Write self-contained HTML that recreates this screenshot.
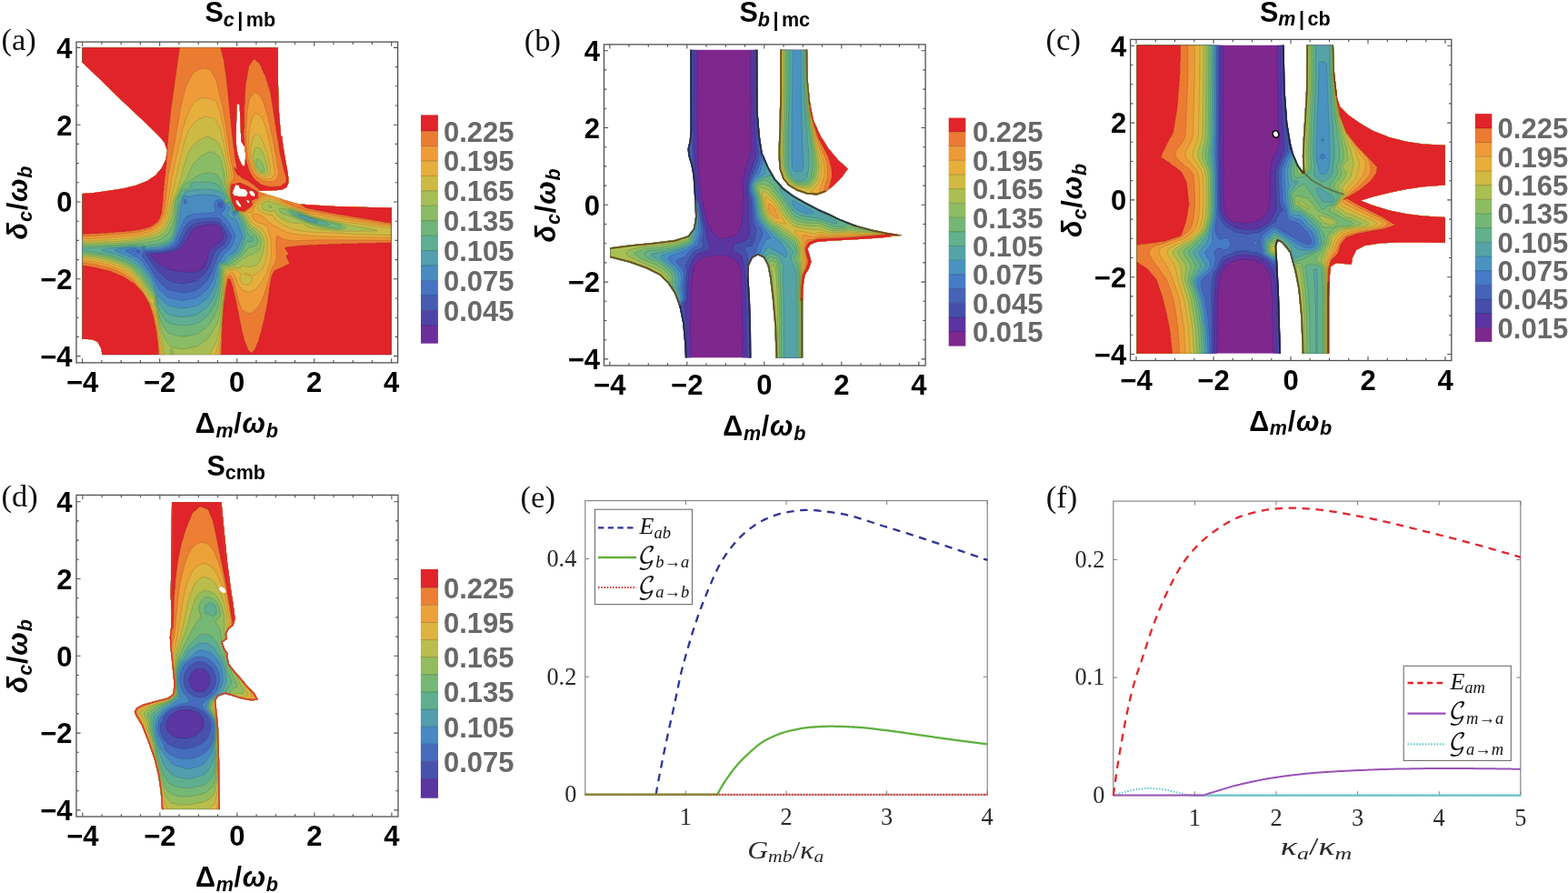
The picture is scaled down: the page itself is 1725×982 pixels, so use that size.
<!DOCTYPE html>
<html lang="en">
<head>
<meta charset="utf-8">
<title>Figure: entanglement and steering</title>
<style>
html,body{margin:0;padding:0;background:#fff;}
body{width:1725px;height:982px;overflow:hidden;}
svg{display:block;}
text{white-space:pre;}
</style>
</head>
<body>
<svg width="1725" height="982" viewBox="0 0 1725 982" role="img" aria-label="Six panel figure: contour plots of steering (a-d) and line plots of entanglement and steering (e-f)">
<rect width="1725" height="982" fill="#fff"/>
<defs><filter id="soft" x="0" y="0" width="100%" height="100%" filterUnits="userSpaceOnUse" color-interpolation-filters="sRGB"><feGaussianBlur stdDeviation="0.55"/></filter></defs>
<g filter="url(#soft)">
<rect width="1725" height="982" fill="#fff"/>
<g id="panel-a">
<clipPath id="clip-a"><path d="M430.7 390.3L430.7 228.4L430.5 228.4L406.6 228.0L370.0 227.1L348.0 225.8L333.3 224.7L330.0 224.8L321.6 222.5L311.5 219.5L301.3 216.0L291.1 212.9L283.0 210.5L287.0 209.8L295.2 209.5L303.3 209.3L310.4 208.5L315.3 206.0L317.4 200.9L317.2 194.8L316.0 186.7L314.3 177.5L312.7 168.3L311.3 159.2L310.2 150.0L309.1 149.6L306.7 120.3L305.8 83.7L305.8 52.1L305.8 52.1L90.5 52.1L90.5 68.6L108.8 85.9L130.8 107.5L154.7 129.9L173.0 147.4L180.7 156.2L184.0 165.2L182.5 175.3L178.1 184.5L171.2 192.7L162.0 199.1L149.2 204.1L134.5 207.4L118.0 210.1L103.3 212.0L90.5 213.1L90.5 372.8L101.5 373.2L107.4 376.1L111.2 382.9L112.5 390.2L112.5 390.3ZM259.7 156.1L259.7 150.0L260.5 114.4L263.6 114.4L265.1 150.0L265.6 156.1L269.2 161.2L270.2 170.4L269.7 180.5L268.2 183.6L265.6 180.5L262.6 173.4L260.5 165.3ZM255.5 212.1L257.0 208.0L259.0 203.0L262.6 203.5L264.1 207.0L270.7 208.6L272.8 212.1L271.2 216.2L263.6 216.2L257.5 215.2ZM276.3 215.2L274.0 212.1L274.3 209.6L277.9 210.1L280.9 213.6L279.9 216.2ZM274.8 222.8L272.3 223.3L270.7 219.8L273.8 220.3ZM263.1 227.4L260.0 223.8L259.0 219.8L261.6 220.3L265.1 225.4L265.6 227.9Z" clip-rule="evenodd"/></clipPath>
<g clip-path="url(#clip-a)">
<rect x="90.5" y="52.1" width="340.2" height="338.2" fill="#6a2f9a"/>
<path d="M430.2 389.9L90.8 389.9L90.7 52.4L430.2 52.3L430.2 389.9ZM211.9 299.4L214.8 298.9L220.2 296.9L222.2 295.9L224.1 294.4L225.4 292.4L227.6 286.9L229.1 278.9L230.9 274.9L232.9 272.4L235.1 270.4L242.2 266.1L244.7 262.9L245.7 259.9L245.3 257.4L241.2 249.4L239.2 247.3L236.8 246.9L225.8 247.6L216.8 249.5L213.9 251.3L211.4 253.8L203.4 267.9L199.8 272.1L197.8 273.9L188.8 277.5L168.2 279.7L166.8 280.1L166.2 280.9L166.4 281.9L167.9 283.9L174.2 289.4L177.8 291.7L186.8 296.4L200.2 299.2L211.9 299.4Z" fill="#4e44a7" fill-rule="evenodd" stroke="#000" stroke-opacity="0.22" stroke-width="0.6"/>
<path d="M430.2 389.9L90.8 389.9L90.7 52.4L430.2 52.3L430.2 389.9ZM203.7 311.9L215.8 309.1L224.2 302.0L227.9 296.9L232.2 288.9L233.3 285.9L234.6 280.4L235.6 278.4L239.2 274.1L245.3 269.4L247.2 266.9L249.4 261.9L249.6 259.9L249.4 258.4L245.4 250.8L242.0 245.8L240.2 244.2L237.2 243.5L225.2 244.2L217.2 245.2L212.8 246.7L209.9 248.3L208.1 250.3L204.8 255.2L199.1 266.4L196.6 269.9L194.2 272.0L189.0 274.9L186.8 275.6L176.2 277.4L165.0 277.9L161.8 278.5L160.8 279.1L160.9 280.4L162.4 282.9L172.2 295.9L176.8 301.0L184.2 307.7L186.8 309.1L190.8 310.3L199.8 312.1L203.7 311.9Z" fill="#465cb3" fill-rule="evenodd" stroke="#000" stroke-opacity="0.22" stroke-width="0.6"/>
<path d="M430.2 389.9L90.8 389.9L90.7 52.4L430.2 52.3L430.2 389.9ZM242.9 228.3L243.8 228.2L244.6 227.3L244.8 225.8L243.4 222.8L241.8 222.3L240.1 223.3L239.7 224.3L239.7 225.8L240.8 227.5L242.9 228.3ZM202.3 321.9L214.8 319.4L216.8 318.7L219.2 316.9L226.2 310.5L228.9 306.9L233.8 297.1L240.1 280.9L243.2 276.6L249.2 271.5L251.1 268.9L254.2 261.4L254.4 259.9L254.1 258.4L248.3 248.3L242.8 242.0L240.7 240.3L236.2 239.5L225.8 240.1L215.2 241.2L210.8 242.6L207.2 244.7L204.8 247.4L201.8 252.3L195.6 265.9L193.8 268.4L191.5 270.4L186.2 273.5L177.2 275.7L162.8 276.4L159.2 275.8L156.3 279.9L156.1 280.9L156.5 281.9L163.2 290.9L170.8 303.7L174.8 309.3L177.8 312.4L183.8 317.7L186.2 319.1L199.2 321.8L202.3 321.9ZM147.4 275.9L146.5 275.9L147.2 276.3L147.4 275.9ZM153.2 278.4L153.5 276.9L152.8 275.8L151.2 275.6L149.3 276.4L151.2 278.3L152.2 278.6L153.2 278.4Z" fill="#4673c2" fill-rule="evenodd" stroke="#000" stroke-opacity="0.22" stroke-width="0.6"/>
<path d="M430.2 389.9L90.8 389.9L90.7 52.4L430.2 52.3L430.2 389.9ZM204.5 224.3L205.5 223.3L205.7 221.8L204.8 219.9L203.2 219.1L202.5 220.3L202.6 222.8L203.2 224.1L204.5 224.3ZM202.1 330.4L214.2 328.1L216.8 327.2L220.8 324.5L228.8 317.6L233.2 309.7L235.0 305.9L236.2 301.7L238.8 289.9L239.9 288.4L242.7 285.9L246.8 279.1L252.2 274.6L253.9 272.9L258.9 261.4L259.2 259.9L258.7 257.9L252.4 245.8L250.0 242.3L243.1 235.3L243.4 234.3L247.0 230.8L248.0 227.8L247.6 226.3L246.0 224.3L244.2 221.0L242.8 219.9L240.8 219.6L238.8 219.8L237.2 220.6L236.3 221.8L235.7 225.3L236.9 232.3L236.3 233.3L231.8 234.1L213.2 235.2L208.8 236.6L205.2 238.3L203.2 240.6L200.8 244.5L196.5 256.4L192.8 264.9L190.2 267.9L185.3 271.4L176.2 274.1L162.8 275.0L160.8 274.7L158.6 272.9L157.2 272.6L156.3 273.9L157.0 275.9L156.2 276.6L153.8 274.3L147.8 273.3L142.2 273.9L137.7 275.4L137.9 275.9L139.4 276.9L153.2 284.5L155.8 286.7L165.8 300.7L175.2 318.4L183.2 326.1L185.2 327.4L187.2 328.0L198.8 330.2L202.1 330.4ZM258.6 234.3L258.2 233.6L257.2 233.8L257.8 234.7L258.6 234.3Z" fill="#498cc2" fill-rule="evenodd" stroke="#000" stroke-opacity="0.22" stroke-width="0.6"/>
<path d="M430.2 389.9L90.8 389.9L90.7 52.4L430.2 52.3L430.2 389.9ZM203.0 338.9L213.8 337.1L217.2 336.0L225.8 329.9L228.8 327.0L233.2 320.0L236.1 313.9L238.7 303.4L239.7 292.4L240.4 290.4L241.8 289.1L247.1 286.9L248.9 283.4L250.2 281.9L257.6 277.9L259.4 276.4L260.8 274.3L264.5 265.4L266.7 261.4L266.6 258.4L260.2 241.7L257.8 239.6L254.8 239.5L253.2 238.9L251.9 237.8L250.9 236.3L250.9 234.3L252.6 231.3L253.6 227.8L251.8 227.3L250.0 225.8L247.2 224.3L246.1 222.8L244.2 218.4L241.8 216.5L239.8 215.7L232.8 214.3L228.8 214.1L217.7 214.3L207.8 216.2L206.2 216.1L203.8 215.2L202.2 215.6L200.8 218.8L199.4 226.3L197.5 240.8L194.6 255.3L192.8 260.4L190.8 264.4L188.8 266.5L184.2 269.7L176.2 272.2L165.8 273.0L162.2 273.8L160.8 273.5L158.8 271.9L157.8 271.6L154.2 273.0L150.2 272.3L146.2 272.1L133.2 273.1L127.7 274.4L126.4 274.9L126.1 275.4L127.8 276.4L143.8 282.8L152.2 288.3L155.8 291.3L164.2 302.8L167.2 307.5L174.8 326.4L182.2 333.4L185.8 336.0L188.2 337.0L198.8 338.8L203.0 338.9ZM257.9 237.8L258.8 237.3L259.8 235.8L260.2 234.3L260.0 233.3L259.4 232.8L257.8 232.5L255.2 232.8L254.9 233.8L255.8 236.0L256.8 237.5L257.9 237.8Z" fill="#529fad" fill-rule="evenodd" stroke="#000" stroke-opacity="0.22" stroke-width="0.6"/>
<path d="M430.2 389.9L90.8 389.9L90.7 52.4L430.2 52.3L430.2 389.9ZM204.1 348.4L214.8 346.6L217.2 345.8L226.2 339.0L229.9 335.4L235.7 325.9L238.7 316.4L239.8 311.4L240.6 304.9L241.4 291.4L242.2 290.4L243.2 289.8L249.2 288.2L252.8 283.9L259.8 279.8L261.8 278.3L263.9 274.9L269.8 260.9L269.9 258.9L269.3 256.4L263.4 239.8L261.5 236.8L261.0 232.8L260.4 232.3L256.8 231.7L255.5 230.8L255.3 229.8L255.6 227.3L252.8 223.6L251.8 223.4L249.2 224.2L247.2 223.3L246.4 221.8L246.2 220.3L246.4 218.8L247.4 216.8L244.2 212.2L241.2 210.4L234.8 208.6L229.2 208.0L216.8 208.3L212.2 209.0L203.7 211.3L203.0 212.8L200.9 214.8L198.8 222.7L196.8 225.8L193.9 250.3L191.8 258.4L188.9 263.9L183.8 267.7L175.8 270.3L164.8 271.3L161.8 272.3L157.8 270.6L154.2 271.5L149.2 271.0L145.8 271.0L120.4 272.9L112.1 274.9L112.4 275.4L116.6 276.9L130.8 280.9L140.8 285.2L145.2 287.6L153.8 293.7L155.8 295.7L158.4 299.4L164.8 308.9L167.2 313.1L171.3 321.9L172.4 325.4L172.9 328.9L174.1 331.4L174.1 333.9L174.8 334.6L176.2 334.8L176.8 335.3L178.2 338.4L179.2 339.8L184.7 344.9L187.2 346.2L199.8 348.6L204.1 348.4ZM349.6 244.3L350.0 243.8L348.4 242.8L343.8 241.2L341.3 239.8L338.8 239.4L336.8 238.2L328.8 235.8L327.4 235.8L326.9 236.3L327.6 237.3L331.1 239.3L338.8 242.4L346.2 244.4L349.6 244.3Z" fill="#5fad92" fill-rule="evenodd" stroke="#000" stroke-opacity="0.22" stroke-width="0.6"/>
<path d="M430.2 389.9L90.8 389.9L90.8 275.8L101.2 277.1L119.8 280.5L131.8 284.2L142.2 288.9L146.2 291.4L153.2 297.0L155.9 299.9L169.9 321.4L171.7 326.4L172.7 331.9L172.8 334.9L174.9 338.9L175.8 342.5L179.8 349.4L184.2 353.9L187.2 355.9L198.2 358.0L202.8 358.1L213.8 356.4L217.2 355.2L219.8 353.8L226.8 348.4L229.7 345.4L236.5 334.9L239.8 324.0L241.8 311.4L242.9 291.9L244.2 290.8L249.8 290.1L251.2 289.5L255.8 285.0L262.8 280.6L265.6 277.4L270.2 267.8L271.8 265.6L272.8 265.1L275.2 266.0L276.8 266.0L278.2 265.0L278.7 263.4L277.8 261.2L274.2 259.4L273.2 258.2L265.4 239.3L262.4 235.3L261.5 232.3L257.8 231.5L256.6 230.8L256.2 229.8L256.2 227.2L253.2 222.5L252.2 221.5L251.8 221.4L250.2 222.9L249.2 223.3L248.2 223.1L247.3 222.3L246.9 220.8L247.1 219.8L247.8 219.2L249.8 218.4L249.7 217.3L245.8 210.7L240.8 203.6L238.2 202.1L230.2 200.1L215.8 200.5L212.8 200.8L210.8 201.8L209.5 203.8L208.5 206.8L206.8 208.4L204.2 209.1L201.2 208.5L200.2 209.7L199.5 211.8L198.2 213.2L197.7 215.3L196.2 217.8L196.0 220.8L196.7 222.3L194.9 224.8L195.1 227.3L192.9 244.3L192.0 250.3L190.3 256.9L189.2 259.2L187.2 262.1L183.2 265.4L180.8 266.5L175.2 268.1L164.2 269.2L161.2 270.2L157.2 269.3L153.8 269.8L148.2 269.6L90.8 272.8L90.7 52.4L430.2 52.3L430.2 389.9ZM361.8 247.3L361.9 246.8L361.2 246.3L357.1 244.3L343.8 240.3L341.8 239.3L339.2 238.8L337.2 237.5L335.2 237.2L329.2 234.7L326.2 234.4L322.2 233.4L320.2 232.3L319.4 232.8L322.2 235.3L327.2 238.6L338.8 243.4L345.8 245.5L354.8 247.1L358.2 247.5L361.8 247.3Z" fill="#70b679" fill-rule="evenodd" stroke="#000" stroke-opacity="0.22" stroke-width="0.6"/>
<path d="M430.2 389.9L90.8 389.9L90.8 278.1L102.8 279.2L119.2 282.3L131.2 286.0L141.3 290.4L145.2 292.8L155.2 302.7L164.6 317.4L168.9 322.4L171.1 327.4L171.9 331.9L171.9 334.9L173.7 339.4L174.0 342.4L176.2 350.9L177.8 355.2L180.8 361.0L185.2 365.6L188.2 367.5L198.8 369.8L201.8 370.0L216.8 367.4L225.8 360.8L229.8 357.0L237.1 345.4L240.4 334.4L242.4 321.4L244.1 296.9L244.8 293.0L246.2 292.0L251.8 291.4L255.5 289.4L266.5 280.9L272.8 273.3L274.8 272.2L280.2 270.8L282.2 269.6L283.3 267.9L283.7 264.9L283.2 262.4L282.2 260.4L280.2 258.2L276.2 254.8L273.2 251.4L270.2 246.0L266.9 238.8L263.2 235.0L262.1 232.3L257.8 230.9L257.0 230.3L256.8 227.3L251.8 219.3L249.0 213.8L247.0 207.8L244.8 204.3L243.0 198.8L241.2 195.7L238.8 192.8L236.2 191.0L233.2 190.2L228.8 189.7L222.8 191.0L215.8 194.1L213.2 195.7L208.2 200.3L205.2 200.9L202.5 202.8L201.5 205.3L200.2 206.8L196.9 212.8L194.8 217.3L193.6 221.3L192.5 229.3L191.8 239.8L190.9 244.3L189.2 248.7L185.1 256.9L183.2 258.5L176.2 263.3L172.2 264.7L160.8 266.7L152.8 267.4L119.2 269.8L90.8 270.6L90.7 52.4L430.2 52.3L430.2 389.9ZM248.8 222.4L247.7 221.3L248.1 220.3L248.8 220.1L249.7 220.3L250.0 221.3L249.8 221.9L248.8 222.4ZM373.3 250.8L375.7 250.3L376.7 249.3L375.8 248.5L374.1 247.8L339.8 238.3L337.2 236.8L335.2 236.4L329.8 233.9L323.8 232.4L321.2 231.2L318.2 231.3L316.6 232.3L316.7 233.3L317.7 234.3L326.8 239.6L342.2 245.6L358.8 249.5L369.8 251.0L373.3 250.8Z" fill="#8abb65" fill-rule="evenodd" stroke="#000" stroke-opacity="0.22" stroke-width="0.6"/>
<path d="M430.2 389.9L190.0 389.9L190.2 385.9L189.8 384.4L188.8 383.4L187.8 384.3L187.5 385.4L188.2 389.9L90.8 389.9L90.8 279.8L103.2 281.1L119.2 284.1L132.2 288.4L141.8 292.8L145.2 295.2L155.2 306.0L163.8 319.5L168.2 325.4L170.2 327.4L171.2 332.4L170.9 334.9L172.8 339.4L173.0 342.4L176.8 360.9L178.8 366.8L181.8 373.7L187.8 381.0L189.2 382.3L193.2 382.5L199.2 383.8L201.8 383.8L215.8 381.3L217.8 380.4L221.2 378.0L226.8 374.0L229.2 371.6L238.2 357.4L240.3 352.9L242.2 340.4L243.3 331.9L245.2 300.9L245.8 296.9L246.7 294.9L248.2 293.9L253.2 292.9L259.3 290.9L263.8 286.8L271.2 282.3L283.2 276.8L284.8 275.2L286.1 272.4L287.1 268.9L287.4 265.9L286.8 262.4L285.4 259.4L280.3 253.8L276.2 250.9L274.8 249.3L271.8 244.8L268.1 237.8L263.8 234.4L262.6 232.3L259.2 231.1L257.6 229.8L256.9 226.8L252.5 218.8L249.5 212.3L249.1 206.8L247.1 201.8L247.1 195.8L246.2 188.8L243.5 177.3L240.8 171.9L239.2 170.0L234.2 167.4L231.8 166.9L227.8 168.0L221.2 171.5L214.2 178.3L211.8 181.6L204.6 197.3L203.4 199.3L200.8 202.3L195.0 214.8L193.7 216.8L192.1 221.3L189.4 237.3L188.2 242.3L183.1 252.8L180.2 255.9L174.8 259.8L172.2 261.1L154.8 264.5L139.8 266.5L122.8 267.8L90.8 268.8L90.7 52.4L430.2 52.3L430.2 389.9ZM290.2 188.8L291.0 187.8L291.0 186.3L287.8 178.3L285.8 176.0L282.8 174.4L282.2 175.3L281.5 180.8L281.8 182.6L283.8 185.2L285.7 186.8L286.8 188.6L288.8 189.2L290.2 188.8ZM298.5 228.3L298.9 227.8L298.2 226.8L296.8 226.3L295.8 226.8L296.8 228.1L298.5 228.3ZM376.4 252.3L379.2 251.6L380.5 250.3L380.4 249.3L379.6 248.3L376.8 246.9L344.2 239.1L339.8 237.7L337.8 236.2L335.8 235.8L330.2 233.2L324.2 231.4L321.9 230.3L316.8 230.3L308.8 228.8L307.8 229.0L307.0 229.8L307.2 231.5L308.2 233.3L310.8 235.2L319.2 237.4L326.8 241.1L344.2 247.6L352.8 249.9L358.8 251.1L370.8 252.5L376.4 252.3Z" fill="#a7be54" fill-rule="evenodd" stroke="#000" stroke-opacity="0.22" stroke-width="0.6"/>
<path d="M430.2 389.9L230.7 389.9L231.3 387.9L237.2 377.4L238.8 373.8L242.3 356.9L242.9 352.9L243.8 338.9L244.8 331.9L246.0 305.4L246.6 300.9L247.6 297.9L248.3 296.9L249.8 295.8L256.8 294.2L259.2 294.1L262.8 295.1L264.2 295.0L265.2 294.4L266.2 291.9L266.8 291.6L270.8 293.3L273.8 293.8L280.2 292.3L282.8 291.2L284.4 289.4L288.2 281.4L289.9 274.4L290.8 266.9L290.5 263.9L289.6 260.9L288.3 258.4L286.4 255.8L282.8 252.3L278.4 249.3L276.2 247.3L273.2 243.5L271.0 238.8L269.9 237.3L264.8 234.4L262.4 231.8L259.8 231.2L258.0 229.3L250.5 212.3L250.5 206.8L249.1 201.3L249.7 194.3L249.5 189.3L247.2 177.2L244.2 166.0L241.2 159.1L239.2 156.1L236.8 154.0L229.8 150.4L228.2 150.1L226.2 150.5L217.8 155.0L210.2 162.6L208.2 165.6L204.0 176.3L198.5 197.8L195.1 209.3L193.3 213.8L191.8 216.3L190.4 220.3L185.4 240.8L182.1 248.8L180.2 251.5L178.4 253.3L173.9 256.9L171.2 258.3L155.8 262.0L139.8 264.3L123.2 265.8L90.8 267.0L90.7 52.4L430.2 52.3L430.2 389.9ZM291.5 191.3L292.9 190.8L294.0 189.8L294.5 187.3L293.6 180.8L290.8 171.5L289.0 167.3L286.2 163.5L284.2 162.1L282.2 162.2L281.2 162.8L280.1 164.3L278.3 171.8L278.9 175.8L280.1 179.3L280.5 182.8L281.8 184.8L282.4 186.8L285.5 189.8L289.2 191.2L291.5 191.3ZM414.4 253.8L415.0 253.3L411.4 252.3L386.2 248.0L376.8 245.5L358.8 241.8L344.2 238.4L339.8 236.9L337.8 235.4L335.8 234.9L322.8 229.7L317.7 229.3L308.8 225.6L296.5 221.3L293.8 221.0L291.2 221.6L289.2 223.4L287.6 226.3L287.7 227.8L288.7 229.3L292.8 231.9L296.8 232.9L301.2 232.1L302.8 232.3L303.6 233.3L304.2 236.2L305.2 237.3L311.2 241.1L316.8 243.7L322.4 245.3L324.8 245.6L328.2 245.0L332.6 245.8L335.1 246.8L339.2 249.6L342.2 250.5L352.2 252.3L371.2 254.0L390.8 254.3L414.4 253.8ZM180.2 389.9L90.7 389.9L90.8 281.7L102.8 282.9L115.8 285.4L130.8 290.1L143.2 296.4L154.2 308.0L166.2 327.9L166.8 328.2L168.8 328.0L169.8 328.9L169.9 332.4L169.1 334.4L169.4 335.4L171.2 337.9L171.9 339.9L172.0 342.9L173.3 347.9L174.1 354.4L180.3 387.4L180.6 389.9L180.2 389.9Z" fill="#ccba44" fill-rule="evenodd" stroke="#000" stroke-opacity="0.22" stroke-width="0.6"/>
<path d="M430.2 389.9L236.8 389.9L239.9 380.4L241.7 372.9L245.7 331.9L246.9 307.4L247.4 303.9L248.2 300.9L249.8 298.7L251.8 297.6L257.2 296.5L260.0 296.9L261.6 297.9L265.5 301.4L264.1 304.4L263.8 306.4L264.4 308.9L265.8 310.9L267.8 312.5L270.2 313.3L272.8 313.3L274.8 312.3L276.2 310.9L277.1 308.9L277.3 306.4L276.7 303.4L281.2 301.6L286.2 297.9L288.4 295.9L290.2 292.7L291.6 288.9L293.7 278.4L294.2 267.4L293.9 263.9L293.0 260.4L291.0 255.8L288.8 252.8L286.4 250.8L280.8 247.5L276.2 243.7L274.8 241.8L272.9 237.3L271.8 236.1L269.8 235.1L265.8 234.2L262.9 231.8L259.4 230.8L254.9 221.8L251.3 211.8L251.5 206.8L250.7 201.3L252.0 194.3L252.1 190.3L245.9 156.3L243.0 144.3L241.8 140.8L237.2 132.1L234.8 130.1L227.8 128.2L225.8 128.2L223.8 128.9L216.2 133.2L213.8 135.1L211.2 138.0L207.0 144.3L203.2 154.6L201.8 159.8L186.5 225.3L184.2 236.8L180.8 246.0L177.8 250.0L172.8 254.2L170.2 255.7L160.8 258.7L155.8 259.8L139.8 262.1L123.2 263.6L90.8 265.0L90.7 52.4L430.2 52.3L430.2 250.9L379.2 244.1L355.1 239.8L344.2 237.5L340.7 236.3L338.2 234.7L332.8 232.9L322.8 228.8L318.2 228.4L315.2 226.6L307.8 223.3L302.0 220.3L296.2 218.7L292.2 218.7L289.2 220.0L284.5 224.8L283.4 226.8L283.1 228.3L283.5 229.8L284.8 231.3L291.2 234.9L294.8 236.1L299.8 236.5L301.3 239.3L302.8 241.1L308.0 245.3L311.8 247.7L320.2 251.3L330.8 253.9L336.2 254.7L349.8 255.6L367.8 256.1L387.8 257.4L430.2 258.7L430.2 389.9ZM295.0 193.3L296.2 192.6L297.2 191.3L297.6 188.3L297.0 182.3L293.9 167.8L288.2 153.2L284.2 148.2L283.2 147.5L281.8 147.5L279.8 148.8L278.2 151.0L277.2 154.3L276.2 160.0L276.0 162.8L276.5 171.8L277.6 176.8L279.0 180.3L279.5 183.3L281.8 188.3L284.8 191.0L289.8 193.4L292.2 193.8L295.0 193.3ZM177.8 389.9L90.7 389.9L90.8 283.8L102.8 285.2L116.2 287.9L130.2 292.6L135.8 295.4L142.8 299.4L145.2 301.7L152.5 309.9L156.8 316.4L162.9 326.9L167.7 336.4L170.2 339.9L170.6 342.9L172.2 348.4L174.1 360.4L177.7 386.9L177.8 389.9ZM275.2 303.0L270.8 302.4L268.8 301.4L269.0 300.9L270.2 300.4L272.8 300.7L275.0 301.9L275.7 302.9L275.2 303.0Z" fill="#e6af3d" fill-rule="evenodd" stroke="#000" stroke-opacity="0.22" stroke-width="0.6"/>
<path d="M101.2 262.4L90.8 262.7L90.8 52.3L430.3 52.4L430.2 249.0L387.2 242.8L341.2 234.9L322.2 227.6L319.2 227.1L316.2 225.3L309.8 222.5L302.8 218.0L299.8 216.9L296.2 216.3L293.2 216.2L290.8 216.8L288.8 217.8L286.3 219.8L281.6 224.8L280.0 227.8L278.2 232.9L277.5 233.8L272.2 233.4L266.2 233.5L263.4 231.8L259.8 231.1L259.0 230.3L255.2 221.8L252.2 212.3L252.1 201.8L254.3 194.8L254.5 190.3L251.3 174.3L246.1 141.8L242.3 123.8L238.2 113.3L236.8 111.1L235.2 110.3L227.8 107.9L224.8 107.6L218.6 108.8L212.8 113.7L209.8 118.4L205.2 128.3L201.1 141.8L190.1 190.8L182.6 234.3L180.7 239.8L177.2 246.5L174.2 249.4L168.8 253.3L163.2 255.3L156.2 257.4L137.8 259.9L120.8 261.3L101.2 262.4ZM296.0 196.8L298.2 196.1L300.2 194.4L301.8 192.3L302.2 190.3L299.5 171.8L295.8 152.8L291.8 138.5L289.2 131.3L287.2 128.4L285.2 126.4L283.2 125.2L281.2 125.0L279.8 126.0L278.2 128.4L274.7 139.3L273.4 154.8L274.8 172.8L276.1 177.8L277.6 181.3L278.1 183.8L280.8 189.3L283.8 192.2L289.2 195.8L291.8 196.5L296.0 196.8ZM430.2 389.9L240.8 389.9L240.8 386.9L242.0 380.9L243.0 372.9L244.1 354.9L247.9 307.9L248.3 305.4L249.2 302.8L250.8 300.9L252.2 300.1L254.8 299.9L256.8 300.5L258.1 302.4L261.7 311.9L266.2 318.3L268.2 319.7L271.2 320.8L273.2 321.0L275.8 320.6L279.2 319.3L281.5 317.9L287.2 310.9L292.8 300.9L297.4 287.4L298.4 281.4L298.4 269.9L297.7 262.9L295.0 251.8L293.8 249.5L291.2 247.6L288.8 246.3L284.2 244.8L278.7 241.3L277.6 238.8L277.7 236.8L278.2 235.6L279.2 235.2L283.2 235.5L286.1 236.3L289.3 238.3L297.8 245.8L300.7 247.8L313.8 254.5L317.8 256.0L321.8 256.9L333.8 258.5L352.8 259.7L430.2 261.5L430.2 389.9ZM175.8 389.9L90.7 389.9L90.8 286.3L103.2 287.8L116.8 290.7L122.2 292.4L129.2 295.2L134.8 297.7L143.2 303.1L150.9 311.4L155.5 317.4L163.9 331.4L167.5 338.9L170.1 346.4L173.1 361.9L175.9 386.9L175.8 389.9Z" fill="#ee9b38" fill-rule="evenodd" stroke="#000" stroke-opacity="0.22" stroke-width="0.6"/>
<path d="M93.8 259.9L90.8 260.0L90.8 52.3L430.3 52.4L430.2 247.0L369.3 237.3L336.8 231.3L325.2 227.3L313.2 222.3L310.6 220.8L304.2 215.5L301.2 214.4L297.2 213.7L292.2 213.8L288.2 215.2L280.2 222.3L278.2 226.3L276.2 228.6L274.2 230.1L269.2 232.5L266.2 232.7L263.8 231.7L259.6 230.8L255.5 221.8L252.8 212.3L253.5 202.3L254.2 200.5L256.8 196.8L257.3 194.8L257.3 192.3L253.7 174.3L248.8 139.8L245.1 117.8L237.9 89.3L236.8 86.2L232.8 78.9L231.4 77.3L229.2 76.3L223.2 75.1L220.8 75.6L218.2 76.8L214.2 79.0L211.8 81.3L206.1 91.8L203.8 97.8L198.9 117.3L192.3 156.3L185.2 192.1L181.3 228.3L179.2 236.8L175.3 244.3L172.9 246.8L166.8 251.1L154.2 255.0L137.2 257.1L93.8 259.9ZM299.5 199.8L301.8 199.1L303.1 197.8L305.8 193.8L306.6 190.8L304.0 173.8L300.3 153.3L295.2 129.8L289.2 110.8L287.8 108.1L285.8 105.6L282.2 102.0L280.8 101.5L278.8 102.9L275.2 107.3L274.1 109.3L271.7 124.3L270.7 149.8L272.6 173.3L276.0 184.8L279.1 190.3L282.1 193.8L287.2 197.7L289.8 199.0L296.2 200.0L299.5 199.8ZM430.2 389.9L242.9 389.9L242.6 386.9L245.5 342.4L247.7 320.4L249.3 307.9L249.9 305.4L251.2 303.6L252.8 303.1L254.2 303.6L255.2 304.8L258.5 315.4L262.1 330.4L265.2 338.9L266.8 340.9L270.8 343.9L272.2 344.6L274.2 344.6L276.5 343.9L278.8 342.4L282.8 338.5L286.8 332.9L290.8 323.2L296.9 302.9L298.3 296.9L299.8 293.8L302.9 288.9L303.8 286.4L304.2 279.9L303.7 269.9L304.1 260.9L304.8 259.3L305.8 259.4L309.2 261.7L311.9 262.9L317.8 264.3L321.8 264.8L353.2 263.8L430.2 264.3L430.2 389.9ZM174.8 389.9L90.7 389.9L90.8 289.0L102.8 290.4L117.7 293.9L122.8 295.3L132.2 299.4L143.2 306.1L146.8 309.2L154.2 317.6L157.5 321.9L164.5 333.9L168.9 346.9L172.4 363.9L174.1 378.4L174.9 387.4L174.8 389.9Z" fill="#ec7b32" fill-rule="evenodd" stroke="#000" stroke-opacity="0.22" stroke-width="0.6"/>
<path d="M99.2 257.2L90.8 257.3L90.7 52.4L197.7 52.4L197.7 53.4L197.2 53.9L197.2 56.9L196.7 57.4L196.7 60.4L196.2 60.9L196.2 63.9L195.7 64.3L195.7 67.3L195.2 67.8L195.2 70.8L194.7 71.3L194.7 74.8L194.2 75.3L194.2 78.3L193.7 78.8L193.7 81.8L193.2 82.3L193.2 85.3L192.7 85.8L192.7 88.8L192.2 89.3L192.2 92.8L191.7 93.3L191.7 96.3L191.2 96.8L191.2 99.8L190.7 100.3L190.7 103.3L190.2 103.8L190.2 106.8L189.7 107.3L189.7 110.3L189.2 110.8L189.2 113.8L188.7 114.3L188.7 117.3L188.2 117.8L187.7 125.8L187.2 126.3L187.2 130.3L186.7 130.8L186.7 134.8L186.2 135.3L185.7 145.3L185.2 145.8L185.2 150.8L184.7 151.3L184.7 157.8L184.2 158.3L184.2 165.8L183.7 166.3L183.7 173.8L183.2 174.3L183.2 180.8L182.7 181.3L182.7 185.3L182.2 185.8L181.7 193.8L181.2 194.3L181.2 198.8L180.7 199.3L180.7 203.8L180.2 204.3L180.2 208.8L179.7 209.3L179.2 221.8L178.7 222.3L178.7 227.8L178.2 228.3L177.7 234.8L174.7 241.8L172.8 244.3L166.8 248.8L159.2 251.3L157.8 251.3L155.8 252.3L154.2 252.3L153.8 252.8L150.2 252.8L149.8 253.3L146.8 253.3L146.2 253.8L143.2 253.8L142.2 254.3L138.8 254.3L138.2 254.7L126.2 255.3L124.8 255.8L119.2 255.8L118.8 256.2L110.2 256.3L109.8 256.7L99.8 256.8L99.2 257.2ZM305.8 210.8L287.2 210.8L281.8 205.3L281.2 205.3L279.2 203.3L277.2 202.3L275.8 200.8L275.2 200.8L273.8 199.3L273.2 199.3L271.2 197.8L270.2 197.8L266.2 195.8L262.8 192.8L262.2 192.8L260.3 190.8L258.3 186.8L258.3 185.8L257.8 185.3L257.8 184.3L258.2 183.9L260.2 186.3L260.2 186.9L260.8 186.8L260.8 184.8L260.3 184.3L259.8 179.3L259.3 178.8L259.3 176.8L258.8 176.3L258.8 173.3L258.3 172.8L258.3 169.8L257.8 169.3L257.8 165.8L257.3 165.3L257.3 162.3L256.8 161.8L256.8 158.3L256.3 157.8L256.3 153.8L255.8 153.3L255.8 149.3L255.3 148.8L255.3 144.8L254.8 144.3L254.8 140.3L254.3 139.8L254.3 135.3L253.8 134.8L253.8 130.3L253.3 129.8L253.3 125.3L252.8 124.8L252.8 119.8L252.3 119.3L252.3 115.3L251.8 114.8L251.8 110.3L251.3 109.8L251.3 105.3L250.8 104.8L250.8 100.8L250.3 100.3L250.3 95.8L249.8 95.3L249.8 91.3L249.3 90.8L248.8 82.8L248.3 82.3L248.3 79.3L247.8 78.8L247.8 75.8L247.3 75.3L246.8 69.3L246.3 68.8L246.3 65.8L245.8 65.3L245.8 63.9L245.3 63.4L245.3 61.9L244.8 61.4L244.8 59.9L244.3 59.4L244.3 57.9L243.8 57.4L243.8 55.9L243.3 55.4L242.8 52.4L307.7 52.4L307.7 90.8L308.2 91.3L308.2 107.3L308.7 107.8L308.7 121.3L309.2 121.8L309.7 133.8L310.2 134.3L310.7 146.3L311.2 146.8L311.2 149.8L312.2 151.3L312.7 159.8L313.2 160.3L313.2 162.8L313.7 163.3L313.7 165.8L314.2 166.3L314.7 171.8L315.2 172.3L315.2 174.8L315.7 175.3L315.7 177.8L316.2 178.3L316.2 180.3L316.7 180.8L316.7 182.8L317.2 183.3L317.2 185.3L317.7 185.8L318.2 192.3L318.7 192.8L318.7 202.3L317.7 203.8L317.2 205.8L315.8 207.3L314.2 207.8L313.2 208.8L311.2 209.8L309.8 209.8L309.2 210.3L306.2 210.3L305.8 210.8ZM304.3 205.3L304.8 204.9L308.2 204.9L312.2 201.9L312.8 201.9L314.2 200.4L314.8 199.8L314.8 194.8L314.3 194.3L314.3 192.8L313.8 192.3L313.8 191.3L312.8 189.3L312.8 187.8L311.8 185.8L311.3 181.8L310.8 181.3L310.8 179.8L310.3 179.3L310.3 177.3L309.8 176.8L309.8 175.3L309.3 174.8L309.3 172.8L308.8 172.3L308.8 170.8L308.3 170.3L308.3 168.3L307.8 167.8L307.8 165.3L307.3 164.8L307.3 162.3L306.8 161.8L306.8 159.3L306.3 158.8L306.3 156.3L305.8 155.8L305.8 153.3L305.3 152.8L305.3 150.3L304.8 149.8L304.8 147.3L304.3 146.8L304.3 144.3L303.8 143.8L303.8 140.8L303.3 140.3L303.3 137.8L302.8 137.3L302.3 130.8L301.8 130.3L301.8 127.8L301.3 127.3L301.3 124.3L300.8 123.8L300.8 121.3L300.3 120.8L300.3 117.8L299.8 117.3L299.8 114.8L299.3 114.3L299.3 111.8L298.8 111.3L298.8 108.3L298.3 107.8L297.8 102.3L297.3 101.8L297.3 100.8L296.3 98.8L296.3 97.3L295.8 96.8L295.8 95.8L294.8 93.8L294.8 92.3L294.3 91.8L294.3 90.8L293.8 90.3L293.8 89.3L292.8 87.3L292.3 84.3L287.8 75.3L287.8 74.3L286.3 71.3L285.8 70.3L283.8 68.3L283.2 68.3L280.2 65.3L279.2 65.3L277.7 66.8L277.7 67.3L273.7 72.8L273.2 77.3L272.7 77.8L272.7 80.3L272.2 80.8L272.2 82.8L271.7 83.3L271.7 85.8L271.2 86.3L271.2 88.3L270.7 88.8L270.7 91.3L270.2 91.8L270.2 97.3L269.7 97.8L269.2 115.8L268.7 116.3L268.7 141.8L268.2 142.3L268.2 150.8L268.7 151.3L268.7 157.3L269.2 157.8L269.2 163.8L269.7 164.3L269.7 170.3L270.2 170.8L270.2 174.3L270.7 174.8L270.7 176.3L271.2 176.8L271.2 178.3L271.7 178.8L271.7 180.3L272.7 182.3L272.7 183.8L273.2 184.3L273.7 187.3L275.2 189.3L276.2 191.8L277.2 192.8L277.7 194.3L278.7 195.3L279.8 197.4L280.2 197.4L281.8 198.9L283.8 199.9L287.2 202.9L289.8 203.4L290.2 203.9L293.8 204.4L295.8 205.4L304.3 205.3ZM269.2 231.9L266.8 232.1L263.8 231.4L261.2 231.4L259.2 230.3L259.2 229.3L257.7 226.8L257.6 225.8L256.2 223.3L255.2 220.3L253.4 212.3L254.3 203.3L255.8 202.4L259.8 201.9L260.2 201.4L261.8 201.4L262.2 200.9L264.2 200.9L275.2 205.9L276.2 206.9L281.2 209.4L283.7 211.3L283.7 217.3L282.8 218.2L281.8 218.3L279.2 219.8L278.2 219.8L276.8 220.8L277.5 224.8L277.0 226.3L269.2 231.9ZM430.2 245.3L419.8 243.7L419.2 243.3L416.8 243.2L416.2 242.8L413.8 242.7L413.2 242.3L411.2 242.3L410.8 241.8L408.2 241.8L407.8 241.3L405.2 241.3L404.2 240.8L401.8 240.7L401.2 240.3L398.8 240.2L398.2 239.8L395.8 239.7L395.2 239.3L392.8 239.2L392.2 238.8L389.8 238.7L389.2 238.3L386.8 238.3L386.2 237.8L383.8 237.8L383.2 237.3L380.8 237.3L380.2 236.8L371.2 235.7L370.8 235.3L368.8 235.3L368.2 234.8L360.8 233.8L360.2 233.3L358.2 233.3L357.8 232.8L355.8 232.8L355.2 232.3L352.8 232.3L352.2 231.8L347.8 231.3L347.2 230.8L345.8 230.8L345.2 230.3L340.8 229.8L340.2 229.3L338.2 229.3L337.8 228.8L336.8 228.8L333.2 226.3L331.8 225.8L329.8 223.8L330.2 223.4L342.2 223.4L342.8 223.9L351.8 223.9L352.2 224.4L357.2 224.4L357.8 224.9L368.2 225.4L368.8 225.9L382.8 225.9L383.2 226.4L400.8 226.4L401.2 226.9L430.2 226.9L430.2 245.3ZM430.2 389.9L243.6 389.9L244.7 355.4L246.2 336.4L248.3 319.9L250.8 306.9L251.8 305.9L252.7 306.9L254.2 309.9L254.2 310.9L255.2 312.4L255.7 314.9L256.2 315.4L257.2 321.4L257.7 321.9L257.7 323.4L258.7 326.4L258.7 327.9L259.2 328.4L259.2 329.9L259.6 330.4L259.7 332.4L260.2 332.9L260.2 334.9L260.7 335.4L261.2 339.9L261.7 340.4L261.7 341.9L262.2 342.4L262.7 346.9L263.2 347.4L263.2 349.9L263.7 350.4L263.7 352.4L264.2 352.9L264.2 354.9L264.7 355.4L264.7 357.4L265.2 357.9L265.2 359.9L265.7 360.4L266.2 364.4L266.7 364.9L266.7 366.4L267.2 366.9L267.2 368.4L267.7 368.9L267.7 370.4L268.2 370.9L268.2 372.9L268.7 373.4L268.7 374.4L269.7 375.9L269.7 376.9L270.7 378.4L270.7 379.4L271.7 380.9L271.7 381.9L273.2 384.9L276.2 387.9L276.8 387.9L280.3 384.4L281.3 382.4L281.3 381.4L282.3 379.9L282.3 378.9L284.8 373.9L285.3 370.9L285.8 370.4L285.8 368.9L286.8 366.9L286.8 365.4L287.8 363.4L288.3 359.9L288.8 359.4L288.8 357.4L289.3 356.9L289.3 355.4L289.8 354.9L289.8 353.4L290.3 352.9L290.3 351.4L290.8 350.9L291.3 346.4L291.8 345.9L291.8 343.9L292.3 343.4L292.3 341.9L292.8 341.4L292.8 339.4L293.3 338.9L293.8 334.4L294.3 333.9L294.3 330.9L294.8 330.4L294.8 326.9L295.3 326.4L295.3 323.4L295.8 322.9L296.3 315.9L296.8 315.4L297.3 310.4L297.8 309.9L297.8 307.4L298.3 306.9L298.3 304.9L298.8 304.4L298.8 303.4L301.3 298.4L302.8 296.9L304.8 296.4L307.2 294.9L308.2 294.9L316.2 290.9L317.2 290.9L318.3 289.9L317.8 287.9L314.8 281.9L314.8 281.4L317.3 278.9L317.3 278.4L313.8 273.4L313.8 272.4L314.2 271.9L315.2 271.9L315.8 271.4L319.8 271.4L320.2 270.9L324.8 270.9L325.2 270.4L329.8 270.4L330.2 269.9L337.2 269.9L337.8 269.4L349.2 269.4L349.8 268.9L361.2 268.9L361.8 268.4L375.8 268.4L376.2 267.9L393.8 267.9L394.2 267.4L413.8 267.4L414.2 266.9L430.2 266.9L430.2 389.9ZM174.2 389.9L90.7 389.9L90.8 291.9L95.8 292.4L96.2 292.9L99.2 292.9L99.8 293.4L102.2 293.4L102.8 293.9L104.8 293.9L105.2 294.4L106.8 294.4L107.2 294.9L108.8 294.9L109.2 295.4L110.8 295.4L111.2 295.9L112.8 295.9L113.2 296.4L114.8 296.4L115.2 296.9L117.2 296.9L117.8 297.4L119.2 297.4L119.8 297.9L121.2 297.9L126.2 300.4L127.2 300.4L130.8 302.4L131.8 302.4L137.8 305.4L138.8 306.4L140.2 306.9L144.2 309.9L147.2 311.5L156.2 321.0L158.3 323.9L164.3 334.4L168.8 348.9L171.8 364.4L173.8 380.7L174.2 389.9Z" fill="#e0242a" fill-rule="evenodd" stroke="#000" stroke-opacity="0.22" stroke-width="0.6"/>

</g>
<rect x="84.0" y="46.1" width="353.6" height="352.8" fill="none" stroke="#505050" stroke-width="1.3"/>
<path d="M90.7 398.9v-4.6M90.7 46.1v4.6M84.0 391.6h4.6M437.6 391.6h-4.6M111.9 398.9v-2.8M111.9 46.1v2.8M84.0 370.4h2.8M437.6 370.4h-2.8M133.2 398.9v-2.8M133.2 46.1v2.8M84.0 349.2h2.8M437.6 349.2h-2.8M154.4 398.9v-2.8M154.4 46.1v2.8M84.0 328.0h2.8M437.6 328.0h-2.8M175.7 398.9v-4.6M175.7 46.1v4.6M84.0 306.8h4.6M437.6 306.8h-4.6M196.9 398.9v-2.8M196.9 46.1v2.8M84.0 285.6h2.8M437.6 285.6h-2.8M218.2 398.9v-2.8M218.2 46.1v2.8M84.0 264.4h2.8M437.6 264.4h-2.8M239.4 398.9v-2.8M239.4 46.1v2.8M84.0 243.2h2.8M437.6 243.2h-2.8M260.7 398.9v-4.6M260.7 46.1v4.6M84.0 222.0h4.6M437.6 222.0h-4.6M281.9 398.9v-2.8M281.9 46.1v2.8M84.0 200.8h2.8M437.6 200.8h-2.8M303.2 398.9v-2.8M303.2 46.1v2.8M84.0 179.6h2.8M437.6 179.6h-2.8M324.4 398.9v-2.8M324.4 46.1v2.8M84.0 158.4h2.8M437.6 158.4h-2.8M345.7 398.9v-4.6M345.7 46.1v4.6M84.0 137.2h4.6M437.6 137.2h-4.6M366.9 398.9v-2.8M366.9 46.1v2.8M84.0 116.0h2.8M437.6 116.0h-2.8M388.2 398.9v-2.8M388.2 46.1v2.8M84.0 94.8h2.8M437.6 94.8h-2.8M409.4 398.9v-2.8M409.4 46.1v2.8M84.0 73.6h2.8M437.6 73.6h-2.8M430.7 398.9v-4.6M430.7 46.1v4.6M84.0 52.4h4.6M437.6 52.4h-4.6" stroke="#505050" stroke-width="1.1" fill="none"/>
<g font-family='"Liberation Sans", "DejaVu Sans", sans-serif' font-weight="bold" font-size="31px" fill="#000">
<text x="90.7" y="431.2" text-anchor="middle">−4</text>
<text x="79.6" y="402.9" text-anchor="end">−4</text>
<text x="175.7" y="431.2" text-anchor="middle">−2</text>
<text x="79.6" y="318.1" text-anchor="end">−2</text>
<text x="260.7" y="431.2" text-anchor="middle">0</text>
<text x="79.6" y="233.3" text-anchor="end">0</text>
<text x="345.7" y="431.2" text-anchor="middle">2</text>
<text x="79.6" y="148.5" text-anchor="end">2</text>
<text x="430.7" y="431.2" text-anchor="middle">4</text>
<text x="79.6" y="63.7" text-anchor="end">4</text>
</g>
<text x="214.8" y="476.1" textLength="91" lengthAdjust="spacing" font-family='"Liberation Sans", "DejaVu Sans", sans-serif' font-weight="bold" font-size="30.5px" fill="#000">Δ<tspan font-style="italic" font-size="21.5px" dy="4.6">m</tspan><tspan dy="-4.6">/</tspan><tspan font-style="italic">ω</tspan><tspan font-style="italic" font-size="21.5px" dy="4.6">b</tspan></text>
<text transform="translate(30.4 263.5) rotate(-90)" textLength="81" lengthAdjust="spacing" font-family='"Liberation Sans", "DejaVu Sans", sans-serif' font-weight="bold" font-size="30.5px" fill="#000"><tspan font-style="italic">δ</tspan><tspan font-style="italic" font-size="21.5px" dy="4.6">c</tspan><tspan dy="-4.6">/</tspan><tspan font-style="italic">ω</tspan><tspan font-style="italic" font-size="21.5px" dy="4.6">b</tspan></text>
<text x="1.5" y="54.6" font-family='"Liberation Serif", "DejaVu Serif", serif' font-size="34.6px" fill="#111">(a)</text>
<text x="225.5" y="24.2" font-family='"Liberation Sans", "DejaVu Sans", sans-serif' font-weight="bold" font-size="30.5px" fill="#000"><tspan>S</tspan><tspan font-style="italic" font-size="21.5px" dy="4.8">c</tspan><tspan font-size="21.5px" dx="3.5">|</tspan><tspan font-size="21.5px" dx="3.5">mb</tspan></text>
<g>
<rect x="463.0" y="126.40" width="18.9" height="18.10" fill="#e0242a"/>
<rect x="463.0" y="144.20" width="18.9" height="16.72" fill="#ec7b32"/>
<rect x="463.0" y="160.62" width="18.9" height="16.72" fill="#ee9b38"/>
<rect x="463.0" y="177.04" width="18.9" height="16.72" fill="#e6af3d"/>
<rect x="463.0" y="193.46" width="18.9" height="16.72" fill="#ccba44"/>
<rect x="463.0" y="209.88" width="18.9" height="16.72" fill="#a7be54"/>
<rect x="463.0" y="226.30" width="18.9" height="16.72" fill="#8abb65"/>
<rect x="463.0" y="242.72" width="18.9" height="16.72" fill="#70b679"/>
<rect x="463.0" y="259.14" width="18.9" height="16.72" fill="#5fad92"/>
<rect x="463.0" y="275.56" width="18.9" height="16.72" fill="#529fad"/>
<rect x="463.0" y="291.98" width="18.9" height="16.72" fill="#498cc2"/>
<rect x="463.0" y="308.40" width="18.9" height="16.72" fill="#4673c2"/>
<rect x="463.0" y="324.82" width="18.9" height="16.72" fill="#465cb3"/>
<rect x="463.0" y="341.24" width="18.9" height="16.72" fill="#4e44a7"/>
<rect x="463.0" y="357.66" width="18.9" height="20.04" fill="#6a2f9a"/>
<path d="M463.0 144.20H481.9M463.0 160.62H481.9M463.0 177.04H481.9M463.0 193.46H481.9M463.0 209.88H481.9M463.0 226.30H481.9M463.0 242.72H481.9M463.0 259.14H481.9M463.0 275.56H481.9M463.0 291.98H481.9M463.0 308.40H481.9M463.0 324.82H481.9M463.0 341.24H481.9M463.0 357.66H481.9" stroke="#000" stroke-opacity="0.22" stroke-width="0.9" fill="none"/>
</g>
<g font-family='"Liberation Sans", "DejaVu Sans", sans-serif' font-weight="bold" font-size="31px" fill="#686868">
<text x="488.0" y="155.6">0.225</text>
<text x="488.0" y="188.4">0.195</text>
<text x="488.0" y="221.3">0.165</text>
<text x="488.0" y="254.1">0.135</text>
<text x="488.0" y="287.0">0.105</text>
<text x="488.0" y="319.8">0.075</text>
<text x="488.0" y="352.6">0.045</text>
</g>
</g>
<g id="panel-b">
<clipPath id="clip-b"><path d="M883.1 393.6L883.1 366.6L883.1 330.0L883.6 315.3L885.5 302.5L889.9 295.2L892.4 287.8L890.6 280.5L888.4 273.5L891.7 268.8L898.7 266.0L913.3 264.7L931.6 263.8L950.0 262.7L968.3 261.4L977.5 260.5L992.5 258.7L977.5 256.3L959.1 252.6L940.8 247.5L922.5 240.2L913.3 235.6L900.5 230.0L885.8 222.3L873.0 215.0L862.0 206.7L852.8 196.6L845.5 183.8L840.0 171.0L838.8 169.1L836.0 150.8L833.6 123.3L833.3 54.6L759.4 54.6L759.4 105.0L759.6 141.6L758.7 154.5L756.6 163.6L757.2 171.0L760.5 182.0L762.5 193.0L763.4 205.8L764.2 220.0L765.1 238.3L763.1 251.2L756.6 259.4L742.0 264.0L720.0 266.7L692.5 269.5L671.4 272.2L671.3 272.9L671.3 282.5L671.4 283.2L692.5 288.7L710.8 295.2L725.5 302.5L734.7 311.6L742.0 322.6L747.5 337.3L751.2 355.6L753.0 375.8L753.9 393.6L753.9 393.6L826.3 393.6L826.0 360.0L825.0 330.0L823.5 305.0L824.0 292.0L828.0 283.5L834.0 280.5L840.0 283.5L844.5 292.0L847.0 305.0L850.0 330.0L852.5 360.0L853.5 393.6ZM858.3 54.6L858.3 105.0L857.4 141.6L856.5 169.1L857.4 185.6L861.1 196.6L867.5 204.3L876.7 209.8L887.7 213.5L898.7 214.4L907.8 211.3L917.0 204.0L926.2 194.8L932.7 185.6L922.5 176.5L911.5 163.6L902.3 149.0L895.0 132.5L891.3 114.2L888.6 86.7L888.1 54.6Z" clip-rule="evenodd"/></clipPath>
<g clip-path="url(#clip-b)">
<rect x="671.3" y="54.6" width="339.2" height="339.0" fill="#7e288e"/>
<path d="M1010.0 393.4L817.1 393.4L816.4 384.9L817.0 375.4L816.9 359.4L816.1 349.4L815.3 303.9L814.4 296.4L813.0 292.2L811.0 288.3L809.5 286.4L806.5 284.4L800.0 281.5L785.5 280.7L774.5 283.2L770.5 284.9L768.0 287.0L765.5 290.0L763.5 293.1L762.5 295.9L761.1 306.9L760.7 314.9L760.7 326.9L759.8 334.4L759.9 350.4L759.5 359.0L759.9 375.9L760.5 385.4L759.9 393.4L671.5 393.4L671.5 54.8L766.8 54.9L767.6 65.3L767.2 123.3L767.9 154.3L767.9 173.8L768.5 185.7L771.3 213.8L776.5 238.1L780.0 248.7L782.5 253.3L784.5 255.9L790.5 261.9L793.0 262.6L802.0 261.4L806.6 259.9L810.1 257.9L812.0 255.5L814.0 251.5L816.0 242.9L816.9 233.8L817.5 214.3L817.5 203.8L816.6 199.3L816.5 197.3L819.0 191.3L821.4 180.3L824.9 171.3L826.0 160.8L825.5 136.3L825.8 106.3L825.3 94.8L825.3 67.3L826.0 54.9L1010.1 54.9L1010.0 393.4Z" fill="#5c34a2" fill-rule="evenodd" stroke="#000" stroke-opacity="0.22" stroke-width="0.6"/>
<path d="M755.0 393.4L671.5 393.4L671.5 54.8L763.4 54.9L763.5 163.3L764.2 178.8L767.8 217.8L770.7 225.3L773.5 240.6L777.0 253.3L777.1 258.9L777.5 261.9L780.5 268.4L780.8 270.4L779.9 273.9L778.0 275.8L768.5 278.8L765.5 280.9L761.5 286.5L758.4 293.9L756.1 313.9L756.5 327.4L756.0 329.4L753.5 333.4L752.9 335.4L754.8 350.4L755.6 361.9L755.1 376.9L755.4 393.4L755.0 393.4ZM1010.0 393.4L821.5 393.4L820.5 317.1L819.3 297.4L818.3 291.4L816.0 281.9L814.2 279.9L808.0 276.0L807.2 274.4L807.0 272.4L807.6 269.9L809.0 268.5L818.5 265.4L822.0 263.1L823.8 259.9L824.9 254.3L824.9 251.3L823.7 245.8L824.0 231.8L823.2 216.3L821.7 208.8L821.9 201.8L822.4 198.8L831.5 172.1L832.1 168.3L829.7 123.3L829.5 54.9L1010.1 54.9L1010.0 393.4ZM794.0 274.0L792.8 273.9L792.2 272.9L792.7 271.4L794.0 270.7L795.0 271.3L795.2 272.4L794.9 273.4L794.0 274.0Z" fill="#464eaa" fill-rule="evenodd" stroke="#000" stroke-opacity="0.22" stroke-width="0.6"/>
<path d="M747.0 387.4L745.5 387.2L743.0 385.1L729.5 368.4L728.4 367.4L727.0 366.9L725.0 367.0L708.0 371.6L682.5 376.5L671.5 378.1L671.5 54.8L761.5 54.9L761.6 169.8L765.9 217.3L766.6 219.8L768.7 223.8L769.5 226.3L774.0 253.3L774.0 255.3L772.8 262.4L773.5 269.9L773.0 271.7L771.9 272.9L765.2 275.4L762.6 277.4L759.4 281.9L754.4 290.9L755.1 296.4L755.2 300.4L753.5 314.9L754.5 326.9L753.8 329.4L751.0 333.4L750.6 335.4L753.0 351.4L753.2 362.4L752.0 366.8L749.2 369.4L748.4 371.4L747.8 375.9L747.8 385.4L747.0 387.4ZM1010.0 393.4L824.5 393.4L824.2 347.4L823.5 313.9L822.6 295.9L822.8 284.4L821.6 278.4L819.4 273.4L819.8 272.4L821.0 271.6L823.0 271.0L826.0 270.8L827.5 269.6L830.5 262.9L831.7 254.3L831.3 250.8L828.3 242.8L826.1 218.3L823.7 210.3L823.4 207.3L823.7 202.8L824.3 199.8L830.9 183.8L834.5 174.3L835.0 171.3L831.6 123.3L831.2 54.9L1010.1 54.9L1010.0 393.4Z" fill="#4663b8" fill-rule="evenodd" stroke="#000" stroke-opacity="0.22" stroke-width="0.6"/>
<path d="M675.0 375.9L671.5 376.2L671.5 54.9L759.6 54.9L759.7 141.3L759.3 168.8L762.1 192.8L764.2 217.3L764.8 219.8L767.5 224.3L768.3 226.8L770.3 242.3L771.2 253.8L770.9 256.4L769.0 263.4L768.4 268.4L767.7 269.9L759.6 274.9L753.5 282.0L751.5 283.1L745.4 285.4L744.1 286.9L744.7 288.4L751.1 296.4L752.0 298.4L752.4 300.4L752.4 304.4L751.0 315.4L752.5 327.4L751.8 329.4L749.5 333.0L749.0 335.9L751.1 350.4L751.2 353.9L750.8 356.9L750.0 358.5L749.0 359.1L743.0 358.3L741.5 358.6L740.5 359.4L738.9 362.9L738.3 370.9L737.5 372.2L736.5 372.0L735.0 370.9L729.9 365.9L728.5 365.1L726.5 364.9L709.5 369.4L675.0 375.9ZM1010.0 393.4L827.9 393.4L827.6 346.4L826.1 294.4L827.9 285.9L831.2 278.4L833.7 269.4L838.0 260.9L838.9 257.4L837.7 253.3L832.0 242.8L830.9 239.8L828.0 217.9L825.4 210.3L824.9 207.3L825.1 203.3L825.9 200.3L831.4 190.3L834.0 184.8L836.8 177.3L837.4 173.8L837.2 168.8L835.0 149.3L833.2 123.8L832.8 54.9L1010.1 54.9L1010.0 393.4Z" fill="#467bc6" fill-rule="evenodd" stroke="#000" stroke-opacity="0.22" stroke-width="0.6"/>
<path d="M1010.0 393.4L831.7 393.4L831.4 344.9L830.7 311.9L829.6 296.9L829.8 293.4L831.6 286.4L836.1 278.4L838.3 271.9L840.0 268.3L842.0 265.1L843.5 263.4L845.0 262.7L847.7 262.4L846.2 258.9L839.0 250.1L833.1 239.8L831.9 234.8L829.7 217.8L826.8 209.8L826.4 207.3L826.7 202.8L828.1 199.3L830.5 195.6L834.8 191.8L835.9 190.3L839.0 180.8L839.7 176.8L839.5 168.8L837.1 149.3L835.2 123.8L834.9 54.9L1010.1 54.9L1010.0 393.4ZM673.5 370.9L671.5 371.1L671.5 182.1L673.5 182.5L676.0 184.0L695.5 198.4L697.0 199.0L698.0 198.4L725.3 129.3L739.8 93.8L748.0 75.8L750.5 71.8L752.0 70.6L752.5 71.0L753.0 72.8L753.2 78.8L753.3 148.8L752.5 174.8L757.6 196.3L760.8 218.8L761.7 220.8L765.9 224.3L767.0 227.1L768.4 238.8L768.7 248.8L768.1 256.4L764.8 266.9L763.6 268.9L752.0 276.2L738.3 280.9L736.2 282.4L735.3 283.9L735.4 285.4L736.7 287.4L742.7 292.4L745.7 295.9L748.5 300.1L749.5 302.9L749.6 305.9L748.5 315.9L750.6 327.4L750.1 329.4L748.0 333.4L747.3 336.4L747.3 339.9L748.2 346.9L748.0 349.3L747.5 350.1L746.0 350.4L736.0 348.0L734.0 348.0L732.5 348.5L730.9 349.9L729.7 351.9L729.1 354.4L728.8 359.9L728.3 360.9L727.5 361.4L723.5 361.6L715.5 360.0L713.0 359.9L706.1 361.9L687.0 365.5L673.5 370.9Z" fill="#4a93c0" fill-rule="evenodd" stroke="#000" stroke-opacity="0.22" stroke-width="0.6"/>
<path d="M1010.0 393.4L835.6 393.4L835.4 349.4L834.9 322.4L834.2 303.9L833.2 295.9L834.1 289.9L836.2 284.9L843.0 274.1L845.0 272.3L846.5 272.3L849.0 273.4L859.0 279.2L864.0 283.2L864.5 283.1L864.9 282.4L865.5 278.4L864.9 275.9L860.0 267.4L858.1 265.4L853.5 261.8L848.6 256.4L842.0 250.4L839.5 247.2L835.4 240.3L834.3 237.8L833.5 234.3L831.2 217.3L827.9 207.8L827.9 205.3L828.3 202.8L830.8 198.3L833.0 196.2L840.7 191.8L841.6 190.8L842.2 189.3L841.6 185.8L842.2 178.8L841.9 168.8L839.7 149.3L838.1 123.8L837.9 54.9L872.1 54.9L870.9 158.8L871.3 180.8L871.8 184.8L873.0 187.4L875.0 188.6L878.0 188.8L881.0 188.4L882.5 187.1L883.3 184.3L883.6 179.3L881.6 122.3L881.1 54.9L1010.1 54.9L1010.0 393.4ZM672.0 366.4L671.5 366.5L671.5 361.9L671.5 183.6L673.5 184.1L676.0 185.6L696.0 200.5L697.5 201.0L698.9 200.3L700.0 198.3L715.9 158.3L728.0 128.9L735.5 112.8L737.5 109.4L738.5 108.5L739.0 108.6L739.6 110.3L739.7 115.8L739.8 168.8L739.1 186.8L739.4 190.8L740.3 193.3L743.0 196.6L744.3 198.8L747.9 208.3L751.9 222.3L753.5 226.3L755.0 228.1L756.5 228.4L762.5 225.6L763.5 225.5L764.5 225.9L765.3 226.8L765.8 228.8L766.8 239.3L766.7 246.8L766.0 252.8L762.8 265.4L761.4 267.9L759.0 269.5L752.0 273.1L733.4 278.9L727.9 280.9L726.7 281.9L726.8 282.9L728.1 284.4L740.5 294.3L743.5 297.9L745.6 301.4L746.5 304.9L746.0 316.4L748.4 325.9L748.4 328.9L746.0 333.4L745.0 334.4L742.0 335.8L740.9 338.9L740.0 339.8L737.0 339.9L727.5 337.7L725.5 337.7L723.5 338.2L721.5 339.3L720.6 340.4L719.4 344.4L718.6 345.4L714.0 345.6L689.8 353.4L685.6 355.9L675.0 364.9L672.0 366.4ZM895.0 234.8L895.4 234.3L894.9 233.3L890.8 230.3L874.0 221.4L872.0 220.9L871.0 221.3L871.2 223.3L873.0 227.2L874.8 229.3L877.0 230.9L883.0 233.6L886.5 234.7L891.5 235.1L895.0 234.8Z" fill="#55a3a6" fill-rule="evenodd" stroke="#000" stroke-opacity="0.22" stroke-width="0.6"/>
<path d="M1010.0 393.4L876.3 393.4L876.3 333.9L875.7 324.9L876.2 317.4L876.2 302.9L875.5 298.2L870.8 286.9L870.0 283.9L870.1 281.4L872.2 278.4L872.5 276.9L871.8 275.4L868.5 272.0L864.6 266.4L856.0 260.2L850.5 254.5L845.5 250.8L842.0 247.2L839.4 243.3L836.8 238.8L835.6 235.8L834.5 230.3L832.7 217.3L829.9 209.8L829.3 207.3L829.4 204.8L830.0 202.8L831.5 200.4L833.0 198.9L841.0 195.0L844.5 193.9L847.5 193.7L848.0 192.8L847.6 190.3L845.4 184.8L844.8 182.3L844.3 167.8L842.6 149.3L841.5 127.3L841.2 54.9L868.3 54.9L868.0 108.8L866.8 164.3L867.3 181.3L868.5 187.8L871.0 193.6L873.0 196.1L875.0 197.7L877.0 198.7L879.0 199.0L884.7 197.8L886.3 196.8L887.5 195.3L889.3 187.8L890.0 180.3L889.6 165.8L884.9 111.3L883.9 86.3L883.7 54.9L1010.1 54.9L1010.0 393.4ZM673.0 364.9L671.5 365.3L671.5 184.5L673.5 185.1L675.5 186.4L696.0 201.6L698.0 202.3L699.3 201.8L701.1 198.8L718.0 158.1L723.0 147.8L724.5 145.5L725.5 145.1L726.0 146.4L726.2 151.3L726.3 189.8L725.9 203.8L726.5 207.8L728.0 209.6L731.5 211.2L733.0 212.5L738.0 220.3L744.0 231.8L747.1 235.3L749.0 236.2L751.5 235.9L762.0 229.9L763.0 230.2L763.5 230.8L764.0 233.9L764.6 241.8L764.2 248.3L761.6 257.9L761.1 264.4L759.6 266.9L753.5 270.3L746.5 272.8L729.5 277.1L719.1 278.9L717.7 279.4L716.9 280.4L717.4 281.4L718.5 282.4L726.5 286.8L735.7 293.4L738.5 296.1L741.8 300.4L743.1 303.9L742.8 309.9L743.4 316.4L746.0 324.9L746.4 328.4L745.5 330.0L744.0 330.6L737.5 327.3L735.0 326.6L733.5 327.2L731.5 329.2L730.0 329.6L718.5 327.3L715.5 327.5L712.5 328.2L711.3 329.4L711.0 330.9L711.7 336.4L713.4 341.4L713.2 342.9L712.4 343.9L709.3 345.4L696.0 349.5L689.0 352.4L685.2 354.9L675.3 363.4L673.0 364.9ZM921.2 245.3L921.3 244.3L919.0 242.3L900.5 232.1L895.5 228.2L878.0 220.1L869.5 214.7L858.5 206.2L857.0 205.8L857.0 207.0L858.0 209.3L863.7 217.3L870.5 229.0L873.0 232.1L876.0 234.4L880.0 236.4L884.0 237.8L900.0 240.0L916.5 245.3L919.5 245.7L921.2 245.3ZM862.0 393.4L839.5 393.4L839.3 349.4L838.8 321.9L838.1 303.4L836.9 294.4L837.7 289.9L839.3 286.4L844.0 279.8L845.3 278.9L846.5 278.4L850.0 279.2L855.0 281.6L857.0 282.9L858.5 284.9L861.7 292.4L860.9 299.9L861.8 321.4L862.3 347.9L862.3 393.4L862.0 393.4Z" fill="#62b08c" fill-rule="evenodd" stroke="#000" stroke-opacity="0.22" stroke-width="0.6"/>
<path d="M1010.0 393.4L878.4 393.4L878.3 334.9L877.3 324.9L878.1 317.4L878.3 299.9L876.8 290.9L874.2 285.9L873.8 283.9L874.2 282.4L876.0 278.9L875.9 275.9L874.0 271.4L870.0 266.4L867.6 264.4L859.0 258.9L852.6 252.8L847.2 249.3L843.2 245.3L840.5 241.7L838.1 237.3L837.0 233.8L834.2 217.3L831.0 208.3L830.8 206.3L831.3 204.3L832.5 202.2L834.5 200.5L838.0 198.9L841.0 198.1L843.5 198.6L849.5 202.5L851.6 204.8L855.0 211.3L861.6 219.3L870.0 233.2L874.5 237.4L879.0 239.9L885.5 241.5L901.5 242.9L915.5 248.2L921.0 249.3L925.5 249.4L929.0 248.9L931.5 247.3L932.1 245.8L930.0 244.2L907.5 233.5L904.0 230.7L900.7 228.8L896.0 225.0L881.0 219.1L871.0 213.1L863.5 207.1L859.2 202.8L854.8 197.3L850.7 190.3L848.1 184.3L847.3 181.3L846.8 166.3L845.5 148.8L844.6 123.3L844.6 54.9L866.0 54.9L865.9 106.8L864.5 167.3L865.1 181.3L865.6 184.8L866.7 188.8L868.0 192.3L869.5 194.8L872.0 197.6L874.5 199.5L877.0 200.6L879.5 201.0L886.5 200.1L888.5 199.3L890.3 197.8L891.5 195.8L892.5 192.2L893.7 186.8L894.2 182.3L893.5 167.6L889.2 136.3L886.6 113.8L885.3 86.8L885.0 54.9L1010.1 54.9L1010.0 393.4ZM673.0 363.9L671.5 364.3L671.5 185.4L673.0 185.8L675.5 187.3L696.0 202.6L697.5 203.4L699.0 203.6L700.0 203.2L701.3 201.8L708.5 186.2L710.5 182.6L712.0 181.3L712.5 182.5L712.8 186.3L712.6 220.3L713.4 223.8L715.4 225.3L720.0 226.1L722.0 227.0L728.0 232.6L735.7 240.8L738.0 242.6L740.0 243.5L742.5 244.1L745.0 243.8L754.5 238.9L756.0 238.5L757.2 238.8L759.8 242.8L760.8 246.3L760.7 250.8L759.5 257.4L759.6 263.4L758.6 265.4L756.5 266.8L752.0 268.8L744.5 271.3L739.5 272.5L728.0 274.6L713.5 275.7L711.0 276.6L708.9 278.4L708.6 279.9L711.8 283.4L723.0 288.1L726.0 289.8L734.0 295.4L738.4 300.4L740.0 303.9L739.8 312.4L742.2 321.9L742.4 324.4L741.5 325.1L740.0 324.7L731.0 319.3L727.5 317.9L726.0 317.9L723.0 318.9L721.0 319.1L710.0 316.9L705.0 316.8L703.0 317.3L702.3 318.4L702.6 320.9L707.9 331.9L708.8 334.4L708.8 337.4L707.6 341.4L706.5 342.4L696.5 347.1L687.0 352.4L673.0 363.9ZM859.5 393.4L843.4 393.4L843.2 349.4L842.7 320.9L841.9 302.9L840.5 294.4L841.1 290.9L842.5 287.9L845.5 283.7L847.5 282.5L851.0 283.2L855.0 285.5L856.4 287.9L857.4 293.9L858.2 302.9L859.1 324.9L859.6 349.9L859.5 393.4Z" fill="#74b774" fill-rule="evenodd" stroke="#000" stroke-opacity="0.22" stroke-width="0.6"/>
<path d="M1010.0 393.4L879.7 393.4L879.6 335.9L878.4 324.9L879.1 317.9L879.6 298.4L878.8 289.9L877.0 284.4L878.0 278.4L877.5 274.6L875.5 267.9L873.5 264.9L861.8 257.4L854.5 251.1L849.0 248.0L844.5 243.8L841.9 240.3L839.7 236.3L838.5 232.3L835.6 216.8L832.7 208.3L832.6 206.3L833.2 204.8L835.5 202.8L839.0 202.1L846.0 204.8L848.0 206.0L849.5 207.8L852.1 212.3L859.4 220.8L865.0 230.8L868.4 235.8L873.5 240.7L878.0 243.4L881.5 244.2L889.0 245.2L901.0 245.5L914.0 250.7L918.0 251.6L928.5 251.3L935.0 250.1L942.0 251.7L953.0 253.0L963.5 253.9L965.0 253.7L965.8 252.8L965.0 251.1L963.0 248.6L961.0 246.7L959.0 245.4L950.5 243.2L941.5 241.6L917.5 234.8L908.5 230.8L905.0 228.0L901.5 226.3L898.0 223.1L896.0 221.8L884.0 217.9L878.5 215.4L870.5 210.7L863.5 204.9L858.9 199.8L855.4 194.8L853.3 190.8L851.3 185.8L850.0 181.8L849.6 178.3L847.9 125.3L848.0 54.9L864.2 54.9L864.1 106.3L862.6 167.8L863.5 182.8L864.3 186.8L866.0 191.8L867.3 194.3L869.3 196.8L872.5 199.9L875.5 201.7L878.5 202.5L882.0 202.7L886.0 202.4L889.0 201.8L891.0 200.7L892.8 198.8L894.2 196.3L895.2 192.8L896.3 187.3L896.8 182.3L895.7 168.3L890.5 136.3L887.7 113.8L886.3 86.3L886.0 54.9L1010.1 54.9L1010.0 393.4ZM671.5 363.4L671.5 186.3L673.0 186.7L675.6 188.3L695.0 203.0L699.5 205.8L700.2 206.8L700.4 208.8L699.4 217.3L699.3 235.3L699.5 238.5L700.5 240.3L703.0 241.2L709.0 241.3L711.5 241.8L727.5 250.1L732.5 251.6L738.0 251.8L740.5 251.0L747.0 248.1L748.5 247.8L750.0 248.1L754.5 250.1L756.0 251.6L756.9 253.8L758.0 261.9L757.3 263.9L755.2 265.4L743.0 269.4L726.5 272.2L710.1 273.4L700.9 276.4L698.2 277.9L697.9 278.9L698.4 279.9L701.0 281.9L709.5 286.5L722.5 291.6L729.0 295.5L732.5 298.2L736.5 302.9L737.6 305.4L737.8 307.9L737.0 316.1L736.0 317.2L734.0 316.8L723.5 310.7L719.5 309.1L712.0 308.8L703.5 306.8L698.5 306.1L695.5 305.8L694.0 306.2L693.6 307.9L694.5 310.9L698.6 318.9L706.6 332.4L707.3 334.4L707.1 336.4L706.1 337.9L704.5 339.2L685.5 352.4L674.0 362.1L671.5 363.4ZM975.1 213.8L975.5 213.5L975.7 212.3L975.0 211.5L974.3 212.3L974.5 213.3L975.1 213.8ZM857.5 393.4L847.3 393.4L847.2 349.4L846.6 320.9L845.8 302.9L844.1 293.9L844.6 291.4L846.0 288.9L847.5 287.1L849.0 286.5L852.0 287.2L854.0 289.4L856.2 301.4L857.1 321.4L857.6 346.9L857.5 393.4Z" fill="#8ebc62" fill-rule="evenodd" stroke="#000" stroke-opacity="0.22" stroke-width="0.6"/>
<path d="M1010.0 393.4L880.9 393.4L880.9 343.4L880.4 332.9L879.3 324.9L879.9 317.9L880.7 296.9L880.4 288.9L879.3 283.9L879.6 277.4L877.5 266.9L876.5 264.5L874.5 262.3L864.5 255.9L857.0 249.8L850.5 246.4L846.0 242.3L843.6 239.3L841.3 235.3L840.1 231.3L837.2 216.8L835.0 209.7L834.9 207.8L835.4 206.8L836.5 206.2L838.5 206.3L844.0 208.0L846.3 209.3L849.9 214.3L857.2 222.3L862.6 232.3L866.7 238.3L873.0 244.3L877.0 246.7L889.0 248.4L901.0 248.5L912.5 253.1L916.0 253.9L934.0 252.9L951.5 254.7L965.0 255.3L967.5 254.9L968.4 253.8L967.1 250.8L961.5 242.8L958.0 238.6L955.0 236.2L947.5 234.2L940.0 233.9L933.0 232.2L918.5 230.8L911.0 228.2L905.6 224.8L902.0 223.2L896.5 218.8L883.0 215.2L872.5 210.0L869.0 207.6L863.6 202.8L858.1 195.8L855.5 190.8L853.8 186.3L852.5 181.3L852.1 177.3L851.1 126.3L851.4 54.9L862.6 54.9L862.6 106.3L861.0 168.3L861.6 180.3L862.3 185.3L863.8 190.3L865.5 194.3L867.3 196.8L870.3 199.8L873.0 202.0L876.5 203.7L883.5 204.6L890.5 203.8L892.5 202.5L894.9 199.8L896.4 197.3L897.4 194.3L899.0 182.8L897.6 170.3L891.5 136.8L888.5 114.3L887.3 85.8L887.0 54.9L1010.1 54.9L1010.0 393.4ZM672.0 362.0L671.5 362.1L671.5 187.4L675.2 189.3L692.5 202.3L696.2 205.3L697.1 206.8L696.9 208.8L690.5 228.5L687.0 241.8L686.2 247.3L685.9 251.8L686.1 254.3L687.0 256.1L688.0 256.7L690.0 257.0L701.0 256.5L719.5 259.4L725.0 259.9L732.5 259.4L741.0 257.1L750.0 257.3L752.0 257.8L753.5 258.6L754.7 259.9L755.3 261.4L754.6 262.9L752.8 263.9L741.5 267.3L725.0 269.7L709.0 271.0L692.5 274.8L691.0 275.4L689.8 276.4L689.3 277.9L689.4 279.4L690.0 280.7L691.0 281.5L707.0 289.1L720.0 294.4L728.0 298.9L730.8 301.4L734.4 305.4L735.1 306.9L735.3 308.9L734.5 310.4L733.5 310.8L732.5 310.6L716.5 302.2L712.0 300.3L688.5 295.0L686.0 294.8L685.1 295.4L685.1 297.9L687.7 303.9L695.9 317.9L704.7 331.9L705.6 333.9L705.6 335.4L705.0 336.4L703.5 337.8L695.0 343.5L683.5 352.5L673.9 360.9L672.0 362.0ZM975.7 216.8L976.5 215.6L977.1 211.8L976.7 210.3L975.5 209.7L973.5 210.6L972.8 212.3L974.0 215.5L975.0 216.7L975.7 216.8ZM855.5 393.4L851.2 393.4L851.2 349.4L850.6 320.9L849.8 302.4L848.0 294.4L848.5 292.1L850.0 291.0L851.5 291.6L852.4 293.4L853.6 297.9L854.1 302.4L855.0 322.4L855.5 347.9L855.5 393.4Z" fill="#abbe52" fill-rule="evenodd" stroke="#000" stroke-opacity="0.22" stroke-width="0.6"/>
<path d="M1010.0 393.4L882.2 393.4L882.2 344.9L881.3 332.9L880.3 329.9L880.0 325.4L881.2 302.9L881.8 297.4L882.1 288.4L881.3 283.4L881.1 277.9L879.3 265.4L877.6 262.4L874.0 258.9L859.5 248.5L852.0 244.8L847.6 240.8L845.0 238.0L842.9 234.3L841.3 228.8L838.4 213.8L838.5 211.4L839.5 210.8L841.0 210.9L843.0 211.6L844.5 212.7L855.0 224.0L861.0 235.2L865.5 241.5L872.5 247.7L876.5 249.9L896.0 252.9L902.0 252.1L910.8 255.3L914.0 256.0L926.0 255.0L943.0 255.3L950.5 256.1L956.5 255.8L966.5 256.3L969.5 255.8L970.2 255.3L970.4 254.3L968.1 249.8L958.0 234.8L953.5 229.2L950.5 226.7L948.0 225.8L944.0 225.2L937.5 225.9L931.0 225.1L918.0 226.1L915.5 225.9L912.5 225.0L903.3 220.3L897.0 215.9L884.5 213.3L874.3 208.8L870.5 206.3L865.2 201.8L860.0 195.3L857.5 190.1L856.0 185.7L855.0 180.3L854.6 174.3L854.3 148.8L854.8 102.8L854.7 54.9L861.0 54.9L861.0 105.8L859.3 167.8L859.9 180.3L860.5 185.3L861.7 189.8L864.0 195.3L865.8 197.8L869.5 201.5L872.5 203.7L876.5 205.5L881.5 206.4L885.0 206.6L890.0 206.5L892.5 205.7L894.8 203.8L897.9 199.8L899.1 197.8L899.9 195.3L901.4 183.3L901.1 179.8L899.5 170.8L892.3 136.8L889.3 115.3L888.5 84.8L888.2 54.9L1010.1 54.9L1010.0 393.4ZM671.5 250.7L671.5 196.6L687.1 208.3L671.5 250.7ZM976.4 218.8L977.3 216.8L977.9 211.3L977.5 209.3L976.0 208.7L973.0 209.9L972.2 210.8L971.8 212.3L972.4 214.3L974.0 217.3L975.5 218.9L976.4 218.8ZM671.5 352.0L671.5 297.3L695.0 332.9L687.0 338.5L671.5 352.0Z" fill="#d0ba42" fill-rule="evenodd" stroke="#000" stroke-opacity="0.22" stroke-width="0.6"/>
<path d="M1010.0 393.4L885.1 393.4L884.8 345.4L883.0 337.8L882.2 332.4L880.6 329.9L880.4 326.9L880.9 314.9L883.7 286.9L881.5 271.4L881.4 264.9L880.0 262.1L875.0 255.8L873.8 253.8L874.5 253.4L875.5 253.5L884.5 254.7L895.5 257.3L897.5 257.0L901.0 255.4L902.5 255.3L909.5 257.4L913.0 258.0L925.5 256.7L931.5 257.1L943.0 256.7L950.0 257.4L957.0 256.9L967.5 257.2L971.5 256.6L972.1 256.4L972.5 255.3L970.2 250.8L955.0 227.5L949.5 220.2L946.0 217.2L943.5 216.4L940.5 216.3L935.5 217.8L930.0 217.9L918.5 221.1L914.5 221.5L910.0 220.1L904.5 217.3L898.0 212.8L892.4 210.8L892.2 210.3L892.6 209.8L896.6 206.8L902.0 198.3L903.1 193.3L904.0 182.8L903.3 177.8L896.8 153.3L894.5 143.4L890.3 119.3L889.6 111.3L891.1 95.8L890.6 83.3L890.5 54.9L1010.1 54.9L1010.0 393.4ZM977.1 220.3L978.0 217.8L978.7 210.3L978.0 208.3L977.0 207.8L976.0 207.7L974.0 208.4L972.0 209.6L971.1 210.8L971.0 212.3L972.0 215.3L974.5 219.6L976.0 220.7L977.1 220.3ZM863.5 246.2L858.0 245.0L854.0 243.5L849.5 239.8L846.0 236.0L844.2 232.3L842.4 225.3L841.6 219.8L842.0 217.0L843.0 216.8L845.0 218.1L850.0 222.5L853.1 225.8L858.5 236.4L863.0 243.8L863.7 245.3L863.5 246.2Z" fill="#e8ae3c" fill-rule="evenodd" stroke="#000" stroke-opacity="0.22" stroke-width="0.6"/>
<path d="M1010.0 385.5L1008.5 385.1L1006.7 383.9L988.0 367.7L966.0 347.5L962.0 344.7L959.5 344.1L931.0 340.4L929.0 341.1L922.5 347.3L921.0 348.3L920.0 348.4L919.5 347.4L918.8 339.9L918.0 338.9L914.5 337.4L913.7 336.4L912.2 327.9L909.3 321.9L907.9 320.4L906.0 320.3L902.5 322.2L886.0 335.3L885.0 335.2L884.5 334.7L883.3 331.9L881.5 330.8L880.7 329.9L881.2 313.9L882.4 303.4L884.0 297.4L885.5 287.4L883.3 272.4L883.9 265.4L882.3 260.4L882.5 259.0L885.0 258.6L894.5 260.5L897.0 260.1L901.0 258.3L902.5 258.0L909.0 259.4L913.0 259.8L924.5 258.5L931.5 258.9L943.0 258.1L949.5 258.7L957.0 258.0L968.1 257.9L973.3 257.4L974.5 256.9L974.7 256.4L974.0 254.3L952.0 220.1L946.0 211.8L942.0 208.0L939.5 207.1L937.0 207.5L933.0 209.6L927.5 211.2L917.2 216.3L914.0 217.2L911.0 216.7L907.0 214.9L903.5 212.3L902.0 210.3L901.7 208.8L902.0 206.8L905.2 199.3L906.4 194.3L906.9 188.3L906.9 181.3L905.7 176.3L897.0 149.5L891.1 122.8L890.0 111.3L890.9 109.8L891.7 107.3L892.5 106.8L893.0 107.0L900.0 116.0L901.5 117.2L902.5 116.8L902.9 113.8L903.0 97.8L903.5 95.3L904.5 94.4L906.5 95.4L912.5 102.3L914.0 103.2L920.5 100.6L943.5 96.6L1010.0 87.8L1010.0 385.5ZM977.4 221.8L978.2 220.8L978.8 218.8L979.5 209.8L979.2 208.3L978.5 207.4L976.5 206.8L974.0 207.5L971.5 208.9L970.3 210.3L969.9 211.8L970.8 214.8L974.0 220.7L976.0 222.3L977.4 221.8ZM855.5 240.3L854.0 239.9L851.5 238.2L848.5 235.6L847.0 233.7L846.0 231.6L845.4 228.8L845.1 225.8L845.5 224.3L846.5 224.2L848.0 225.0L850.0 226.7L851.8 228.8L855.6 237.3L856.1 239.3L855.5 240.3Z" fill="#ee9a38" fill-rule="evenodd" stroke="#000" stroke-opacity="0.22" stroke-width="0.6"/>
<path d="M1010.0 383.6L1007.6 382.4L989.7 366.9L967.5 346.5L964.0 343.7L960.5 342.4L937.5 339.6L935.5 339.1L934.4 338.4L934.0 336.9L934.7 335.4L947.5 316.7L954.0 306.0L955.8 301.4L955.6 299.9L954.5 299.0L946.0 298.9L944.6 297.9L943.0 295.4L940.8 293.9L935.0 291.5L933.5 291.4L931.5 291.9L927.0 294.6L920.0 300.1L887.5 328.8L884.0 330.9L881.5 330.6L880.9 329.9L881.4 313.9L882.8 302.9L885.5 295.5L887.4 288.4L887.1 283.4L885.1 274.4L885.5 270.4L886.8 265.4L887.5 264.0L889.0 263.5L894.5 263.3L902.5 260.8L913.0 261.5L923.5 260.5L931.5 260.6L973.0 257.9L975.3 257.4L976.5 255.3L947.5 210.0L942.0 202.4L938.0 198.4L936.0 197.8L934.0 198.5L917.9 210.3L914.0 212.6L910.5 212.8L908.5 211.6L907.4 210.3L906.8 208.8L906.9 206.8L909.7 197.3L910.5 192.8L910.5 186.8L909.9 179.8L908.3 174.3L899.1 151.3L894.8 136.8L891.3 122.8L890.3 113.3L890.5 110.9L891.5 111.3L892.0 113.1L892.5 113.5L893.5 113.3L895.0 115.0L908.5 137.4L915.0 146.5L916.0 147.4L917.0 147.7L917.7 146.8L919.0 142.3L920.0 141.9L921.5 142.8L925.0 146.5L943.5 168.6L946.0 171.1L947.0 171.5L947.1 169.8L946.0 166.6L939.0 149.5L919.3 106.8L918.7 104.8L919.2 103.3L920.5 102.5L922.5 102.0L944.0 98.3L1010.0 89.6L1010.0 383.6ZM977.6 223.8L978.9 222.3L979.6 220.3L980.6 209.8L979.8 206.8L978.5 205.9L977.0 205.6L974.5 206.1L970.3 208.3L968.8 209.8L968.4 211.8L969.3 214.8L973.5 222.3L975.5 224.1L976.5 224.2L977.6 223.8Z" fill="#ec7a32" fill-rule="evenodd" stroke="#000" stroke-opacity="0.22" stroke-width="0.6"/>
<path d="M911.5 211.2L911.0 211.3L910.6 210.8L910.7 209.8L911.6 207.8L911.6 206.8L912.1 206.3L912.1 205.3L912.6 204.8L912.6 203.8L913.1 203.3L913.6 200.3L914.1 199.8L914.6 196.3L915.1 195.8L915.1 186.3L914.6 185.8L914.6 184.3L914.1 183.8L914.1 182.3L913.6 181.8L913.6 180.3L913.1 179.8L913.1 178.3L912.6 177.8L912.6 176.3L911.6 174.3L911.6 173.3L900.0 150.8L895.5 137.3L891.5 122.8L890.5 111.3L891.1 111.8L891.2 114.3L892.4 119.8L895.5 132.3L898.5 138.3L898.5 139.3L900.5 142.8L900.5 143.8L902.5 147.3L903.0 149.3L904.0 150.3L904.5 151.8L905.5 152.8L906.5 154.8L907.5 155.8L908.0 157.3L910.0 159.8L911.5 162.8L915.5 167.3L915.5 167.8L918.5 170.8L918.5 171.3L921.0 173.8L921.0 174.3L924.5 177.9L925.0 177.9L927.5 180.4L928.0 180.4L930.0 182.4L930.5 182.4L934.0 185.8L932.0 189.3L927.5 194.8L927.5 195.3L920.5 202.3L920.0 203.3L919.0 204.3L918.5 204.3L918.5 204.8L917.5 205.8L917.0 205.8L911.5 211.2ZM883.5 330.4L881.5 330.4L881.0 329.9L881.0 326.9L881.4 326.4L881.5 313.9L882.0 313.4L883.0 302.9L887.1 294.4L889.1 288.4L889.1 286.9L885.8 274.4L888.2 268.4L890.0 266.4L897.5 263.5L900.5 263.1L933.5 261.4L970.0 258.6L975.0 258.1L976.5 256.7L979.0 256.4L979.5 256.9L983.5 256.9L984.0 257.4L989.0 257.4L989.5 257.9L993.0 257.9L994.0 258.9L993.5 259.3L991.0 259.3L990.5 258.8L986.5 258.8L986.0 258.3L980.0 258.3L979.5 259.9L977.5 261.8L976.0 261.8L975.5 262.3L962.0 262.8L961.5 263.3L955.0 263.3L954.5 263.8L948.5 263.8L948.0 264.3L942.5 264.3L942.0 264.8L936.5 264.8L936.0 265.3L926.5 265.3L926.0 265.8L912.5 265.8L912.0 266.3L907.5 266.3L907.0 266.8L902.5 266.8L902.0 267.3L898.5 267.3L897.0 268.3L896.0 268.3L894.5 269.3L892.5 269.8L890.0 273.4L890.0 275.9L890.5 276.4L890.5 277.4L891.5 279.4L891.5 280.9L892.5 282.9L893.0 286.4L893.5 286.9L893.5 288.9L892.0 291.9L891.0 295.9L890.0 296.9L889.5 298.4L888.5 299.4L888.0 300.9L886.5 302.9L886.5 305.4L886.0 305.9L886.0 308.4L885.5 308.9L885.5 311.9L885.0 312.4L884.5 316.9L884.2 329.4L883.5 330.4Z" fill="#e0242a" fill-rule="evenodd" stroke="#000" stroke-opacity="0.22" stroke-width="0.6"/>
<path d="M759.4 54.6L759.4 105.0L759.6 141.6L758.7 154.5L756.6 163.6L757.2 171.0L760.5 182.0L762.5 193.0L763.4 205.8L764.2 219.9" fill="none" stroke="#2a2230" stroke-opacity="0.9" stroke-width="3.6" stroke-linejoin="round" stroke-linecap="round"/>
<path d="M833.3 54.6L833.6 123.3L836.0 150.8L838.8 169.1L840.0 171.0L845.5 183.8L852.8 196.6L862.0 206.7L873.0 215.0L885.8 222.3L900.5 230.0L913.3 235.6L922.5 240.2L940.8 247.5" fill="none" stroke="#2a2230" stroke-opacity="0.9" stroke-width="3.6" stroke-linejoin="round" stroke-linecap="round"/>
<path d="M940.8 247.5L959.1 252.6L977.5 256.3L992.5 258.7" fill="none" stroke="#5a3a18" stroke-opacity="0.85" stroke-width="3.4" stroke-linejoin="round" stroke-linecap="round"/>
<path d="M764.2 220.0L765.1 238.3L763.1 251.2L756.6 259.4L742.0 264.0L720.0 266.7L692.5 269.5L671.4 272.2" fill="none" stroke="#5a3a18" stroke-opacity="0.85" stroke-width="3.6" stroke-linejoin="round" stroke-linecap="round"/>
<path d="M671.4 283.2L692.5 288.7L710.8 295.2L725.5 302.5L734.7 311.6L742.0 322.6L747.5 337.3" fill="none" stroke="#5a3a18" stroke-opacity="0.85" stroke-width="3.6" stroke-linejoin="round" stroke-linecap="round"/>
<path d="M747.5 337.3L751.2 355.6L753.0 375.8L753.9 393.6" fill="none" stroke="#2a2230" stroke-opacity="0.9" stroke-width="3.6" stroke-linejoin="round" stroke-linecap="round"/>
<path d="M826.3 400.0L826.0 360.0L825.0 330.0L823.5 305.0" fill="none" stroke="#2a2230" stroke-opacity="0.9" stroke-width="3.6" stroke-linejoin="round" stroke-linecap="round"/>
<path d="M823.5 305.0L824.0 292.0L828.0 283.5L834.0 280.5L840.0 283.5L844.5 292.0L847.0 305.0L850.0 330.0L852.5 360.0L853.7 400.0" fill="none" stroke="#5a3a18" stroke-opacity="0.85" stroke-width="3.6" stroke-linejoin="round" stroke-linecap="round"/>
<path d="M883.1 330.0L883.1 366.6L883.1 393.6" fill="none" stroke="#5a3a18" stroke-opacity="0.85" stroke-width="3.6" stroke-linejoin="round" stroke-linecap="round"/>
<path d="M858.3 54.6L858.3 105.0L857.4 141.6L856.5 169.1L857.4 185.6L861.1 196.6L867.5 204.3L876.7 209.8L887.7 213.5L898.7 214.4L907.8 211.3" fill="none" stroke="#5a3a18" stroke-opacity="0.85" stroke-width="3.6" stroke-linejoin="round" stroke-linecap="round"/>
<path d="M888.0 54.6L888.6 86.7L891.3 114.2" fill="none" stroke="#5a3a18" stroke-opacity="0.8" stroke-width="3.0" stroke-linejoin="round" stroke-linecap="round"/>

</g>
<rect x="664.5" y="48.9" width="353.6" height="353.1" fill="none" stroke="#505050" stroke-width="1.3"/>
<path d="M670.8 402.0v-4.6M670.8 48.9v4.6M664.5 394.9h4.6M1018.1 394.9h-4.6M692.0 402.0v-2.8M692.0 48.9v2.8M664.5 373.7h2.8M1018.1 373.7h-2.8M713.3 402.0v-2.8M713.3 48.9v2.8M664.5 352.5h2.8M1018.1 352.5h-2.8M734.5 402.0v-2.8M734.5 48.9v2.8M664.5 331.3h2.8M1018.1 331.3h-2.8M755.8 402.0v-4.6M755.8 48.9v4.6M664.5 310.1h4.6M1018.1 310.1h-4.6M777.0 402.0v-2.8M777.0 48.9v2.8M664.5 288.9h2.8M1018.1 288.9h-2.8M798.3 402.0v-2.8M798.3 48.9v2.8M664.5 267.7h2.8M1018.1 267.7h-2.8M819.5 402.0v-2.8M819.5 48.9v2.8M664.5 246.5h2.8M1018.1 246.5h-2.8M840.8 402.0v-4.6M840.8 48.9v4.6M664.5 225.3h4.6M1018.1 225.3h-4.6M862.0 402.0v-2.8M862.0 48.9v2.8M664.5 204.1h2.8M1018.1 204.1h-2.8M883.3 402.0v-2.8M883.3 48.9v2.8M664.5 182.9h2.8M1018.1 182.9h-2.8M904.5 402.0v-2.8M904.5 48.9v2.8M664.5 161.7h2.8M1018.1 161.7h-2.8M925.8 402.0v-4.6M925.8 48.9v4.6M664.5 140.5h4.6M1018.1 140.5h-4.6M947.0 402.0v-2.8M947.0 48.9v2.8M664.5 119.3h2.8M1018.1 119.3h-2.8M968.3 402.0v-2.8M968.3 48.9v2.8M664.5 98.1h2.8M1018.1 98.1h-2.8M989.5 402.0v-2.8M989.5 48.9v2.8M664.5 76.9h2.8M1018.1 76.9h-2.8M1010.8 402.0v-4.6M1010.8 48.9v4.6M664.5 55.7h4.6M1018.1 55.7h-4.6" stroke="#505050" stroke-width="1.1" fill="none"/>
<g font-family='"Liberation Sans", "DejaVu Sans", sans-serif' font-weight="bold" font-size="31px" fill="#000">
<text x="670.8" y="434.3" text-anchor="middle">−4</text>
<text x="660.1" y="406.2" text-anchor="end">−4</text>
<text x="755.8" y="434.3" text-anchor="middle">−2</text>
<text x="660.1" y="321.4" text-anchor="end">−2</text>
<text x="840.8" y="434.3" text-anchor="middle">0</text>
<text x="660.1" y="236.6" text-anchor="end">0</text>
<text x="925.8" y="434.3" text-anchor="middle">2</text>
<text x="660.1" y="151.8" text-anchor="end">2</text>
<text x="1010.8" y="434.3" text-anchor="middle">4</text>
<text x="660.1" y="67.0" text-anchor="end">4</text>
</g>
<text x="795.3" y="479.2" textLength="91" lengthAdjust="spacing" font-family='"Liberation Sans", "DejaVu Sans", sans-serif' font-weight="bold" font-size="30.5px" fill="#000">Δ<tspan font-style="italic" font-size="21.5px" dy="4.6">m</tspan><tspan dy="-4.6">/</tspan><tspan font-style="italic">ω</tspan><tspan font-style="italic" font-size="21.5px" dy="4.6">b</tspan></text>
<text transform="translate(610.9 266.4) rotate(-90)" textLength="81" lengthAdjust="spacing" font-family='"Liberation Sans", "DejaVu Sans", sans-serif' font-weight="bold" font-size="30.5px" fill="#000"><tspan font-style="italic">δ</tspan><tspan font-style="italic" font-size="21.5px" dy="4.6">c</tspan><tspan dy="-4.6">/</tspan><tspan font-style="italic">ω</tspan><tspan font-style="italic" font-size="21.5px" dy="4.6">b</tspan></text>
<text x="576.8" y="55.8" font-family='"Liberation Serif", "DejaVu Serif", serif' font-size="34.6px" fill="#111">(b)</text>
<text x="813.4" y="24.2" font-family='"Liberation Sans", "DejaVu Sans", sans-serif' font-weight="bold" font-size="30.5px" fill="#000"><tspan>S</tspan><tspan font-style="italic" font-size="21.5px" dy="4.8">b</tspan><tspan font-size="21.5px" dx="3.5">|</tspan><tspan font-size="21.5px" dx="3.5">mc</tspan></text>
<g>
<rect x="1043.7" y="129.60" width="18.6" height="15.60" fill="#e0242a"/>
<rect x="1043.7" y="144.90" width="18.6" height="16.00" fill="#ec7a32"/>
<rect x="1043.7" y="160.60" width="18.6" height="16.00" fill="#ee9a38"/>
<rect x="1043.7" y="176.30" width="18.6" height="16.00" fill="#e8ae3c"/>
<rect x="1043.7" y="192.00" width="18.6" height="16.00" fill="#d0ba42"/>
<rect x="1043.7" y="207.70" width="18.6" height="16.00" fill="#abbe52"/>
<rect x="1043.7" y="223.40" width="18.6" height="16.00" fill="#8ebc62"/>
<rect x="1043.7" y="239.10" width="18.6" height="16.00" fill="#74b774"/>
<rect x="1043.7" y="254.80" width="18.6" height="16.00" fill="#62b08c"/>
<rect x="1043.7" y="270.50" width="18.6" height="16.00" fill="#55a3a6"/>
<rect x="1043.7" y="286.20" width="18.6" height="16.00" fill="#4a93c0"/>
<rect x="1043.7" y="301.90" width="18.6" height="16.00" fill="#467bc6"/>
<rect x="1043.7" y="317.60" width="18.6" height="16.00" fill="#4663b8"/>
<rect x="1043.7" y="333.30" width="18.6" height="16.00" fill="#464eaa"/>
<rect x="1043.7" y="349.00" width="18.6" height="16.00" fill="#5c34a2"/>
<rect x="1043.7" y="364.70" width="18.6" height="15.90" fill="#7e288e"/>
<path d="M1043.7 144.90H1062.3M1043.7 160.60H1062.3M1043.7 176.30H1062.3M1043.7 192.00H1062.3M1043.7 207.70H1062.3M1043.7 223.40H1062.3M1043.7 239.10H1062.3M1043.7 254.80H1062.3M1043.7 270.50H1062.3M1043.7 286.20H1062.3M1043.7 301.90H1062.3M1043.7 317.60H1062.3M1043.7 333.30H1062.3M1043.7 349.00H1062.3M1043.7 364.70H1062.3" stroke="#000" stroke-opacity="0.22" stroke-width="0.9" fill="none"/>
</g>
<g font-family='"Liberation Sans", "DejaVu Sans", sans-serif' font-weight="bold" font-size="31px" fill="#686868">
<text x="1070.0" y="156.3">0.225</text>
<text x="1070.0" y="187.7">0.195</text>
<text x="1070.0" y="219.1">0.165</text>
<text x="1070.0" y="250.5">0.135</text>
<text x="1070.0" y="281.9">0.105</text>
<text x="1070.0" y="313.3">0.075</text>
<text x="1070.0" y="344.7">0.045</text>
<text x="1070.0" y="376.1">0.015</text>
</g>
</g>
<g id="panel-c">
<clipPath id="clip-c"><path d="M1589.8 159.8L1565.6 158.6L1547.3 155.8L1529.0 151.2L1510.6 143.9L1496.0 135.6L1483.2 126.5L1474.0 117.3L1471.2 108.2L1468.1 80.7L1467.0 49.5L1437.3 49.5L1437.0 99.0L1435.5 126.5L1433.7 154.0L1432.9 172.3L1433.7 189.2L1428.2 181.5L1422.7 168.6L1420.1 158.2L1416.3 135.6L1413.6 99.0L1412.6 49.5L1250.4 49.5L1250.4 388.8L1409.0 388.8L1408.1 362.6L1407.1 326.0L1405.3 289.3L1404.2 271.0L1405.7 265.1L1409.3 266.4L1414.5 271.9L1419.0 278.3L1424.5 298.5L1428.2 316.8L1430.9 344.3L1432.2 371.8L1432.7 388.8L1462.1 388.8L1462.1 326.0L1462.6 307.6L1463.9 293.0L1470.3 289.3L1486.8 290.8L1487.7 283.8L1492.3 274.7L1501.5 270.1L1519.8 267.3L1538.1 266.4L1565.6 266.4L1589.8 267.0L1589.8 238.9L1565.6 237.6L1547.3 235.2L1529.0 231.6L1510.6 226.1L1497.8 221.1L1497.0 220.6L1510.6 216.3L1529.0 211.7L1547.3 208.1L1565.6 205.3L1589.8 203.5Z" clip-rule="evenodd"/></clipPath>
<g clip-path="url(#clip-c)">
<rect x="1250.4" y="49.5" width="339.4" height="339.3" fill="#7e288e"/>
<path d="M1589.7 388.8L1401.0 388.8L1400.1 358.2L1399.5 347.8L1399.8 335.8L1399.7 325.8L1398.5 313.2L1396.7 302.6L1395.2 299.1L1392.2 294.0L1390.4 291.8L1388.5 290.2L1380.3 286.2L1375.7 285.6L1370.7 285.4L1364.7 285.5L1361.2 286.0L1356.5 287.8L1351.4 290.2L1349.4 291.8L1348.2 293.2L1343.7 300.7L1342.7 303.0L1340.7 312.9L1339.8 322.2L1339.4 335.8L1339.7 348.8L1339.2 358.2L1338.8 388.8L1250.6 388.8L1250.7 49.7L1345.5 49.8L1346.3 60.2L1345.8 114.8L1346.3 141.8L1345.8 151.8L1345.8 170.8L1346.3 185.2L1346.2 222.2L1346.7 228.9L1347.3 232.2L1348.7 235.8L1351.0 239.2L1353.7 241.8L1357.1 243.8L1360.2 244.7L1370.2 245.3L1375.7 244.9L1381.2 243.8L1384.2 242.6L1388.0 240.2L1390.7 237.8L1393.2 234.4L1395.2 230.3L1396.2 226.4L1396.7 221.2L1397.0 193.8L1397.8 184.8L1399.3 177.8L1400.8 172.8L1404.7 165.7L1406.1 162.2L1406.9 156.2L1407.0 150.8L1405.8 129.8L1405.6 95.8L1405.1 83.8L1404.9 58.2L1405.6 49.8L1589.7 49.8L1589.7 388.8Z" fill="#5c34a2" fill-rule="evenodd" stroke="#000" stroke-opacity="0.22" stroke-width="0.6"/>
<path d="M1589.7 388.8L1405.1 388.8L1404.1 326.2L1402.4 306.2L1401.2 299.8L1399.5 296.2L1395.7 289.8L1394.1 287.8L1392.1 286.2L1382.2 281.6L1377.7 281.5L1373.2 280.6L1368.7 280.5L1362.7 280.6L1359.7 281.1L1350.5 284.8L1346.7 286.7L1345.2 288.3L1343.0 293.8L1339.1 299.2L1338.2 301.2L1336.7 312.7L1336.0 322.2L1335.5 345.2L1335.5 388.8L1250.6 388.8L1250.7 49.7L1342.1 49.8L1341.9 170.8L1342.3 223.8L1342.9 232.2L1344.0 236.2L1346.2 240.8L1348.2 243.3L1351.2 245.8L1356.2 248.8L1359.7 250.4L1368.2 252.2L1373.2 252.7L1382.2 251.9L1385.7 251.1L1389.7 249.1L1395.7 244.9L1397.8 242.8L1399.8 239.2L1402.3 233.8L1404.3 227.2L1403.4 206.2L1403.3 188.8L1404.6 184.2L1411.5 168.2L1412.6 162.2L1412.4 153.2L1411.0 133.8L1409.6 100.8L1409.0 49.8L1589.7 49.8L1589.7 388.8Z" fill="#464eaa" fill-rule="evenodd" stroke="#000" stroke-opacity="0.22" stroke-width="0.6"/>
<path d="M1589.7 388.8L1408.2 388.8L1407.1 325.2L1405.5 305.8L1403.1 294.8L1401.4 291.8L1395.2 285.3L1388.7 281.4L1384.7 278.1L1382.2 277.5L1377.7 277.9L1373.2 275.9L1369.7 275.6L1359.2 276.6L1352.5 279.8L1345.2 282.5L1343.2 284.7L1340.1 293.2L1336.4 298.2L1335.0 301.2L1333.4 309.8L1332.7 319.8L1333.4 388.8L1250.6 388.8L1250.7 49.7L1340.2 49.8L1340.1 146.2L1339.8 170.2L1340.4 191.2L1340.5 226.8L1341.0 235.2L1342.2 239.8L1344.1 244.2L1346.2 247.0L1349.2 249.5L1358.7 255.0L1368.2 257.1L1372.7 257.6L1384.7 255.7L1392.7 251.0L1399.2 246.4L1403.6 244.2L1404.3 240.2L1405.7 237.0L1407.2 234.8L1410.2 232.3L1410.7 231.2L1410.5 228.8L1408.3 223.8L1407.7 221.2L1406.9 208.8L1406.9 200.8L1406.3 189.2L1407.1 185.8L1411.6 174.8L1416.3 165.8L1417.1 161.8L1414.0 134.8L1412.1 103.2L1411.3 49.8L1589.7 49.8L1589.7 388.8Z" fill="#4663b8" fill-rule="evenodd" stroke="#000" stroke-opacity="0.22" stroke-width="0.6"/>
<path d="M1331.2 388.8L1250.6 388.8L1250.7 49.7L1338.6 49.8L1338.5 146.2L1337.9 169.8L1338.9 191.8L1339.0 226.8L1338.7 239.8L1337.0 249.8L1336.9 252.8L1337.2 254.9L1338.2 257.7L1340.2 261.8L1341.2 263.1L1342.7 263.5L1348.2 261.9L1350.2 261.9L1351.4 262.8L1352.7 264.6L1353.5 266.8L1353.7 268.2L1352.2 272.2L1351.2 273.5L1349.7 274.5L1346.7 274.8L1340.7 272.6L1339.2 273.2L1337.0 275.2L1336.1 276.8L1335.7 278.2L1337.4 283.8L1337.6 285.8L1334.8 294.8L1332.2 298.9L1323.3 306.2L1321.6 308.2L1321.0 309.8L1321.3 313.8L1326.0 330.2L1329.4 354.2L1330.3 366.2L1331.2 388.8ZM1589.7 388.8L1411.4 388.8L1410.3 326.2L1408.7 306.8L1407.1 297.8L1407.3 295.8L1408.9 291.2L1409.0 289.8L1408.2 288.8L1407.2 288.3L1402.2 288.1L1400.2 287.5L1395.7 283.6L1390.9 280.8L1389.4 279.2L1388.5 277.2L1386.6 266.8L1387.8 260.8L1388.7 258.2L1390.2 256.5L1395.2 253.5L1398.7 250.2L1401.2 249.5L1405.2 251.0L1420.2 259.5L1429.7 265.3L1437.0 268.2L1439.7 268.6L1441.7 268.0L1442.7 266.8L1443.0 264.8L1442.7 263.2L1440.7 260.8L1439.6 257.8L1438.1 255.2L1430.1 247.2L1427.2 245.1L1419.7 243.0L1417.5 241.2L1415.5 235.8L1413.8 227.8L1411.3 220.8L1410.5 210.2L1409.7 187.8L1410.4 185.2L1414.5 174.8L1419.7 165.5L1420.3 162.2L1416.8 134.8L1414.7 102.2L1413.9 49.8L1589.7 49.8L1589.7 388.8ZM1381.7 269.8L1380.1 269.2L1379.4 267.2L1380.2 265.7L1381.7 265.1L1383.0 265.8L1383.6 267.2L1383.0 268.8L1381.7 269.8Z" fill="#467bc6" fill-rule="evenodd" stroke="#000" stroke-opacity="0.22" stroke-width="0.6"/>
<path d="M1329.2 388.8L1250.6 388.8L1250.7 49.7L1337.1 49.8L1336.9 146.2L1336.1 169.2L1337.6 195.8L1337.6 225.8L1337.0 236.8L1336.5 240.8L1333.7 253.8L1333.7 264.8L1333.4 267.2L1331.7 270.2L1326.9 275.2L1325.8 277.8L1326.5 280.2L1331.2 288.2L1331.8 290.8L1331.5 293.2L1329.5 296.2L1318.7 305.4L1317.4 307.2L1316.9 309.2L1317.4 312.8L1322.7 329.2L1324.9 341.8L1327.5 360.2L1329.2 388.8ZM1589.7 388.8L1414.6 388.8L1413.4 326.2L1411.9 307.2L1410.3 297.2L1410.9 294.8L1414.6 288.8L1415.5 286.2L1414.8 285.2L1413.2 285.0L1403.2 286.1L1400.7 285.9L1391.7 279.4L1390.6 277.8L1390.2 275.8L1389.5 267.2L1390.1 262.8L1391.7 259.8L1395.7 257.6L1399.7 253.1L1401.7 252.5L1404.2 253.3L1411.7 257.9L1425.2 267.1L1435.2 272.1L1440.2 272.8L1444.2 272.1L1446.4 270.2L1447.2 267.2L1446.9 263.2L1445.9 259.8L1443.7 255.8L1440.7 251.8L1436.2 248.5L1433.2 244.0L1430.7 241.7L1428.7 240.7L1425.2 240.6L1423.2 240.0L1420.7 238.7L1418.8 236.8L1417.1 232.8L1414.5 220.2L1413.8 211.2L1414.0 204.8L1413.1 190.2L1413.2 186.8L1417.4 174.8L1421.8 166.8L1422.5 163.2L1419.5 135.2L1417.8 103.2L1417.1 49.8L1589.7 49.8L1589.7 388.8ZM1456.3 155.2L1456.6 154.2L1456.2 153.0L1455.2 152.4L1454.2 152.7L1453.7 153.8L1454.2 155.1L1455.2 155.7L1456.3 155.2ZM1456.3 174.8L1457.2 173.8L1457.5 172.8L1457.3 170.8L1456.7 169.9L1455.7 169.5L1453.7 169.8L1452.7 170.8L1452.3 171.8L1452.7 174.0L1454.2 175.1L1456.3 174.8Z" fill="#4a93c0" fill-rule="evenodd" stroke="#000" stroke-opacity="0.22" stroke-width="0.6"/>
<path d="M1327.2 388.8L1250.6 388.8L1250.7 49.7L1335.5 49.8L1335.2 146.8L1334.0 169.2L1336.1 193.8L1336.3 224.2L1335.8 232.8L1334.7 241.8L1328.4 264.8L1326.4 268.2L1320.3 274.8L1318.9 277.2L1319.0 278.8L1319.6 280.2L1325.5 289.8L1326.1 291.8L1325.9 293.2L1324.1 296.2L1316.2 304.8L1314.9 307.2L1314.6 309.2L1315.2 312.8L1320.3 328.2L1321.8 335.8L1325.4 359.8L1327.2 388.8ZM1589.7 388.8L1417.8 388.8L1416.6 326.2L1415.2 309.2L1413.4 296.8L1414.4 293.8L1420.1 285.8L1421.3 282.8L1420.7 282.1L1418.7 281.9L1403.2 284.5L1401.2 284.5L1399.7 283.8L1393.4 279.2L1392.2 277.8L1391.8 275.8L1391.4 268.8L1391.7 265.2L1393.2 262.8L1397.2 260.5L1400.2 256.2L1402.2 255.4L1405.2 256.5L1414.2 262.3L1420.9 267.8L1425.7 273.0L1427.2 274.0L1436.2 275.4L1444.2 275.0L1446.9 273.8L1449.0 271.8L1450.1 269.8L1450.4 267.2L1449.8 261.8L1448.2 256.1L1446.7 253.3L1443.7 249.7L1441.7 247.9L1438.5 246.2L1436.1 241.8L1431.7 237.7L1428.7 236.3L1425.7 236.5L1424.2 236.2L1421.2 234.6L1419.8 233.2L1418.7 230.2L1417.1 219.8L1416.5 213.8L1416.6 210.2L1417.1 208.2L1419.1 204.2L1417.2 199.0L1416.6 186.2L1420.1 175.2L1423.8 168.2L1424.5 163.8L1422.0 132.2L1420.8 98.8L1420.4 49.8L1589.7 49.8L1589.7 388.8ZM1458.0 191.2L1459.5 190.2L1460.5 188.8L1462.1 182.8L1462.8 171.8L1462.6 156.8L1459.7 74.2L1458.7 69.2L1457.2 68.1L1454.7 67.8L1453.2 68.1L1452.1 68.8L1451.3 70.2L1451.0 72.2L1450.4 100.8L1448.3 152.8L1448.1 172.2L1448.7 178.2L1451.3 188.8L1452.7 190.5L1454.2 191.4L1456.2 191.7L1458.0 191.2Z" fill="#55a3a6" fill-rule="evenodd" stroke="#000" stroke-opacity="0.22" stroke-width="0.6"/>
<path d="M1324.7 388.8L1250.6 388.8L1250.7 49.7L1333.7 49.8L1333.4 146.8L1333.0 155.2L1331.6 169.2L1332.0 174.8L1334.1 186.8L1334.7 193.8L1334.9 224.8L1334.1 235.8L1333.5 240.2L1332.2 245.8L1330.5 251.8L1328.7 256.1L1323.1 265.2L1320.2 268.8L1314.2 274.9L1313.2 276.2L1312.9 277.8L1313.7 280.0L1319.6 289.2L1320.7 292.2L1319.9 295.2L1313.2 305.2L1312.5 307.2L1312.3 309.2L1312.9 312.2L1318.6 330.2L1322.2 351.9L1323.6 364.2L1325.1 387.2L1325.1 388.8L1324.7 388.8ZM1589.7 388.8L1449.2 388.8L1449.4 315.2L1448.8 297.8L1448.4 296.2L1447.2 295.5L1445.6 296.2L1445.2 298.2L1446.6 316.2L1447.4 342.2L1447.8 388.8L1421.0 388.8L1420.4 345.2L1419.8 326.8L1418.5 311.2L1416.5 297.8L1416.7 295.2L1417.5 293.2L1419.2 290.8L1423.2 285.8L1425.2 284.0L1434.7 279.7L1445.7 276.6L1449.7 274.2L1451.6 272.2L1452.7 270.2L1453.4 267.8L1453.6 264.8L1453.2 261.2L1450.1 252.2L1448.7 250.2L1442.7 243.7L1439.6 240.8L1431.7 234.4L1428.7 233.0L1423.2 231.7L1421.7 230.7L1420.5 227.8L1419.1 218.2L1418.7 213.2L1419.5 210.2L1426.7 202.2L1428.0 199.8L1427.2 199.1L1422.7 198.8L1421.1 197.8L1420.4 195.2L1419.9 187.8L1420.3 184.2L1422.6 176.2L1425.9 169.2L1426.4 164.8L1424.6 133.8L1423.7 49.8L1447.5 49.8L1446.9 98.8L1444.8 155.2L1444.7 170.2L1446.3 185.8L1445.3 191.2L1446.0 193.2L1449.7 196.9L1452.7 199.1L1455.2 199.8L1457.2 199.1L1462.7 195.4L1465.0 192.8L1466.3 187.8L1466.2 181.2L1468.0 174.2L1467.9 160.2L1464.2 108.8L1463.0 84.2L1462.2 49.8L1589.7 49.8L1589.7 388.8ZM1466.4 222.2L1467.5 220.8L1467.7 218.6L1466.9 217.2L1464.3 214.8L1452.2 206.5L1450.7 206.0L1449.2 206.6L1448.4 208.8L1449.0 211.8L1452.1 217.2L1455.2 221.4L1456.7 222.2L1460.7 221.7L1464.7 222.7L1466.4 222.2ZM1404.7 282.8L1401.7 283.1L1399.7 282.3L1394.3 278.2L1393.2 275.8L1393.2 268.2L1393.8 265.8L1394.7 264.8L1398.2 262.9L1400.8 259.2L1402.7 258.3L1405.2 259.1L1409.4 261.8L1416.9 267.8L1419.6 271.2L1420.7 275.8L1420.1 278.2L1418.2 279.6L1404.7 282.8Z" fill="#62b08c" fill-rule="evenodd" stroke="#000" stroke-opacity="0.22" stroke-width="0.6"/>
<path d="M1322.7 388.8L1250.6 388.8L1250.7 49.7L1331.8 49.8L1331.3 146.8L1330.9 154.8L1329.0 169.8L1329.6 175.8L1332.4 187.2L1333.1 193.8L1333.3 224.8L1332.5 236.8L1331.8 241.2L1329.9 248.2L1327.5 254.2L1324.7 258.2L1318.7 265.3L1309.2 274.2L1308.0 276.2L1307.7 277.8L1308.4 280.2L1313.5 288.2L1315.2 292.2L1314.7 295.8L1310.3 305.2L1309.8 309.2L1310.6 312.8L1315.7 328.2L1317.1 335.2L1320.8 359.8L1322.7 388.8ZM1427.7 195.3L1425.2 195.0L1424.2 193.8L1423.4 186.2L1423.6 183.8L1425.4 176.8L1427.8 170.8L1428.2 165.2L1427.3 134.8L1427.1 49.8L1444.7 49.8L1444.4 98.8L1442.2 147.8L1441.6 167.2L1442.6 183.2L1442.2 185.2L1440.9 187.8L1439.1 190.8L1437.7 192.4L1435.2 193.6L1427.7 195.3ZM1589.7 388.8L1455.2 388.8L1455.1 316.2L1454.2 295.8L1453.7 294.2L1452.8 293.2L1449.7 291.7L1447.2 291.1L1439.2 290.7L1438.2 290.9L1437.1 291.8L1436.4 293.2L1436.2 295.2L1439.0 317.2L1440.5 341.2L1441.1 388.8L1424.2 388.8L1423.7 345.8L1423.0 327.8L1421.8 312.2L1419.6 297.2L1419.8 294.8L1422.0 290.8L1425.7 287.0L1427.2 286.5L1431.2 286.0L1435.2 284.4L1441.7 280.5L1448.2 277.5L1452.3 274.8L1454.3 272.2L1455.9 268.8L1457.1 260.8L1456.6 258.2L1454.7 255.4L1451.2 248.8L1443.9 240.8L1432.2 232.1L1429.2 230.5L1424.7 229.0L1423.2 227.8L1422.3 225.2L1421.3 218.8L1421.2 213.8L1423.0 210.8L1429.2 205.3L1432.7 203.1L1434.2 202.8L1435.2 203.1L1437.7 205.9L1452.7 227.8L1454.2 229.4L1455.7 230.0L1457.2 229.4L1460.7 226.2L1465.2 225.6L1467.7 224.1L1469.8 221.2L1472.4 215.2L1472.3 214.2L1471.7 213.2L1465.1 209.2L1464.0 207.8L1463.5 205.2L1463.7 202.8L1464.4 200.8L1469.4 194.8L1471.2 190.8L1471.7 187.2L1470.5 182.2L1473.2 177.2L1473.7 173.2L1473.2 159.9L1465.8 106.2L1464.3 81.8L1463.9 49.8L1589.7 49.8L1589.7 388.8ZM1405.2 281.3L1402.2 281.7L1399.7 280.9L1395.6 277.8L1394.6 275.2L1394.9 269.2L1395.3 267.2L1396.2 266.2L1399.7 264.0L1401.7 261.9L1403.2 261.3L1404.7 261.6L1407.2 263.0L1413.6 268.2L1416.0 271.2L1417.2 275.2L1416.7 277.2L1414.8 278.8L1405.2 281.3Z" fill="#74b774" fill-rule="evenodd" stroke="#000" stroke-opacity="0.22" stroke-width="0.6"/>
<path d="M1319.7 388.8L1250.6 388.8L1250.7 49.7L1329.7 49.8L1329.0 147.2L1328.4 155.2L1326.3 165.8L1325.9 169.8L1326.8 175.8L1330.4 187.2L1331.3 193.2L1331.7 224.8L1330.7 237.8L1327.9 249.2L1326.7 252.2L1325.2 254.7L1315.2 265.5L1303.6 274.2L1302.1 276.2L1301.7 277.8L1302.6 280.2L1308.6 289.2L1309.9 292.8L1309.7 296.2L1307.1 305.2L1307.0 308.8L1307.8 312.2L1313.1 328.8L1314.6 336.2L1318.1 360.2L1319.9 386.2L1320.0 388.8L1319.7 388.8ZM1431.7 191.8L1429.2 191.9L1427.9 191.2L1427.2 189.5L1426.8 185.8L1428.1 177.2L1429.8 171.8L1430.1 164.8L1429.9 136.8L1430.4 96.8L1430.4 49.8L1442.6 49.8L1442.2 98.8L1439.0 168.8L1439.9 182.8L1439.0 186.2L1437.2 189.3L1435.2 190.7L1431.7 191.8ZM1589.7 388.8L1456.9 388.8L1456.8 314.8L1456.1 296.2L1455.7 293.8L1454.7 292.2L1448.8 287.8L1448.3 286.2L1448.5 284.2L1449.8 280.8L1454.7 275.7L1457.5 271.2L1459.0 267.8L1459.9 262.2L1460.7 259.8L1462.7 256.8L1465.7 253.4L1468.2 251.4L1473.2 248.8L1475.2 248.5L1479.2 248.7L1485.2 248.0L1487.8 247.2L1488.8 246.2L1488.6 245.2L1487.2 244.2L1483.2 242.4L1478.7 241.1L1473.7 237.8L1465.2 233.6L1463.3 232.2L1462.7 230.8L1463.5 229.2L1467.2 226.5L1469.7 223.9L1475.5 214.2L1475.3 213.2L1474.5 212.2L1468.5 207.2L1467.7 204.8L1468.7 201.8L1473.4 197.2L1475.2 193.8L1476.1 189.2L1474.9 184.8L1474.8 182.2L1475.6 179.8L1477.8 176.2L1478.2 173.8L1477.4 162.2L1470.3 127.2L1467.1 107.2L1465.2 81.8L1465.0 49.8L1589.7 49.8L1589.7 388.8ZM1465.2 249.9L1459.7 249.8L1457.2 250.2L1455.7 249.7L1451.0 243.8L1445.2 238.2L1432.2 229.5L1426.0 226.2L1424.8 224.8L1424.0 221.8L1423.9 218.2L1424.7 216.1L1425.7 215.5L1427.7 215.5L1434.7 217.0L1438.2 218.3L1441.7 221.1L1447.5 229.2L1450.7 232.4L1453.7 234.1L1466.2 239.0L1469.7 241.0L1470.7 242.2L1471.1 243.8L1470.6 246.8L1469.2 248.4L1465.2 249.9ZM1405.2 279.8L1402.2 280.2L1400.2 279.7L1397.2 277.6L1396.0 275.2L1396.3 270.2L1397.2 268.0L1398.7 266.6L1403.2 264.2L1405.7 264.9L1409.7 268.2L1412.4 271.2L1413.6 274.2L1413.4 276.2L1412.2 277.6L1409.4 278.8L1405.2 279.8ZM1437.7 388.8L1427.5 388.8L1427.0 345.8L1426.2 327.8L1425.0 312.8L1422.7 296.2L1423.1 293.8L1424.2 291.8L1425.7 290.2L1427.7 289.4L1431.2 290.4L1432.4 292.2L1435.7 316.8L1437.4 345.2L1437.7 388.8Z" fill="#8ebc62" fill-rule="evenodd" stroke="#000" stroke-opacity="0.22" stroke-width="0.6"/>
<path d="M1316.7 388.8L1250.6 388.8L1250.7 49.7L1327.2 49.8L1327.1 82.2L1326.3 147.2L1325.6 154.8L1322.8 165.8L1322.3 169.8L1323.2 175.2L1328.2 187.2L1329.2 193.2L1329.6 202.8L1329.7 224.8L1328.7 238.2L1326.0 249.2L1324.7 252.2L1322.9 254.8L1313.2 264.5L1301.9 271.2L1298.4 273.8L1296.7 275.8L1296.2 277.2L1296.8 279.8L1303.0 289.2L1304.8 293.2L1304.8 296.2L1303.7 304.8L1303.7 308.2L1304.7 312.2L1309.9 328.2L1311.3 334.8L1315.1 360.2L1316.8 386.2L1316.9 388.8L1316.7 388.8ZM1434.2 188.4L1432.2 188.5L1431.2 187.8L1430.5 186.2L1430.3 184.2L1432.0 171.2L1432.4 139.2L1433.6 98.2L1433.7 49.8L1440.6 49.8L1440.2 99.2L1436.7 169.2L1437.7 182.8L1436.7 186.3L1435.7 187.5L1434.2 188.4ZM1589.7 388.8L1458.1 388.8L1457.8 380.2L1458.0 314.8L1457.4 296.8L1456.9 293.2L1453.6 288.2L1453.5 286.2L1456.5 277.8L1461.3 269.2L1462.5 261.2L1463.7 259.6L1468.2 255.3L1470.7 253.4L1474.7 251.1L1489.2 249.1L1495.5 247.2L1497.3 246.2L1497.3 245.8L1496.0 244.8L1486.2 239.9L1484.2 239.2L1479.7 238.7L1473.7 232.8L1469.2 231.3L1467.7 229.8L1468.1 228.2L1471.5 223.2L1474.1 218.2L1477.3 215.2L1477.9 214.2L1477.3 212.2L1472.6 206.8L1472.1 204.8L1472.9 203.2L1478.0 197.8L1480.0 193.8L1480.7 191.2L1480.7 189.2L1480.0 187.8L1477.6 184.8L1477.2 182.2L1478.6 179.8L1481.9 177.2L1482.7 174.8L1481.2 162.8L1472.0 129.2L1468.2 108.8L1466.0 81.8L1466.3 68.8L1466.1 49.8L1589.7 49.8L1589.7 388.8ZM1440.2 229.8L1439.2 229.9L1437.7 229.3L1429.2 224.2L1428.1 223.2L1427.9 221.8L1428.7 221.1L1430.2 221.1L1433.7 222.7L1438.6 226.8L1439.7 228.2L1440.2 229.8ZM1465.2 247.3L1462.2 247.2L1456.2 244.4L1452.3 240.2L1451.2 238.8L1451.1 237.8L1452.2 237.3L1455.2 237.7L1463.2 240.2L1466.7 241.8L1468.1 243.2L1468.4 244.8L1467.4 246.2L1465.2 247.3ZM1405.2 278.3L1402.7 278.7L1400.7 278.4L1398.7 277.2L1397.4 275.2L1397.4 272.8L1398.3 269.8L1399.5 268.2L1401.7 267.2L1403.7 267.1L1405.2 267.8L1408.6 271.2L1409.9 273.8L1410.0 275.2L1409.4 276.2L1408.0 277.2L1405.2 278.3ZM1435.2 388.8L1430.9 388.8L1430.4 346.2L1429.9 335.8L1428.8 317.8L1426.1 296.2L1426.3 294.2L1427.7 293.0L1429.2 293.5L1430.1 295.8L1433.2 318.2L1434.7 345.2L1435.2 388.8Z" fill="#abbe52" fill-rule="evenodd" stroke="#000" stroke-opacity="0.22" stroke-width="0.6"/>
<path d="M1313.2 388.8L1250.6 388.8L1250.7 49.7L1324.0 49.8L1324.0 82.8L1322.9 146.8L1322.0 154.8L1318.4 165.8L1317.8 170.2L1318.1 172.8L1319.0 175.2L1325.3 187.2L1326.6 193.2L1327.2 202.2L1327.3 224.8L1326.2 238.8L1323.4 249.8L1321.8 252.8L1319.7 255.4L1313.7 261.2L1310.2 264.0L1296.9 270.8L1293.7 272.8L1291.1 275.2L1290.3 277.2L1291.1 279.8L1297.0 288.8L1299.2 293.2L1299.7 295.8L1299.8 304.8L1300.3 308.8L1307.2 331.0L1311.6 359.8L1313.4 386.2L1313.5 388.8L1313.2 388.8ZM1589.7 388.8L1459.1 388.8L1458.7 380.2L1458.8 309.8L1458.3 294.2L1456.4 287.8L1458.6 279.2L1463.7 270.2L1464.5 267.2L1465.1 262.2L1472.2 255.2L1475.2 253.7L1481.7 251.4L1488.2 250.9L1501.2 248.8L1504.8 247.2L1505.7 245.8L1504.6 244.2L1502.7 243.1L1486.2 235.8L1481.2 234.4L1476.6 230.8L1472.2 228.2L1471.6 227.2L1472.0 225.2L1474.7 219.2L1479.2 214.8L1479.4 212.8L1477.0 208.2L1476.8 206.2L1478.0 204.2L1483.4 198.2L1486.1 193.8L1488.5 184.2L1489.1 179.2L1485.6 163.8L1477.7 144.5L1474.0 132.2L1472.4 126.2L1469.3 110.8L1466.6 81.8L1467.5 69.2L1467.3 49.8L1589.7 49.8L1589.7 388.8ZM1403.7 276.8L1402.2 277.0L1400.8 276.8L1399.2 275.2L1398.9 273.8L1399.3 272.2L1400.2 270.8L1401.2 270.1L1402.2 270.0L1403.7 270.5L1406.0 273.2L1406.3 274.2L1406.0 275.2L1403.7 276.8Z" fill="#d0ba42" fill-rule="evenodd" stroke="#000" stroke-opacity="0.22" stroke-width="0.6"/>
<path d="M1309.2 388.8L1250.6 388.8L1250.7 49.7L1319.9 49.8L1319.8 82.8L1318.5 146.2L1317.3 154.8L1312.7 165.8L1312.0 169.8L1312.3 172.2L1313.1 174.8L1321.2 186.5L1322.3 189.2L1323.2 193.2L1323.9 202.2L1324.1 223.8L1323.0 238.8L1319.9 250.2L1318.2 253.2L1315.9 255.8L1310.3 260.8L1306.7 263.2L1292.1 269.8L1287.3 272.2L1284.7 274.8L1283.7 277.2L1284.3 279.8L1290.7 289.2L1293.0 293.8L1296.1 308.8L1302.9 330.2L1307.4 359.2L1309.2 388.8ZM1589.7 388.8L1459.7 388.8L1459.5 379.8L1459.7 309.8L1459.3 294.2L1458.5 288.8L1460.8 280.2L1465.8 272.2L1469.0 262.8L1472.2 258.8L1474.7 256.7L1482.2 252.9L1488.2 252.5L1510.5 248.8L1513.5 247.8L1514.7 246.2L1514.2 244.9L1512.5 243.8L1483.2 230.1L1476.2 226.5L1474.7 224.8L1474.8 222.2L1475.7 219.8L1476.9 218.2L1479.5 216.2L1480.5 214.8L1481.0 212.8L1480.8 209.2L1481.3 207.8L1489.5 198.8L1492.1 194.8L1494.6 186.2L1495.5 179.8L1494.8 176.2L1489.8 164.2L1478.8 143.2L1473.3 127.2L1470.8 115.2L1469.3 106.8L1467.0 81.8L1469.9 69.2L1470.0 49.8L1589.7 49.8L1589.7 388.8Z" fill="#e8ae3c" fill-rule="evenodd" stroke="#000" stroke-opacity="0.22" stroke-width="0.6"/>
<path d="M1304.2 388.8L1250.6 388.8L1250.7 49.7L1314.3 49.8L1314.3 82.8L1312.5 146.8L1311.9 151.2L1310.9 154.8L1305.0 165.8L1304.2 167.8L1304.0 169.8L1304.5 172.2L1306.0 175.2L1315.9 186.2L1317.6 189.2L1318.7 192.8L1319.7 201.2L1319.9 220.8L1319.8 228.2L1318.7 239.2L1316.9 246.8L1315.5 250.8L1313.5 253.8L1310.3 256.8L1305.3 260.8L1301.2 263.1L1284.6 269.2L1279.2 271.7L1276.4 274.2L1275.1 277.2L1275.3 278.8L1276.1 280.8L1283.7 292.4L1287.7 300.6L1291.2 309.5L1297.6 329.2L1302.4 359.2L1304.2 388.8ZM1589.7 388.8L1460.1 388.8L1460.0 327.8L1460.3 289.8L1460.7 287.2L1462.5 282.2L1468.1 273.8L1471.5 264.2L1474.7 260.3L1477.2 258.2L1483.2 255.3L1514.2 249.9L1519.7 247.8L1521.1 246.2L1520.9 245.2L1520.2 244.4L1516.9 242.2L1490.2 229.6L1478.2 223.5L1477.0 222.2L1477.4 218.8L1481.3 215.8L1484.7 209.3L1494.1 200.2L1499.1 193.2L1501.5 187.8L1502.3 179.2L1501.8 176.8L1500.9 174.8L1496.2 170.3L1480.9 145.8L1473.7 127.2L1469.9 107.8L1467.7 85.8L1467.5 80.8L1468.7 79.8L1469.7 78.1L1470.2 77.8L1471.2 78.1L1483.7 91.4L1486.7 93.3L1489.2 93.5L1490.7 92.8L1493.2 90.7L1500.7 87.7L1502.7 86.2L1503.7 84.2L1504.0 82.8L1503.7 81.2L1501.8 77.2L1501.6 75.8L1502.1 74.8L1503.7 73.5L1508.7 72.4L1546.7 69.0L1550.7 68.3L1555.0 65.8L1564.7 58.3L1571.7 52.2L1573.3 49.8L1589.7 49.8L1589.7 388.8Z" fill="#ee9a38" fill-rule="evenodd" stroke="#000" stroke-opacity="0.22" stroke-width="0.6"/>
<path d="M1297.7 388.8L1250.6 388.8L1250.7 49.7L1307.0 49.8L1306.9 82.8L1304.2 147.2L1303.5 150.8L1302.2 154.3L1300.2 157.6L1294.0 165.8L1293.2 167.8L1292.9 169.8L1293.6 172.2L1295.1 174.8L1298.7 178.2L1309.1 186.8L1311.3 189.8L1312.7 193.2L1314.0 201.8L1314.5 220.8L1314.3 228.2L1313.1 239.8L1311.1 247.8L1309.6 251.2L1307.6 253.8L1301.4 259.2L1298.7 261.1L1295.7 262.3L1269.2 271.0L1267.1 272.2L1265.7 273.8L1264.5 275.8L1264.1 277.8L1264.4 279.8L1265.6 282.2L1283.2 307.3L1285.2 311.9L1290.2 327.2L1291.7 333.2L1295.7 358.8L1297.7 388.8ZM1589.7 388.8L1473.1 388.8L1474.3 386.2L1494.3 363.2L1499.2 356.8L1499.5 356.2L1499.2 356.1L1492.2 361.9L1478.7 374.6L1467.2 385.8L1465.2 388.8L1460.4 388.8L1460.3 325.2L1460.8 303.2L1461.2 294.8L1462.4 288.8L1463.7 285.2L1465.2 282.6L1470.3 275.8L1474.1 265.8L1477.2 261.9L1479.7 259.8L1483.7 258.0L1491.9 255.8L1514.7 251.8L1520.7 250.3L1524.2 248.8L1525.8 247.2L1526.2 246.2L1526.1 245.2L1525.1 243.8L1521.2 240.9L1491.9 226.8L1482.0 221.2L1480.6 219.8L1478.2 219.7L1477.8 219.2L1478.7 218.3L1482.7 215.8L1486.7 211.8L1494.7 205.2L1502.7 197.2L1505.5 193.8L1507.5 190.2L1508.3 187.8L1508.3 185.2L1507.0 178.8L1505.5 175.2L1503.2 172.1L1491.9 160.2L1481.3 145.8L1477.4 136.2L1473.9 127.2L1470.4 109.2L1467.7 81.2L1468.2 80.8L1468.7 81.2L1469.7 83.7L1470.7 82.5L1472.7 83.9L1494.7 111.1L1500.7 117.5L1504.7 120.8L1508.2 122.2L1513.2 123.2L1518.7 122.8L1525.2 123.3L1535.2 123.2L1538.1 122.8L1541.2 121.4L1541.8 120.2L1541.1 117.8L1539.1 114.2L1534.7 108.8L1519.7 91.8L1507.0 78.2L1506.0 76.8L1506.1 75.2L1507.2 74.6L1509.7 74.0L1547.2 70.7L1551.7 69.8L1557.2 66.4L1567.7 58.0L1574.1 52.2L1575.5 49.8L1589.7 49.8L1589.7 388.8Z" fill="#ec7a32" fill-rule="evenodd" stroke="#000" stroke-opacity="0.22" stroke-width="0.6"/>
<path d="M1253.2 269.2L1250.7 269.2L1250.6 49.8L1298.6 49.8L1299.1 50.8L1298.6 51.2L1298.6 67.2L1298.1 67.8L1298.1 81.8L1297.6 82.2L1297.6 88.8L1297.1 89.2L1297.1 95.2L1296.6 95.8L1296.6 102.2L1296.1 102.8L1296.1 108.8L1295.6 109.2L1295.6 115.2L1295.1 115.8L1295.1 119.8L1294.6 120.2L1294.6 122.8L1294.1 123.2L1294.1 125.8L1293.6 126.2L1293.6 128.8L1293.1 129.2L1293.1 131.8L1292.6 132.2L1292.6 134.8L1292.1 135.2L1292.1 137.8L1291.6 138.2L1291.6 140.8L1291.1 141.2L1291.1 143.8L1290.6 144.2L1290.6 145.8L1288.1 150.8L1287.1 151.8L1278.1 169.8L1278.1 170.8L1277.1 172.8L1280.7 175.3L1281.2 175.3L1282.7 176.8L1286.2 178.8L1289.7 181.8L1291.7 182.8L1297.2 187.3L1297.7 187.3L1300.1 189.8L1305.1 199.8L1305.1 200.8L1305.6 201.2L1305.6 204.8L1306.1 205.2L1306.1 209.2L1306.6 209.8L1307.1 217.8L1307.6 218.2L1307.6 222.2L1308.1 222.8L1308.1 225.2L1307.6 225.8L1307.6 227.8L1307.1 228.2L1307.1 230.8L1306.6 231.2L1306.6 234.2L1306.1 234.8L1306.1 237.8L1305.6 238.2L1305.6 239.8L1305.1 240.2L1305.1 241.8L1304.6 242.2L1304.1 245.8L1303.6 246.2L1303.6 247.2L1303.1 247.8L1303.1 248.8L1302.6 249.2L1301.6 253.2L1300.6 254.8L1300.6 255.8L1300.1 256.2L1299.6 258.2L1298.2 259.5L1281.2 265.2L1272.7 266.2L1271.7 266.7L1268.7 266.7L1267.7 267.2L1264.7 267.2L1264.2 267.7L1261.2 267.7L1260.7 268.2L1253.7 268.7L1253.2 269.2ZM1462.7 388.8L1460.6 388.8L1460.6 319.2L1461.6 295.8L1464.4 286.2L1472.2 278.2L1472.3 276.8L1474.8 268.8L1480.7 261.3L1492.2 257.3L1508.2 254.0L1522.2 251.8L1526.2 250.3L1527.2 250.3L1527.7 249.8L1528.7 249.8L1529.2 249.3L1530.2 249.3L1530.7 248.8L1531.7 248.8L1532.2 248.3L1533.7 248.3L1534.7 247.8L1534.2 246.7L1531.2 245.2L1530.2 244.2L1529.7 244.2L1521.2 238.7L1492.2 224.2L1482.7 218.7L1481.2 218.3L1478.6 218.8L1489.7 212.8L1493.2 210.3L1494.7 209.8L1497.7 207.3L1498.2 207.3L1503.2 202.8L1503.7 202.8L1506.2 200.3L1506.7 200.3L1512.2 193.2L1512.2 192.8L1513.7 191.2L1514.2 190.2L1514.2 188.2L1514.7 187.8L1514.7 184.8L1515.2 184.2L1514.7 183.2L1509.7 178.2L1509.7 177.8L1492.6 160.2L1481.6 145.8L1480.6 143.8L1473.6 125.2L1473.5 123.2L1473.1 122.8L1473.0 120.2L1471.6 114.8L1470.6 109.2L1470.5 106.2L1470.1 105.8L1469.1 90.8L1468.6 90.2L1468.6 86.2L1468.1 85.8L1468.2 81.2L1471.9 108.2L1474.6 117.2L1484.2 126.8L1484.7 126.8L1486.2 128.3L1486.7 128.3L1489.2 130.3L1489.7 130.3L1491.2 131.8L1494.7 133.8L1496.2 135.3L1497.7 135.8L1498.7 136.8L1501.2 137.8L1504.7 140.3L1507.2 141.3L1508.2 142.3L1512.2 144.3L1513.2 144.3L1517.2 146.3L1519.7 146.8L1521.2 147.8L1522.2 147.8L1523.7 148.8L1526.2 149.3L1527.7 150.3L1530.2 150.8L1530.7 151.3L1532.2 151.3L1532.7 151.8L1535.7 152.3L1536.2 152.8L1539.7 153.3L1541.7 154.3L1545.2 154.8L1547.2 155.8L1549.7 155.8L1550.2 156.3L1553.7 156.3L1554.2 156.8L1557.2 156.8L1557.7 157.3L1560.7 157.3L1561.2 157.8L1564.7 157.8L1565.2 158.3L1573.7 158.3L1574.2 158.8L1585.2 158.8L1585.7 159.3L1589.7 159.3L1589.7 204.7L1589.2 205.2L1580.7 205.2L1580.2 205.7L1572.2 205.7L1571.7 206.2L1565.2 206.2L1564.7 206.7L1561.2 206.7L1560.7 207.2L1557.7 207.2L1557.2 207.7L1554.2 207.7L1553.7 208.2L1550.2 208.2L1549.7 208.7L1547.2 208.7L1546.7 209.2L1541.7 209.7L1541.2 210.2L1539.2 210.2L1538.7 210.7L1536.7 210.7L1536.2 211.2L1534.2 211.2L1533.7 211.7L1531.2 211.7L1530.7 212.2L1529.2 212.2L1528.7 212.7L1527.2 212.7L1526.7 213.2L1525.2 213.2L1523.2 214.2L1519.7 214.7L1517.7 215.7L1514.2 216.2L1513.7 216.7L1510.7 217.2L1510.2 217.7L1509.2 217.7L1507.2 218.7L1505.7 218.7L1505.2 219.2L1504.2 219.2L1503.7 219.7L1499.7 220.7L1499.6 221.2L1501.7 222.3L1502.7 222.3L1504.2 223.3L1506.7 223.8L1508.2 224.8L1509.2 224.8L1510.7 225.8L1513.7 226.3L1515.7 227.3L1516.7 227.3L1517.2 227.8L1518.7 227.8L1520.7 228.8L1521.7 228.8L1522.2 229.3L1523.7 229.3L1525.7 230.3L1526.7 230.3L1527.2 230.8L1530.7 231.3L1531.2 231.8L1533.2 231.8L1533.7 232.3L1535.2 232.3L1535.7 232.8L1537.7 232.8L1538.2 233.3L1539.7 233.3L1540.2 233.8L1542.2 233.8L1542.7 234.3L1544.2 234.3L1544.7 234.8L1546.7 234.8L1547.2 235.3L1555.2 235.8L1555.7 236.3L1559.7 236.3L1560.2 236.8L1564.2 236.8L1564.7 237.3L1573.7 237.3L1574.2 237.8L1585.2 237.8L1585.7 238.3L1589.7 238.3L1589.7 267.7L1576.7 267.7L1576.2 267.2L1535.7 267.2L1535.2 267.7L1526.7 267.7L1526.2 268.2L1519.2 268.2L1518.7 268.7L1515.7 268.7L1515.2 269.2L1511.7 269.2L1511.2 269.7L1508.2 269.7L1507.7 270.2L1501.7 270.7L1493.7 274.7L1492.6 275.8L1488.6 283.8L1488.6 285.2L1488.1 285.8L1488.1 289.2L1487.6 289.8L1487.6 290.8L1486.7 291.7L1483.7 291.7L1483.2 291.2L1478.2 291.2L1477.7 290.7L1472.7 290.7L1472.2 290.2L1470.7 290.2L1467.7 291.7L1466.7 292.7L1465.1 293.2L1464.6 293.8L1464.6 296.8L1464.1 297.2L1463.6 309.8L1463.1 310.2L1463.0 380.2L1462.7 388.8ZM1289.2 388.8L1250.6 388.8L1250.7 288.3L1251.2 288.3L1252.2 289.3L1252.7 289.3L1253.7 290.3L1254.2 290.3L1255.2 291.3L1255.7 291.3L1256.7 292.3L1257.2 292.3L1258.2 293.3L1261.7 295.3L1265.1 298.8L1265.1 299.2L1272.1 307.2L1272.6 308.2L1273.1 310.8L1274.1 312.2L1275.1 316.2L1275.6 316.8L1275.6 317.8L1276.1 318.2L1276.1 319.2L1276.6 319.8L1276.6 320.8L1277.1 321.2L1277.1 322.2L1277.6 322.8L1277.6 323.8L1278.6 325.2L1279.1 328.8L1279.6 329.2L1279.6 330.8L1280.1 331.2L1280.1 332.8L1280.6 333.2L1280.6 334.8L1281.1 335.2L1281.1 336.8L1281.6 337.2L1281.6 338.8L1282.1 339.2L1282.1 340.8L1282.6 341.2L1282.6 342.8L1283.1 343.2L1283.1 344.8L1283.6 345.2L1284.1 349.8L1284.6 350.2L1284.6 352.2L1285.1 352.8L1285.1 354.8L1285.6 355.2L1285.6 357.2L1286.1 357.8L1286.1 359.8L1286.6 360.2L1286.6 362.2L1287.1 362.8L1287.1 366.2L1287.6 366.8L1287.6 371.2L1288.1 371.8L1288.1 376.2L1288.6 376.8L1288.6 380.8L1289.1 381.2L1289.1 385.8L1289.6 386.2L1289.6 388.8L1289.2 388.8Z" fill="#e0242a" fill-rule="evenodd" stroke="#000" stroke-opacity="0.22" stroke-width="0.6"/>
<path d="M1412.6 49.5L1413.6 99.0L1416.3 135.6L1420.9 163.1L1419.0 154.0L1422.7 168.6L1428.2 181.5L1433.7 189.2" fill="none" stroke="#241c2c" stroke-opacity="0.9" stroke-width="3.6" stroke-linejoin="round" stroke-linecap="round"/>
<path d="M1433.7 189.2L1442.8 198.0L1455.7 205.3L1466.7 209.9L1477.7 213.6" fill="none" stroke="#5a3a18" stroke-opacity="0.5" stroke-width="1.8" stroke-linejoin="round" stroke-linecap="round"/>
<path d="M1433.7 189.2L1432.9 172.3L1433.7 154.0L1435.5 126.5L1437.0 99.0L1437.3 49.5" fill="none" stroke="#5a3a18" stroke-opacity="0.85" stroke-width="3.6" stroke-linejoin="round" stroke-linecap="round"/>
<path d="M1467.0 49.5L1468.1 80.7L1470.7 104.5" fill="none" stroke="#5a3a18" stroke-opacity="0.8" stroke-width="3.0" stroke-linejoin="round" stroke-linecap="round"/>
<path d="M1409.0 388.8L1408.1 362.6L1407.1 326.0L1405.3 289.3L1404.2 271.0L1405.7 265.1" fill="none" stroke="#241c2c" stroke-opacity="0.9" stroke-width="3.6" stroke-linejoin="round" stroke-linecap="round"/>
<path d="M1405.7 265.1L1409.3 266.4L1414.5 271.9L1419.0 278.3L1424.5 298.5L1428.2 316.8L1430.9 344.3L1432.2 371.8L1432.7 388.8" fill="none" stroke="#5a3a18" stroke-opacity="0.85" stroke-width="3.6" stroke-linejoin="round" stroke-linecap="round"/>
<path d="M1462.1 311.3L1462.1 326.0L1462.1 388.8" fill="none" stroke="#5a3a18" stroke-opacity="0.8" stroke-width="3.2" stroke-linejoin="round" stroke-linecap="round"/>
<ellipse cx="1403.5" cy="147.6" rx="3.3" ry="3.9" transform="rotate(-25 1403.5 147.6)" fill="#fff" stroke="#1a1020" stroke-width="1.8"/>
</g>
<rect x="1243.6" y="43.4" width="353.2" height="353.1" fill="none" stroke="#505050" stroke-width="1.3"/>
<path d="M1250.0 396.5v-4.6M1250.0 43.4v4.6M1243.6 389.5h4.6M1596.8 389.5h-4.6M1271.2 396.5v-2.8M1271.2 43.4v2.8M1243.6 368.3h2.8M1596.8 368.3h-2.8M1292.5 396.5v-2.8M1292.5 43.4v2.8M1243.6 347.1h2.8M1596.8 347.1h-2.8M1313.8 396.5v-2.8M1313.8 43.4v2.8M1243.6 325.9h2.8M1596.8 325.9h-2.8M1335.0 396.5v-4.6M1335.0 43.4v4.6M1243.6 304.7h4.6M1596.8 304.7h-4.6M1356.2 396.5v-2.8M1356.2 43.4v2.8M1243.6 283.5h2.8M1596.8 283.5h-2.8M1377.5 396.5v-2.8M1377.5 43.4v2.8M1243.6 262.3h2.8M1596.8 262.3h-2.8M1398.8 396.5v-2.8M1398.8 43.4v2.8M1243.6 241.1h2.8M1596.8 241.1h-2.8M1420.0 396.5v-4.6M1420.0 43.4v4.6M1243.6 219.9h4.6M1596.8 219.9h-4.6M1441.2 396.5v-2.8M1441.2 43.4v2.8M1243.6 198.7h2.8M1596.8 198.7h-2.8M1462.5 396.5v-2.8M1462.5 43.4v2.8M1243.6 177.5h2.8M1596.8 177.5h-2.8M1483.8 396.5v-2.8M1483.8 43.4v2.8M1243.6 156.3h2.8M1596.8 156.3h-2.8M1505.0 396.5v-4.6M1505.0 43.4v4.6M1243.6 135.1h4.6M1596.8 135.1h-4.6M1526.2 396.5v-2.8M1526.2 43.4v2.8M1243.6 113.9h2.8M1596.8 113.9h-2.8M1547.5 396.5v-2.8M1547.5 43.4v2.8M1243.6 92.7h2.8M1596.8 92.7h-2.8M1568.8 396.5v-2.8M1568.8 43.4v2.8M1243.6 71.5h2.8M1596.8 71.5h-2.8M1590.0 396.5v-4.6M1590.0 43.4v4.6M1243.6 50.3h4.6M1596.8 50.3h-4.6" stroke="#505050" stroke-width="1.1" fill="none"/>
<g font-family='"Liberation Sans", "DejaVu Sans", sans-serif' font-weight="bold" font-size="31px" fill="#000">
<text x="1250.0" y="428.8" text-anchor="middle">−4</text>
<text x="1239.2" y="400.8" text-anchor="end">−4</text>
<text x="1335.0" y="428.8" text-anchor="middle">−2</text>
<text x="1239.2" y="316.0" text-anchor="end">−2</text>
<text x="1420.0" y="428.8" text-anchor="middle">0</text>
<text x="1239.2" y="231.2" text-anchor="end">0</text>
<text x="1505.0" y="428.8" text-anchor="middle">2</text>
<text x="1239.2" y="146.4" text-anchor="end">2</text>
<text x="1590.0" y="428.8" text-anchor="middle">4</text>
<text x="1239.2" y="61.6" text-anchor="end">4</text>
</g>
<text x="1374.2" y="473.7" textLength="91" lengthAdjust="spacing" font-family='"Liberation Sans", "DejaVu Sans", sans-serif' font-weight="bold" font-size="30.5px" fill="#000">Δ<tspan font-style="italic" font-size="21.5px" dy="4.6">m</tspan><tspan dy="-4.6">/</tspan><tspan font-style="italic">ω</tspan><tspan font-style="italic" font-size="21.5px" dy="4.6">b</tspan></text>
<text transform="translate(1190.0 260.9) rotate(-90)" textLength="81" lengthAdjust="spacing" font-family='"Liberation Sans", "DejaVu Sans", sans-serif' font-weight="bold" font-size="30.5px" fill="#000"><tspan font-style="italic">δ</tspan><tspan font-style="italic" font-size="21.5px" dy="4.6">c</tspan><tspan dy="-4.6">/</tspan><tspan font-style="italic">ω</tspan><tspan font-style="italic" font-size="21.5px" dy="4.6">b</tspan></text>
<text x="1150.6" y="54.6" font-family='"Liberation Serif", "DejaVu Serif", serif' font-size="34.6px" fill="#111">(c)</text>
<text x="1386.0" y="23.6" font-family='"Liberation Sans", "DejaVu Sans", sans-serif' font-weight="bold" font-size="30.5px" fill="#000"><tspan>S</tspan><tspan font-style="italic" font-size="21.5px" dy="4.8">m</tspan><tspan font-size="21.5px" dx="3.5">|</tspan><tspan font-size="21.5px" dx="3.5">cb</tspan></text>
<g>
<rect x="1622.8" y="125.10" width="18.5" height="16.20" fill="#e0242a"/>
<rect x="1622.8" y="141.00" width="18.5" height="15.97" fill="#ec7a32"/>
<rect x="1622.8" y="156.67" width="18.5" height="15.97" fill="#ee9a38"/>
<rect x="1622.8" y="172.34" width="18.5" height="15.97" fill="#e8ae3c"/>
<rect x="1622.8" y="188.01" width="18.5" height="15.97" fill="#d0ba42"/>
<rect x="1622.8" y="203.68" width="18.5" height="15.97" fill="#abbe52"/>
<rect x="1622.8" y="219.35" width="18.5" height="15.97" fill="#8ebc62"/>
<rect x="1622.8" y="235.02" width="18.5" height="15.97" fill="#74b774"/>
<rect x="1622.8" y="250.69" width="18.5" height="15.97" fill="#62b08c"/>
<rect x="1622.8" y="266.36" width="18.5" height="15.97" fill="#55a3a6"/>
<rect x="1622.8" y="282.03" width="18.5" height="15.97" fill="#4a93c0"/>
<rect x="1622.8" y="297.70" width="18.5" height="15.97" fill="#467bc6"/>
<rect x="1622.8" y="313.37" width="18.5" height="15.97" fill="#4663b8"/>
<rect x="1622.8" y="329.04" width="18.5" height="15.97" fill="#464eaa"/>
<rect x="1622.8" y="344.71" width="18.5" height="15.97" fill="#5c34a2"/>
<rect x="1622.8" y="360.38" width="18.5" height="15.52" fill="#7e288e"/>
<path d="M1622.8 141.00H1641.3M1622.8 156.67H1641.3M1622.8 172.34H1641.3M1622.8 188.01H1641.3M1622.8 203.68H1641.3M1622.8 219.35H1641.3M1622.8 235.02H1641.3M1622.8 250.69H1641.3M1622.8 266.36H1641.3M1622.8 282.03H1641.3M1622.8 297.70H1641.3M1622.8 313.37H1641.3M1622.8 329.04H1641.3M1622.8 344.71H1641.3M1622.8 360.38H1641.3" stroke="#000" stroke-opacity="0.22" stroke-width="0.9" fill="none"/>
</g>
<g font-family='"Liberation Sans", "DejaVu Sans", sans-serif' font-weight="bold" font-size="31px" fill="#686868">
<text x="1647.6" y="152.4">0.225</text>
<text x="1647.6" y="183.7">0.195</text>
<text x="1647.6" y="215.1">0.165</text>
<text x="1647.6" y="246.4">0.135</text>
<text x="1647.6" y="277.8">0.105</text>
<text x="1647.6" y="309.1">0.075</text>
<text x="1647.6" y="340.4">0.045</text>
<text x="1647.6" y="371.8">0.015</text>
</g>
</g>
<g id="panel-d">
<clipPath id="clip-d"><path d="M242.0 890.2L241.8 880.0L241.4 852.5L240.9 825.0L240.0 797.5L238.1 779.2L237.4 770.0L240.0 765.8L247.3 763.0L254.6 764.9L265.6 768.5L276.6 770.4L284.0 769.4L280.3 762.7L273.0 755.3L263.8 744.3L256.5 736.1L251.9 729.7L250.1 720.5L251.0 719.1L247.3 713.6L244.7 706.3L250.2 702.6L249.1 697.1L251.9 691.6L256.5 688.0L258.7 680.6L256.5 664.1L253.7 645.8L250.1 618.3L247.3 590.8L244.6 563.3L243.6 552.0L189.0 552.0L188.7 581.7L188.3 618.3L187.7 655.0L188.7 673.3L188.3 688.0L186.8 700.8L187.7 714.9L188.3 720.5L189.6 733.3L191.4 751.7L190.5 762.7L185.0 767.2L170.3 770.9L157.5 774.6L150.2 778.2L147.8 782.8L149.2 786.5L155.7 797.5L163.0 815.8L169.4 834.1L174.0 852.5L176.7 870.8L178.0 890.0L178.0 890.2Z" clip-rule="evenodd"/></clipPath>
<g clip-path="url(#clip-d)">
<rect x="90.8" y="552.0" width="340.2" height="338.2" fill="#5b35a2"/>
<path d="M430.6 889.8L91.0 889.8L91.0 552.2L430.6 552.2L430.6 889.8ZM222.5 760.8L226.4 758.8L229.4 755.2L231.1 750.8L231.2 745.8L229.6 741.0L226.6 737.3L222.8 735.2L218.6 734.9L216.1 735.5L213.8 736.8L210.6 740.2L208.6 745.2L208.5 750.2L210.1 754.9L211.6 757.1L213.2 758.8L215.6 760.2L217.6 760.9L220.1 761.1L222.5 760.8ZM205.0 811.8L208.6 811.1L212.6 809.8L215.6 808.2L218.4 806.2L220.6 804.2L222.6 801.2L223.9 798.2L224.3 795.2L224.1 792.2L223.1 789.4L221.3 786.8L219.2 784.8L213.9 781.8L210.4 780.8L206.6 780.2L202.1 780.4L197.3 781.2L193.2 782.8L189.0 785.2L186.3 787.8L184.6 790.2L182.4 797.8L183.0 801.2L184.2 803.8L186.6 806.6L189.4 808.8L192.6 810.3L196.6 811.5L200.6 811.9L205.0 811.8Z" fill="#4652ad" fill-rule="evenodd" stroke="#000" stroke-opacity="0.22" stroke-width="0.6"/>
<path d="M430.6 889.8L91.0 889.8L91.0 552.2L430.6 552.2L430.6 889.8ZM222.5 766.8L225.6 765.9L228.8 764.2L231.6 762.0L233.8 759.2L235.6 756.2L236.8 752.8L237.4 748.8L237.3 745.2L236.6 741.8L235.3 738.2L233.5 735.2L231.1 732.6L228.1 730.3L225.1 729.0L221.6 728.1L218.1 728.1L214.6 728.9L211.6 730.3L208.6 732.5L206.1 735.2L204.1 738.8L202.8 742.2L202.2 746.2L202.3 749.8L203.1 753.8L204.5 757.2L206.4 760.2L209.1 763.0L212.1 765.0L215.1 766.3L219.1 766.9L222.5 766.8ZM206.2 823.2L211.6 822.3L217.6 820.1L222.1 817.4L226.1 814.0L228.7 810.8L230.6 806.1L231.8 801.2L232.1 796.8L231.1 792.8L228.8 788.2L225.6 784.4L222.1 781.4L218.6 779.4L213.6 777.6L208.1 776.5L202.6 776.5L197.2 777.2L192.4 778.8L187.5 781.2L183.4 784.2L180.1 788.2L179.5 789.8L179.4 792.8L176.5 796.2L176.0 798.2L176.0 801.2L176.6 805.2L179.1 811.0L181.6 814.4L186.1 818.9L190.6 821.1L195.6 822.6L200.1 823.3L206.2 823.2Z" fill="#466cbd" fill-rule="evenodd" stroke="#000" stroke-opacity="0.22" stroke-width="0.6"/>
<path d="M430.6 889.8L91.0 889.8L91.0 552.2L430.6 552.2L430.6 889.8ZM206.9 834.8L212.1 834.0L216.6 832.7L221.1 830.6L225.1 828.0L228.6 824.8L230.6 822.3L233.1 817.1L234.1 813.2L234.8 801.2L234.7 796.2L234.1 793.3L230.3 786.8L224.7 780.2L222.2 774.8L226.6 769.8L231.6 766.2L236.5 761.8L238.0 759.8L239.8 755.8L241.1 751.2L241.6 747.2L241.3 742.8L239.4 735.8L237.9 732.8L236.0 730.2L232.1 726.6L229.1 724.4L225.6 722.8L222.1 722.0L218.1 722.0L214.6 723.0L211.1 724.8L204.5 729.2L202.9 730.8L201.6 732.6L198.7 739.8L198.0 743.2L197.8 747.8L198.1 751.2L199.1 755.7L201.8 761.8L207.7 769.2L208.5 771.2L205.8 772.8L197.6 774.5L192.1 776.3L188.1 778.4L183.6 781.3L180.1 784.5L177.0 788.2L175.0 792.2L173.4 797.8L173.2 801.8L173.7 805.8L177.1 813.2L180.5 819.2L181.4 823.8L182.6 825.8L188.1 830.1L194.1 833.0L199.1 834.3L206.9 834.8Z" fill="#4888c3" fill-rule="evenodd" stroke="#000" stroke-opacity="0.22" stroke-width="0.6"/>
<path d="M430.6 889.8L91.0 889.8L91.0 552.2L430.6 552.2L430.6 889.8ZM209.8 845.2L219.6 842.6L223.4 840.8L229.6 833.0L233.0 827.2L233.7 821.8L235.7 812.8L236.1 802.2L235.8 796.2L234.6 791.3L231.1 785.6L227.0 780.2L226.8 777.2L228.0 772.2L229.1 770.4L232.1 768.0L234.7 765.2L239.4 762.2L240.9 760.8L244.1 753.8L245.2 749.2L244.7 738.2L242.6 730.6L241.2 727.8L232.1 717.5L226.6 715.7L222.6 714.9L219.6 715.1L215.1 717.5L207.4 724.2L200.6 728.5L199.6 729.6L197.6 734.8L196.1 742.8L196.1 752.8L198.2 763.8L197.6 767.8L195.2 770.2L190.6 773.1L181.6 779.9L175.2 786.2L173.2 789.2L170.8 797.2L171.1 806.3L174.6 819.2L176.1 822.5L183.1 832.8L189.1 839.6L192.6 841.9L204.1 845.2L207.1 845.5L209.8 845.2Z" fill="#529eae" fill-rule="evenodd" stroke="#000" stroke-opacity="0.22" stroke-width="0.6"/>
<path d="M430.6 889.8L91.0 889.8L91.0 552.2L430.6 552.2L430.6 889.8ZM210.0 856.2L221.6 853.3L224.7 851.8L228.1 848.6L233.6 839.8L236.1 827.2L235.0 821.8L236.7 810.2L236.5 796.8L235.7 791.8L232.1 785.1L228.7 780.2L228.3 778.8L228.5 776.8L229.9 771.8L234.6 766.8L237.1 765.1L242.0 763.2L244.0 761.8L246.9 755.8L249.4 748.8L247.0 735.2L244.7 727.2L243.3 724.2L239.8 719.8L236.4 713.8L234.6 711.7L229.1 708.1L223.6 706.8L221.1 706.9L219.1 707.6L215.1 710.1L211.6 713.3L207.6 714.6L205.7 717.2L204.6 720.8L202.2 724.2L198.6 727.1L196.3 733.2L195.1 741.1L194.9 751.2L196.4 762.2L196.1 764.8L194.7 766.8L192.1 769.2L186.6 773.4L179.6 778.0L172.0 785.2L169.5 788.2L168.5 792.2L168.9 803.8L170.5 811.2L174.7 826.8L179.6 839.7L181.3 843.2L187.1 849.8L191.6 853.2L195.1 854.4L204.6 856.4L207.6 856.6L210.0 856.2Z" fill="#60ae90" fill-rule="evenodd" stroke="#000" stroke-opacity="0.22" stroke-width="0.6"/>
<path d="M430.6 889.8L91.0 889.8L91.0 552.2L430.6 552.2L430.6 889.8ZM235.8 677.2L237.3 675.8L238.0 673.8L238.0 669.8L237.1 666.7L235.6 664.5L233.6 663.3L231.1 662.7L229.1 663.2L226.7 665.2L225.1 668.2L224.8 670.8L225.6 673.8L226.6 675.2L227.6 675.7L230.6 675.6L233.6 677.3L235.8 677.2ZM206.3 866.8L211.6 866.2L224.6 863.2L226.6 861.8L229.6 858.8L233.0 854.8L234.1 852.9L236.9 840.8L236.0 835.8L237.3 826.2L236.0 821.2L237.4 810.8L237.4 801.8L236.4 791.8L230.2 779.8L229.8 778.2L230.1 775.8L231.2 772.2L235.6 767.1L237.6 766.1L244.6 764.3L247.6 762.6L250.5 757.2L254.2 752.2L254.8 750.8L254.4 748.2L250.8 739.8L246.4 724.2L245.5 722.2L242.8 718.2L240.8 711.8L239.1 707.9L236.1 703.0L234.1 700.7L230.6 698.9L226.1 697.3L223.1 697.5L219.6 698.5L214.6 702.3L211.1 706.0L205.7 712.8L202.1 719.4L197.6 725.1L195.3 732.2L194.3 739.8L194.1 751.2L195.3 762.2L194.6 765.0L191.6 768.1L186.1 772.2L178.8 775.8L175.7 777.8L166.9 785.8L166.1 786.9L165.7 788.2L167.3 804.2L172.1 822.2L172.7 828.8L177.6 846.2L182.1 856.6L183.6 858.9L185.5 860.8L192.1 864.7L196.1 865.7L206.3 866.8Z" fill="#75b774" fill-rule="evenodd" stroke="#000" stroke-opacity="0.22" stroke-width="0.6"/>
<path d="M430.6 889.8L91.0 889.8L91.0 552.2L430.6 552.2L430.6 889.8ZM209.4 875.8L223.1 873.0L226.6 871.5L233.1 865.8L235.6 861.7L237.2 856.8L237.4 855.2L236.7 850.2L238.2 840.8L237.0 835.8L238.2 826.2L236.9 820.8L238.0 809.2L237.7 797.2L236.9 791.2L231.5 778.8L231.4 776.2L232.2 773.2L236.1 768.0L237.6 767.3L242.6 766.7L250.1 764.1L252.0 762.8L256.6 757.1L258.1 756.1L260.6 755.6L261.1 754.8L260.0 750.8L253.4 736.2L246.5 717.2L244.2 707.2L243.6 700.2L242.3 693.2L241.1 690.0L237.3 684.2L237.6 682.8L241.5 677.8L242.3 676.2L242.4 674.2L241.2 667.8L239.4 663.8L237.1 660.5L233.1 657.4L230.1 656.6L227.1 656.6L225.0 657.2L222.5 659.2L220.7 661.8L218.4 668.2L218.7 670.2L220.7 676.2L220.6 679.1L216.6 683.9L212.6 690.4L204.6 705.9L196.3 723.2L194.2 731.8L193.5 739.2L193.5 751.2L194.4 761.8L193.9 764.2L190.6 767.7L185.1 771.6L174.8 775.8L170.3 778.2L163.2 784.2L162.1 786.2L163.9 792.8L165.7 804.8L170.8 822.2L171.4 829.2L175.2 842.2L175.8 846.8L177.8 852.8L178.6 857.5L181.1 864.7L183.6 868.7L185.6 871.1L187.6 872.6L191.1 874.1L194.1 875.1L198.6 875.7L205.1 876.1L209.4 875.8ZM278.7 742.2L289.8 728.8L293.1 725.3L297.9 721.2L298.7 720.2L298.6 719.2L294.6 719.3L276.6 722.1L275.0 722.8L274.4 723.8L274.4 725.8L276.6 739.1L277.6 741.8L278.7 742.2Z" fill="#93bc5f" fill-rule="evenodd" stroke="#000" stroke-opacity="0.22" stroke-width="0.6"/>
<path d="M430.6 889.8L91.0 889.8L91.0 552.2L430.6 552.2L430.6 889.8ZM208.9 884.8L222.1 882.4L227.1 880.5L230.6 878.3L233.6 875.8L235.6 872.8L236.9 869.8L236.9 865.2L238.0 862.2L239.1 856.2L237.9 850.8L239.1 840.8L237.9 835.2L238.9 825.8L237.7 820.2L238.7 804.2L237.7 791.8L232.9 777.8L233.0 775.2L233.7 773.2L235.6 770.1L237.1 768.9L241.1 768.7L251.1 765.9L254.2 764.8L258.6 762.3L266.1 762.8L268.0 762.2L268.6 761.2L268.0 759.2L262.6 748.8L259.7 742.2L249.6 714.4L247.2 700.2L246.5 676.2L243.8 665.2L240.1 658.2L236.1 653.2L232.1 650.8L226.1 649.3L223.6 649.7L220.6 651.3L217.3 654.2L215.3 657.2L212.2 665.8L207.8 682.2L204.3 693.2L196.1 716.2L194.0 720.2L194.2 725.2L193.0 731.8L192.8 739.2L192.8 751.2L193.5 761.2L193.1 763.8L190.1 767.0L184.6 770.7L170.4 775.8L165.2 778.2L159.1 783.2L158.1 784.8L161.7 793.2L164.0 804.8L169.6 822.1L170.3 828.8L174.1 842.2L174.5 846.8L176.3 852.8L176.9 858.2L178.3 864.8L182.6 876.1L184.1 878.6L186.1 881.1L187.6 882.3L189.6 883.3L196.6 884.7L208.9 884.8ZM279.2 747.2L288.1 734.3L293.6 727.8L300.6 721.0L302.1 718.9L302.3 717.8L302.1 717.2L300.6 716.5L272.6 709.1L272.0 709.2L271.6 710.8L273.0 719.2L273.0 725.8L275.1 738.1L277.1 746.4L278.1 747.6L279.2 747.2Z" fill="#b8bd4c" fill-rule="evenodd" stroke="#000" stroke-opacity="0.22" stroke-width="0.6"/>
<path d="M430.6 889.8L230.2 889.8L231.0 888.2L234.6 885.2L236.1 883.2L237.3 880.2L238.1 874.2L239.1 871.6L240.1 870.1L242.1 869.2L243.6 866.7L247.6 853.7L249.5 845.2L249.1 844.7L248.6 845.3L243.3 854.8L241.6 856.6L239.6 852.8L239.0 850.8L240.0 840.8L238.9 835.2L239.7 825.8L238.7 820.2L239.5 805.2L238.9 795.8L238.4 791.2L237.0 787.2L234.7 778.2L234.5 776.2L234.8 774.2L236.1 771.9L237.6 770.8L240.6 770.5L250.1 768.7L251.6 768.8L254.1 770.0L255.1 770.0L262.6 766.6L271.6 765.1L272.6 764.4L272.7 763.8L272.2 761.8L268.1 753.3L265.6 747.2L251.6 707.8L249.9 697.8L250.0 684.2L249.4 676.8L247.1 664.7L244.1 655.6L241.1 648.9L235.1 639.4L232.6 637.4L229.6 635.8L226.6 634.7L224.6 634.5L222.6 634.9L220.6 635.9L215.6 640.1L213.1 644.2L209.6 652.7L207.2 660.2L201.6 686.8L198.8 698.2L193.8 715.8L191.8 720.2L191.8 721.8L192.5 725.8L191.9 732.2L192.6 760.2L192.1 763.2L189.5 766.2L184.2 769.8L163.4 776.8L158.6 780.0L155.1 781.7L154.0 783.2L154.4 785.2L157.5 790.2L159.7 794.8L162.3 804.8L168.2 822.2L169.3 829.2L173.0 843.2L173.1 847.2L174.4 853.2L174.7 860.2L175.6 864.8L178.6 871.9L181.1 882.4L184.6 889.8L91.0 889.8L91.0 882.2L122.0 879.7L152.6 875.9L154.0 875.2L154.7 871.8L156.1 869.8L160.4 867.8L169.6 865.0L170.6 864.2L171.2 862.8L170.5 861.2L168.1 860.5L146.1 861.0L127.5 862.6L91.0 867.6L91.0 552.2L430.6 552.2L430.6 889.8ZM280.0 756.8L282.1 753.9L296.8 728.2L303.4 719.2L304.1 717.2L303.2 716.2L302.0 715.8L271.1 707.1L270.1 708.2L270.1 710.2L271.7 720.2L272.1 725.8L274.6 741.2L275.9 747.2L277.7 751.8L278.7 755.8L279.1 756.6L280.0 756.8ZM290.3 875.8L303.1 875.7L305.3 875.2L318.1 875.2L320.3 874.8L333.1 874.7L335.3 874.2L347.6 874.2L350.3 873.8L363.6 873.7L365.3 873.2L378.1 873.2L381.1 872.6L381.2 871.8L380.4 867.2L378.0 864.8L357.6 856.2L352.6 855.0L340.1 855.5L272.1 860.0L252.1 862.6L250.1 863.4L248.9 865.2L249.0 866.8L250.6 867.8L262.6 869.0L267.9 870.8L270.0 872.2L271.6 875.1L272.6 875.5L281.1 875.9L290.3 875.8Z" fill="#dcb43f" fill-rule="evenodd" stroke="#000" stroke-opacity="0.22" stroke-width="0.6"/>
<path d="M430.6 881.8L428.0 881.2L388.6 867.2L375.6 861.5L358.1 854.5L354.1 853.3L348.1 853.2L279.1 857.7L271.1 858.4L252.6 860.7L250.1 860.7L249.5 860.2L249.5 859.2L250.6 857.0L251.6 856.6L255.6 856.9L257.1 856.4L257.6 855.8L257.5 855.2L256.1 854.3L252.1 853.4L251.8 851.8L263.1 814.8L265.1 807.1L265.1 804.9L263.1 807.3L259.6 813.9L243.1 848.9L242.1 850.5L241.6 850.8L241.1 850.6L240.8 847.8L241.3 840.2L240.3 834.8L241.0 825.2L240.0 819.8L240.5 803.2L239.8 791.2L237.1 779.5L236.7 776.8L237.0 774.8L237.8 773.8L239.1 773.5L241.1 773.7L241.8 774.2L243.3 783.8L244.1 784.6L245.6 784.6L249.6 782.6L270.2 769.8L275.6 767.4L276.5 766.2L276.6 765.2L275.8 762.2L270.1 748.0L253.4 700.8L252.2 693.8L252.2 688.8L252.6 683.8L252.0 678.8L247.6 654.9L245.1 646.0L240.8 635.2L235.1 625.6L230.6 621.9L227.1 620.3L224.1 619.6L222.1 619.7L219.6 620.9L215.1 624.0L212.5 626.8L210.7 629.8L206.6 639.0L204.6 645.0L201.5 658.8L194.6 702.8L191.6 715.7L189.9 720.8L190.5 726.2L190.3 731.8L191.1 754.8L191.1 760.2L190.6 762.8L188.5 765.2L183.9 768.2L160.6 775.6L153.6 779.4L152.0 780.8L151.2 782.2L151.0 783.8L151.5 785.8L157.7 797.2L166.6 824.8L166.7 829.8L166.6 830.2L165.1 829.4L164.8 830.8L167.5 844.8L167.4 846.2L166.5 847.2L161.1 849.8L160.3 850.8L160.4 851.2L162.1 851.8L167.6 851.3L168.6 851.6L169.7 853.8L170.3 856.2L170.2 857.8L169.6 858.3L168.1 858.6L146.6 859.2L132.1 860.3L91.0 865.9L91.0 552.2L430.6 552.2L430.6 881.8ZM279.9 760.8L282.3 757.8L301.1 725.1L305.6 718.8L305.9 717.2L305.1 716.1L303.1 715.1L276.6 707.9L271.6 705.9L270.1 705.7L268.9 706.8L268.8 709.2L274.7 747.8L275.9 752.8L277.0 759.8L278.1 760.9L279.1 761.1L279.9 760.8ZM172.6 870.5L168.1 870.2L164.6 869.2L164.7 868.8L166.8 867.8L172.1 866.5L172.9 867.2L173.4 868.8L173.4 869.8L172.6 870.5ZM247.6 872.3L246.5 872.2L245.9 871.2L246.3 869.8L247.1 869.1L251.6 870.2L252.1 870.8L249.9 871.8L247.6 872.3ZM179.6 889.8L106.0 889.8L109.5 888.8L129.1 886.5L160.6 881.6L175.1 877.8L176.2 878.2L177.0 879.8L179.6 887.4L180.0 889.8L179.6 889.8ZM430.6 889.8L238.3 889.8L240.3 883.2L242.6 879.8L244.1 879.0L249.6 880.6L289.6 883.7L299.6 883.7L334.6 885.2L356.1 885.2L362.1 885.7L393.1 885.7L400.1 886.2L430.6 886.1L430.6 889.8Z" fill="#eca139" fill-rule="evenodd" stroke="#000" stroke-opacity="0.22" stroke-width="0.6"/>
<path d="M164.6 746.8L164.1 746.7L163.4 745.8L162.9 741.2L163.1 726.8L164.5 709.2L164.4 707.8L163.6 706.9L147.1 706.7L141.1 707.2L105.5 708.0L103.0 707.4L93.5 703.6L91.0 703.0L91.0 552.2L430.6 552.2L430.6 686.4L402.1 692.8L331.6 710.2L309.6 716.2L308.1 716.1L303.1 714.0L276.2 706.8L270.1 704.1L268.1 704.1L267.1 705.2L267.0 707.2L269.1 723.8L269.1 729.6L267.6 727.3L265.1 721.1L255.4 694.2L254.6 689.8L254.6 682.6L248.1 645.6L244.6 631.1L239.6 615.9L234.6 605.3L231.5 600.8L229.6 599.1L226.6 597.6L223.1 596.6L220.6 596.8L217.6 597.8L215.1 599.2L212.6 601.2L210.8 603.2L208.6 607.3L204.7 615.8L202.6 622.2L198.4 639.8L195.9 656.8L192.5 693.8L190.6 704.1L188.6 710.8L186.1 715.6L171.1 739.1L167.1 744.7L164.6 746.8Z" fill="#ec7f33" fill-rule="evenodd" stroke="#000" stroke-opacity="0.22" stroke-width="0.6"/>
<path d="M190.1 691.7L189.1 691.2L188.6 689.2L188.1 688.8L188.1 663.8L187.6 663.2L187.6 628.8L188.1 628.2L188.1 582.2L188.6 581.8L188.6 552.2L244.5 552.2L244.5 555.8L245.0 556.2L245.0 562.2L245.5 562.8L245.5 567.8L246.0 568.2L246.0 572.8L246.5 573.2L246.5 577.8L247.0 578.2L247.0 582.8L247.5 583.2L247.5 587.8L248.0 588.2L248.0 592.8L248.5 593.2L248.5 597.8L249.0 598.2L249.0 602.8L249.5 603.2L249.5 607.8L250.0 608.2L250.5 617.8L251.0 618.2L251.5 625.2L252.0 625.8L252.0 628.8L252.5 629.2L252.5 632.8L253.0 633.2L253.0 636.2L253.5 636.8L253.5 640.2L254.0 640.8L254.5 647.2L255.0 647.8L255.0 650.8L255.5 651.2L256.0 657.2L256.5 657.8L256.5 660.8L257.0 661.2L257.0 663.8L257.5 664.2L257.5 667.8L258.0 668.2L258.0 671.2L258.5 671.8L259.0 678.8L259.5 679.2L259.5 681.2L259.0 681.8L259.0 682.8L258.0 684.2L257.5 686.2L256.6 686.7L256.1 686.2L255.8 684.8L249.6 647.2L244.1 619.8L243.7 619.2L243.6 616.8L243.1 616.2L243.1 614.2L242.6 613.8L242.6 611.8L242.1 611.2L242.1 609.2L241.6 608.8L241.6 606.8L241.1 606.2L241.1 604.2L240.6 603.8L240.6 602.2L240.1 601.8L239.6 597.2L239.1 596.8L239.1 594.8L238.6 594.2L238.6 592.2L238.1 591.8L238.1 589.8L237.6 589.2L237.1 585.2L236.6 584.8L236.6 582.8L236.1 582.2L235.6 578.2L235.1 577.8L235.1 576.2L234.6 575.8L234.6 573.8L234.1 573.2L234.1 572.2L233.1 570.8L233.1 569.8L231.6 567.2L231.6 566.2L230.6 564.8L230.6 563.8L229.1 560.7L228.1 559.7L227.1 559.7L225.6 558.7L224.6 558.7L223.1 557.7L222.1 557.7L221.6 557.2L219.6 557.2L214.1 562.2L213.6 562.2L211.5 564.2L211.0 565.2L211.0 566.2L210.0 567.8L210.0 568.8L209.0 570.2L209.0 571.2L207.5 573.8L207.5 574.8L206.5 576.2L206.5 577.2L204.5 581.2L204.0 583.8L203.5 584.2L203.5 585.8L202.5 587.8L202.5 588.8L202.0 589.2L202.0 590.8L201.0 592.8L201.0 594.2L200.0 596.2L200.0 597.2L199.5 597.8L199.0 601.2L198.5 601.8L198.0 606.2L197.5 606.8L197.5 608.8L197.0 609.2L197.0 611.2L196.5 611.8L196.5 613.8L196.0 614.2L196.0 616.2L195.5 616.8L195.5 619.2L195.0 619.8L194.5 627.2L194.0 627.8L194.0 631.2L193.5 631.8L193.5 635.2L193.0 635.8L192.5 647.8L192.0 648.2L192.0 653.8L191.5 654.2L190.9 682.2L190.5 682.8L190.5 691.2L190.1 691.7Z" fill="#e0242a" fill-rule="evenodd" stroke="#000" stroke-opacity="0.22" stroke-width="0.6"/>
<path d="M243.6 545.0L243.6 552.0L244.6 563.3L247.3 590.8L250.1 618.3L253.7 645.8L256.5 664.1L258.7 680.6L256.5 688.0L251.9 691.6L249.1 697.1L250.2 702.6L244.7 706.3L247.3 713.6L251.0 719.1L250.1 720.5L251.9 729.7L256.5 736.1L263.8 744.3L273.0 755.3L280.3 762.7L284.0 769.4L276.6 770.4L265.6 768.5L254.6 764.9L247.3 763.0L240.0 765.8L237.4 770.0L238.1 779.2L240.0 797.5L240.9 825.0L241.4 852.5L241.8 880.0L242.2 896.5L178.0 896.5L178.0 890.0L176.7 870.8L174.0 852.5L169.4 834.1L163.0 815.8L155.7 797.5L149.2 786.5L147.8 782.8L150.2 778.2L157.5 774.6L170.3 770.9L185.0 767.2L190.5 762.7L191.4 751.7L189.6 733.3L188.3 720.5L187.7 714.9L186.8 700.8L188.3 688.0L188.7 673.3L187.7 655.0L188.3 618.3L188.7 581.7L189.0 552.0L189.0 545.0" fill="none" stroke="#d8382c" stroke-opacity="0.95" stroke-width="3.4" stroke-linejoin="round" stroke-linecap="round"/>
<ellipse cx="244.6" cy="648.6" rx="4.2" ry="2.5" transform="rotate(38 244.6 648.6)" fill="#fff"/>
</g>
<rect x="84.0" y="544.4" width="354.0" height="353.6" fill="none" stroke="#505050" stroke-width="1.3"/>
<path d="M90.9 898.0v-4.6M90.9 544.4v4.6M84.0 890.9h4.6M438.0 890.9h-4.6M112.1 898.0v-2.8M112.1 544.4v2.8M84.0 869.7h2.8M438.0 869.7h-2.8M133.4 898.0v-2.8M133.4 544.4v2.8M84.0 848.5h2.8M438.0 848.5h-2.8M154.6 898.0v-2.8M154.6 544.4v2.8M84.0 827.3h2.8M438.0 827.3h-2.8M175.9 898.0v-4.6M175.9 544.4v4.6M84.0 806.1h4.6M438.0 806.1h-4.6M197.1 898.0v-2.8M197.1 544.4v2.8M84.0 784.9h2.8M438.0 784.9h-2.8M218.4 898.0v-2.8M218.4 544.4v2.8M84.0 763.7h2.8M438.0 763.7h-2.8M239.6 898.0v-2.8M239.6 544.4v2.8M84.0 742.5h2.8M438.0 742.5h-2.8M260.9 898.0v-4.6M260.9 544.4v4.6M84.0 721.3h4.6M438.0 721.3h-4.6M282.1 898.0v-2.8M282.1 544.4v2.8M84.0 700.1h2.8M438.0 700.1h-2.8M303.4 898.0v-2.8M303.4 544.4v2.8M84.0 678.9h2.8M438.0 678.9h-2.8M324.6 898.0v-2.8M324.6 544.4v2.8M84.0 657.7h2.8M438.0 657.7h-2.8M345.9 898.0v-4.6M345.9 544.4v4.6M84.0 636.5h4.6M438.0 636.5h-4.6M367.1 898.0v-2.8M367.1 544.4v2.8M84.0 615.3h2.8M438.0 615.3h-2.8M388.4 898.0v-2.8M388.4 544.4v2.8M84.0 594.1h2.8M438.0 594.1h-2.8M409.6 898.0v-2.8M409.6 544.4v2.8M84.0 572.9h2.8M438.0 572.9h-2.8M430.9 898.0v-4.6M430.9 544.4v4.6M84.0 551.7h4.6M438.0 551.7h-4.6" stroke="#505050" stroke-width="1.1" fill="none"/>
<g font-family='"Liberation Sans", "DejaVu Sans", sans-serif' font-weight="bold" font-size="31px" fill="#000">
<text x="90.9" y="930.3" text-anchor="middle">−4</text>
<text x="79.6" y="902.2" text-anchor="end">−4</text>
<text x="175.9" y="930.3" text-anchor="middle">−2</text>
<text x="79.6" y="817.4" text-anchor="end">−2</text>
<text x="260.9" y="930.3" text-anchor="middle">0</text>
<text x="79.6" y="732.6" text-anchor="end">0</text>
<text x="345.9" y="930.3" text-anchor="middle">2</text>
<text x="79.6" y="647.8" text-anchor="end">2</text>
<text x="430.9" y="930.3" text-anchor="middle">4</text>
<text x="79.6" y="563.0" text-anchor="end">4</text>
</g>
<text x="215.0" y="975.2" textLength="91" lengthAdjust="spacing" font-family='"Liberation Sans", "DejaVu Sans", sans-serif' font-weight="bold" font-size="30.5px" fill="#000">Δ<tspan font-style="italic" font-size="21.5px" dy="4.6">m</tspan><tspan dy="-4.6">/</tspan><tspan font-style="italic">ω</tspan><tspan font-style="italic" font-size="21.5px" dy="4.6">b</tspan></text>
<text transform="translate(30.4 762.2) rotate(-90)" textLength="81" lengthAdjust="spacing" font-family='"Liberation Sans", "DejaVu Sans", sans-serif' font-weight="bold" font-size="30.5px" fill="#000"><tspan font-style="italic">δ</tspan><tspan font-style="italic" font-size="21.5px" dy="4.6">c</tspan><tspan dy="-4.6">/</tspan><tspan font-style="italic">ω</tspan><tspan font-style="italic" font-size="21.5px" dy="4.6">b</tspan></text>
<text x="1.4" y="557.2" font-family='"Liberation Serif", "DejaVu Serif", serif' font-size="34.6px" fill="#111">(d)</text>
<text x="227.4" y="522.5" font-family='"Liberation Sans", "DejaVu Sans", sans-serif' font-weight="bold" font-size="30.5px" fill="#000"><tspan>S</tspan><tspan font-size="21.5px" dy="4.8">cmb</tspan></text>
<g>
<rect x="462.9" y="626.00" width="19.1" height="20.60" fill="#e0242a"/>
<rect x="462.9" y="646.30" width="19.1" height="19.40" fill="#ec7f33"/>
<rect x="462.9" y="665.40" width="19.1" height="19.40" fill="#eca139"/>
<rect x="462.9" y="684.50" width="19.1" height="19.40" fill="#dcb43f"/>
<rect x="462.9" y="703.60" width="19.1" height="19.40" fill="#b8bd4c"/>
<rect x="462.9" y="722.70" width="19.1" height="19.40" fill="#93bc5f"/>
<rect x="462.9" y="741.80" width="19.1" height="19.40" fill="#75b774"/>
<rect x="462.9" y="760.90" width="19.1" height="19.40" fill="#60ae90"/>
<rect x="462.9" y="780.00" width="19.1" height="19.40" fill="#529eae"/>
<rect x="462.9" y="799.10" width="19.1" height="19.40" fill="#4888c3"/>
<rect x="462.9" y="818.20" width="19.1" height="19.40" fill="#466cbd"/>
<rect x="462.9" y="837.30" width="19.1" height="19.40" fill="#4652ad"/>
<rect x="462.9" y="856.40" width="19.1" height="21.30" fill="#5b35a2"/>
<path d="M462.9 646.30H482.0M462.9 665.40H482.0M462.9 684.50H482.0M462.9 703.60H482.0M462.9 722.70H482.0M462.9 741.80H482.0M462.9 760.90H482.0M462.9 780.00H482.0M462.9 799.10H482.0M462.9 818.20H482.0M462.9 837.30H482.0M462.9 856.40H482.0" stroke="#000" stroke-opacity="0.22" stroke-width="0.9" fill="none"/>
</g>
<g font-family='"Liberation Sans", "DejaVu Sans", sans-serif' font-weight="bold" font-size="31px" fill="#686868">
<text x="488.0" y="657.7">0.225</text>
<text x="488.0" y="695.9">0.195</text>
<text x="488.0" y="734.1">0.165</text>
<text x="488.0" y="772.3">0.135</text>
<text x="488.0" y="810.5">0.105</text>
<text x="488.0" y="848.7">0.075</text>
</g>
</g>
<g id="panel-e">
<rect x="643.8" y="550.6" width="442.4" height="323.3" fill="#fff" stroke="#7d7d7d" stroke-width="1.1"/>
<path d="M754.4 873.9v-4.4M754.4 550.6v4.4M865.0 873.9v-4.4M865.0 550.6v4.4M975.6 873.9v-4.4M975.6 550.6v4.4M1086.2 873.9v-4.4M1086.2 550.6v4.4M643.8 873.9h4.4M1086.2 873.9h-4.4M643.8 744.3h4.4M1086.2 744.3h-4.4M643.8 614.6h4.4M1086.2 614.6h-4.4" stroke="#7d7d7d" stroke-width="1" fill="none"/>
<g font-family='"Liberation Serif", "DejaVu Serif", serif' font-size="26.3px" fill="#2a2a2a">
<text x="754.4" y="907.3" text-anchor="middle">1</text>
<text x="865.0" y="907.3" text-anchor="middle">2</text>
<text x="975.6" y="907.3" text-anchor="middle">3</text>
<text x="1086.2" y="907.3" text-anchor="middle">4</text>
<text x="634.3" y="882.3" text-anchor="end">0</text>
<text x="634.3" y="752.7" text-anchor="end">0.2</text>
<text x="634.3" y="623.0" text-anchor="end">0.4</text>
</g>
<path d="M643.8 873.9H721.6" stroke="#2f3492" stroke-width="2.2" fill="none" stroke-dasharray="7 7" opacity="0"/>
<path d="M721.6 873.9L723.1 865.5L724.6 857.3L726.1 849.2L727.7 841.4L729.2 833.8L730.7 826.4L732.2 819.0L733.8 811.9L735.3 804.9L736.8 798.0L738.3 791.1L739.9 784.2L741.4 777.3L742.9 770.3L744.4 762.9L746.0 755.3L747.5 748.0L749.0 741.3L750.5 735.2L752.1 729.4L753.6 723.8L755.1 718.4L756.6 713.1L758.2 707.8L759.7 702.7L761.2 697.7L762.7 692.9L764.3 688.2L765.8 683.6L767.3 679.2L768.8 674.9L770.4 670.6L771.9 666.5L773.4 662.5L775.0 658.7L776.5 654.9L778.0 651.3L779.5 647.6L781.1 644.0L782.6 640.4L784.1 636.9L785.6 633.4L787.2 630.1L788.7 626.9L790.2 623.8L791.7 620.9L793.3 618.2L794.8 615.6L796.3 613.3L797.8 611.0L799.4 608.8L800.9 606.7L802.4 604.6L803.9 602.6L805.5 600.7L807.0 598.8L808.5 597.0L810.0 595.3L811.6 593.6L813.1 592.0L814.6 590.4L816.1 588.9L817.7 587.5L819.2 586.1L820.7 584.9L822.2 583.6L823.8 582.4L825.3 581.2L826.8 580.1L828.4 579.0L829.9 577.9L831.4 576.9L832.9 575.9L834.5 574.9L836.0 574.0L837.5 573.2L839.0 572.4L840.6 571.6L842.1 570.9L843.6 570.3L845.1 569.6L846.7 569.0L848.2 568.4L849.7 567.8L851.2 567.2L852.8 566.7L854.3 566.2L855.8 565.7L857.3 565.2L858.9 564.8L860.4 564.4L861.9 564.0L863.4 563.7L865.0 563.4L866.5 563.2L868.0 562.9L869.5 562.7L871.1 562.4L872.6 562.2L874.1 561.9L875.6 561.7L877.2 561.5L878.7 561.3L880.2 561.2L881.8 561.1L883.3 561.0L884.8 560.9L886.3 560.8L887.9 560.8L889.4 560.9L890.9 560.9L892.4 561.0L894.0 561.0L895.5 561.1L897.0 561.2L898.5 561.4L900.1 561.5L901.6 561.7L903.1 561.8L904.6 562.0L906.2 562.2L907.7 562.4L909.2 562.6L910.7 562.8L912.3 563.0L913.8 563.2L915.3 563.4L916.8 563.6L918.4 563.8L919.9 564.0L921.4 564.2L922.9 564.5L924.5 564.7L926.0 565.0L927.5 565.3L929.1 565.6L930.6 566.0L932.1 566.3L933.6 566.7L935.2 567.1L936.7 567.5L938.2 567.9L939.7 568.3L941.3 568.7L942.8 569.2L944.3 569.6L945.8 570.1L947.4 570.6L948.9 571.1L950.4 571.5L951.9 572.0L953.5 572.5L955.0 573.0L956.5 573.5L958.0 574.0L959.6 574.5L961.1 575.0L962.6 575.5L964.1 576.0L965.7 576.5L967.2 577.0L968.7 577.5L970.2 578.0L971.8 578.5L973.3 578.9L974.8 579.4L976.3 579.9L977.9 580.3L979.4 580.8L980.9 581.2L982.5 581.7L984.0 582.2L985.5 582.6L987.0 583.1L988.6 583.6L990.1 584.0L991.6 584.5L993.1 585.0L994.7 585.5L996.2 585.9L997.7 586.4L999.2 586.9L1000.8 587.4L1002.3 587.9L1003.8 588.4L1005.3 588.8L1006.9 589.3L1008.4 589.8L1009.9 590.3L1011.4 590.8L1013.0 591.3L1014.5 591.8L1016.0 592.3L1017.5 592.8L1019.1 593.3L1020.6 593.8L1022.1 594.3L1023.6 594.8L1025.2 595.3L1026.7 595.8L1028.2 596.3L1029.7 596.8L1031.3 597.3L1032.8 597.8L1034.3 598.3L1035.9 598.8L1037.4 599.3L1038.9 599.8L1040.4 600.3L1042.0 600.8L1043.5 601.3L1045.0 601.8L1046.5 602.3L1048.1 602.8L1049.6 603.3L1051.1 603.9L1052.6 604.4L1054.2 604.9L1055.7 605.4L1057.2 605.9L1058.7 606.4L1060.3 607.0L1061.8 607.5L1063.3 608.0L1064.8 608.5L1066.4 609.0L1067.9 609.6L1069.4 610.1L1070.9 610.6L1072.5 611.1L1074.0 611.7L1075.5 612.2L1077.0 612.7L1078.6 613.3L1080.1 613.8L1081.6 614.3L1083.1 614.9L1084.7 615.4L1086.2 615.9" stroke="#2f3492" stroke-width="2.3" fill="none" stroke-dasharray="8.4 6.6"/>
<path d="M643.8 873.9H789.0" stroke="#5fae3c" stroke-width="2.3" fill="none"/>
<path d="M643.8 873.9L789.0 873.9L790.3 871.6L791.5 869.4L792.7 867.2L794.0 865.1L795.2 863.0L796.5 861.0L797.7 859.1L799.0 857.2L800.2 855.4L801.5 853.6L802.7 851.8L803.9 850.1L805.2 848.5L806.4 846.8L807.7 845.3L808.9 843.7L810.2 842.3L811.4 840.8L812.6 839.4L813.9 838.0L815.1 836.7L816.4 835.4L817.6 834.1L818.9 832.9L820.1 831.7L821.3 830.6L822.6 829.4L823.8 828.3L825.1 827.2L826.3 826.0L827.6 824.9L828.8 823.8L830.1 822.8L831.3 821.7L832.5 820.7L833.8 819.7L835.0 818.7L836.3 817.8L837.5 816.9L838.8 816.1L840.0 815.3L841.2 814.5L842.5 813.8L843.7 813.2L845.0 812.5L846.2 811.9L847.5 811.3L848.7 810.7L849.9 810.2L851.2 809.6L852.4 809.1L853.7 808.5L854.9 808.0L856.2 807.6L857.4 807.1L858.7 806.6L859.9 806.2L861.1 805.8L862.4 805.4L863.6 805.0L864.9 804.7L866.1 804.3L867.4 804.0L868.6 803.7L869.8 803.4L871.1 803.2L872.3 802.9L873.6 802.6L874.8 802.3L876.1 802.1L877.3 801.8L878.5 801.6L879.8 801.4L881.0 801.1L882.3 800.9L883.5 800.7L884.8 800.6L886.0 800.4L887.2 800.2L888.5 800.1L889.7 799.9L891.0 799.8L892.2 799.7L893.5 799.6L894.7 799.5L896.0 799.5L897.2 799.4L898.4 799.3L899.7 799.2L900.9 799.1L902.2 799.1L903.4 799.0L904.7 798.9L905.9 798.9L907.1 798.8L908.4 798.8L909.6 798.8L910.9 798.7L912.1 798.7L913.4 798.7L914.6 798.7L915.8 798.7L917.1 798.7L918.3 798.8L919.6 798.8L920.8 798.8L922.1 798.8L923.3 798.9L924.6 798.9L925.8 798.9L927.0 799.0L928.3 799.0L929.5 799.1L930.8 799.1L932.0 799.2L933.3 799.2L934.5 799.3L935.7 799.4L937.0 799.4L938.2 799.5L939.5 799.5L940.7 799.6L942.0 799.7L943.2 799.7L944.4 799.8L945.7 799.9L946.9 800.0L948.2 800.1L949.4 800.2L950.7 800.3L951.9 800.4L953.2 800.5L954.4 800.7L955.6 800.8L956.9 800.9L958.1 801.1L959.4 801.2L960.6 801.4L961.9 801.5L963.1 801.7L964.3 801.8L965.6 802.0L966.8 802.2L968.1 802.3L969.3 802.5L970.6 802.6L971.8 802.8L973.0 802.9L974.3 803.1L975.5 803.2L976.8 803.4L978.0 803.5L979.3 803.7L980.5 803.9L981.8 804.0L983.0 804.2L984.2 804.3L985.5 804.5L986.7 804.7L988.0 804.8L989.2 805.0L990.5 805.2L991.7 805.4L992.9 805.5L994.2 805.7L995.4 805.9L996.7 806.1L997.9 806.3L999.2 806.4L1000.4 806.6L1001.6 806.8L1002.9 807.0L1004.1 807.2L1005.4 807.3L1006.6 807.5L1007.9 807.7L1009.1 807.9L1010.4 808.1L1011.6 808.3L1012.8 808.4L1014.1 808.6L1015.3 808.8L1016.6 809.0L1017.8 809.2L1019.1 809.4L1020.3 809.5L1021.5 809.7L1022.8 809.9L1024.0 810.1L1025.3 810.2L1026.5 810.4L1027.8 810.6L1029.0 810.8L1030.2 810.9L1031.5 811.1L1032.7 811.3L1034.0 811.4L1035.2 811.6L1036.5 811.8L1037.7 812.0L1038.9 812.1L1040.2 812.3L1041.4 812.5L1042.7 812.6L1043.9 812.8L1045.2 813.0L1046.4 813.1L1047.7 813.3L1048.9 813.5L1050.1 813.6L1051.4 813.8L1052.6 814.0L1053.9 814.1L1055.1 814.3L1056.4 814.5L1057.6 814.6L1058.8 814.8L1060.1 815.0L1061.3 815.1L1062.6 815.3L1063.8 815.4L1065.1 815.6L1066.3 815.8L1067.5 815.9L1068.8 816.1L1070.0 816.3L1071.3 816.4L1072.5 816.6L1073.8 816.7L1075.0 816.9L1076.3 817.1L1077.5 817.2L1078.7 817.4L1080.0 817.6L1081.2 817.7L1082.5 817.9L1083.7 818.0L1085.0 818.2L1086.2 818.4" stroke="#5fb03e" stroke-width="2.3" fill="none" stroke-linejoin="round"/>
<path d="M643.8 873.9H1086.2" stroke="#e23a3a" stroke-width="2.2" fill="none" stroke-dasharray="1.6 1.6"/>
<path d="M643.8 873.9H787.6" stroke="#8a8a3c" stroke-width="2.2" fill="none" opacity="0.75"/>
<rect x="654.5" y="560.2" width="107.0" height="104.4" fill="#fff" stroke="#6e6e6e" stroke-width="1.1"/>
<path d="M658.0 580.4H700.0" stroke="#2f3492" stroke-width="2.3" stroke-dasharray="6.4 4.3" fill="none"/>
<path d="M658.0 613.0H700.0" stroke="#5fb03e" stroke-width="2.3" fill="none"/>
<path d="M658.0 646.0H700.0" stroke="#e23a3a" stroke-width="2.2" stroke-dasharray="1.6 1.6" fill="none"/>
<text x="703.5" y="587.0" font-family='"Liberation Serif", "DejaVu Math TeX Gyre", "DejaVu Serif", serif' font-size="26px" fill="#111"><tspan font-style="italic">E</tspan><tspan font-style="italic" font-size="18.5px" dy="4.6">ab</tspan></text>
<text x="701.5" y="619.6" font-family='"Liberation Serif", "DejaVu Math TeX Gyre", "DejaVu Serif", serif' font-size="26px" fill="#111"><tspan font-style="normal">𝒢</tspan><tspan font-style="italic" font-size="18.5px" dy="4.6">b→a</tspan></text>
<text x="701.5" y="652.6" font-family='"Liberation Serif", "DejaVu Math TeX Gyre", "DejaVu Serif", serif' font-size="26px" fill="#111"><tspan font-style="normal">𝒢</tspan><tspan font-style="italic" font-size="18.5px" dy="4.6">a→b</tspan></text>
<text x="822.3" y="943.6" textLength="84" lengthAdjust="spacingAndGlyphs" font-family='"Liberation Serif", "DejaVu Serif", serif' font-size="27px" fill="#2a2a2a"><tspan font-style="italic">G</tspan><tspan font-style="italic" font-size="18.5px" dy="4.4">mb</tspan><tspan dy="-4.4">/</tspan><tspan font-style="italic">κ</tspan><tspan font-style="italic" font-size="18.5px" dy="4.4">a</tspan></text>
<text x="572.6" y="557.7" font-family='"Liberation Serif", "DejaVu Serif", serif' font-size="34.6px" fill="#111">(e)</text>
</g>
<g id="panel-f">
<rect x="1224.8" y="551.1" width="448.0" height="323.5" fill="#fff" stroke="#7d7d7d" stroke-width="1.1"/>
<path d="M1314.4 874.6v-4.4M1314.4 551.1v4.4M1404.0 874.6v-4.4M1404.0 551.1v4.4M1493.6 874.6v-4.4M1493.6 551.1v4.4M1583.2 874.6v-4.4M1583.2 551.1v4.4M1672.8 874.6v-4.4M1672.8 551.1v4.4M1224.8 874.6h4.4M1672.8 874.6h-4.4M1224.8 745.0h4.4M1672.8 745.0h-4.4M1224.8 615.4h4.4M1672.8 615.4h-4.4" stroke="#7d7d7d" stroke-width="1" fill="none"/>
<g font-family='"Liberation Serif", "DejaVu Serif", serif' font-size="26.3px" fill="#2a2a2a">
<text x="1314.4" y="908.0" text-anchor="middle">1</text>
<text x="1404.0" y="908.0" text-anchor="middle">2</text>
<text x="1493.6" y="908.0" text-anchor="middle">3</text>
<text x="1583.2" y="908.0" text-anchor="middle">4</text>
<text x="1672.8" y="908.0" text-anchor="middle">5</text>
<text x="1215.3" y="883.0" text-anchor="end">0</text>
<text x="1215.3" y="753.4" text-anchor="end">0.1</text>
<text x="1215.3" y="623.8" text-anchor="end">0.2</text>
</g>
<path d="M1224.8 874.6L1225.9 874.2L1227.0 873.9L1228.2 873.5L1229.3 873.2L1230.4 872.8L1231.5 872.5L1232.7 872.2L1233.8 871.9L1234.9 871.6L1236.0 871.3L1237.2 871.0L1238.3 870.7L1239.4 870.4L1240.5 870.1L1241.6 869.9L1242.8 869.6L1243.9 869.3L1245.0 869.1L1246.1 868.8L1247.3 868.6L1248.4 868.4L1249.5 868.2L1250.6 868.0L1251.7 867.9L1252.9 867.7L1254.0 867.6L1255.1 867.5L1256.2 867.4L1257.4 867.2L1258.5 867.1L1259.6 867.1L1260.7 867.0L1261.9 866.9L1263.0 866.9L1264.1 866.8L1265.2 866.8L1266.3 866.8L1267.5 866.9L1268.6 866.9L1269.7 867.0L1270.8 867.1L1272.0 867.2L1273.1 867.3L1274.2 867.4L1275.3 867.5L1276.4 867.6L1277.6 867.7L1278.7 867.9L1279.8 868.0L1280.9 868.2L1282.1 868.4L1283.2 868.6L1284.3 868.9L1285.4 869.1L1286.6 869.4L1287.7 869.7L1288.8 870.0L1289.9 870.2L1291.0 870.5L1292.2 870.7L1293.3 871.0L1294.4 871.3L1295.5 871.5L1296.7 871.8L1297.8 872.1L1298.9 872.4L1300.0 872.6L1301.2 872.9L1302.3 873.2L1303.4 873.4L1304.5 873.6L1305.6 873.9L1306.8 874.1L1307.9 874.4L1309.0 874.5L1310.1 874.6L1311.3 874.6L1312.4 874.6L1313.5 874.6L1314.6 874.6L1315.7 874.6L1316.9 874.6L1318.0 874.6L1319.1 874.6L1320.2 874.6L1321.4 874.6L1322.5 874.6L1323.6 874.6L1324.7 874.6L1325.9 874.6L1327.0 874.6L1328.1 874.6L1329.2 874.6L1330.3 874.6L1331.5 874.6L1332.6 874.6L1333.7 874.6L1334.8 874.6L1336.0 874.6L1337.1 874.6L1338.2 874.6L1339.3 874.6L1340.4 874.6L1341.6 874.6L1342.7 874.6L1343.8 874.6L1344.9 874.6L1346.1 874.6L1347.2 874.6L1348.3 874.6L1349.4 874.6L1350.6 874.6L1351.7 874.6L1352.8 874.6L1353.9 874.6L1355.0 874.6L1356.2 874.6L1357.3 874.6L1358.4 874.6L1359.5 874.6L1360.7 874.6L1361.8 874.6L1362.9 874.6L1364.0 874.6L1365.2 874.6L1366.3 874.6L1367.4 874.6L1368.5 874.6L1369.6 874.6L1370.8 874.6L1371.9 874.6L1373.0 874.6L1374.1 874.6L1375.3 874.6L1376.4 874.6L1377.5 874.6L1378.6 874.6L1379.7 874.6L1380.9 874.6L1382.0 874.6L1383.1 874.6L1384.2 874.6L1385.4 874.6L1386.5 874.6L1387.6 874.6L1388.7 874.6L1389.9 874.6L1391.0 874.6L1392.1 874.6L1393.2 874.6L1394.3 874.6L1395.5 874.6L1396.6 874.6L1397.7 874.6L1398.8 874.6L1400.0 874.6L1401.1 874.6L1402.2 874.6L1403.3 874.6L1404.4 874.6L1405.6 874.6L1406.7 874.6L1407.8 874.6L1408.9 874.6L1410.1 874.6L1411.2 874.6L1412.3 874.6L1413.4 874.6L1414.6 874.6L1415.7 874.6L1416.8 874.6L1417.9 874.6L1419.0 874.6L1420.2 874.6L1421.3 874.6L1422.4 874.6L1423.5 874.6L1424.7 874.6L1425.8 874.6L1426.9 874.6L1428.0 874.6L1429.2 874.6L1430.3 874.6L1431.4 874.6L1432.5 874.6L1433.6 874.6L1434.8 874.6L1435.9 874.6L1437.0 874.6L1438.1 874.6L1439.3 874.6L1440.4 874.6L1441.5 874.6L1442.6 874.6L1443.7 874.6L1444.9 874.6L1446.0 874.6L1447.1 874.6L1448.2 874.6L1449.4 874.6L1450.5 874.6L1451.6 874.6L1452.7 874.6L1453.9 874.6L1455.0 874.6L1456.1 874.6L1457.2 874.6L1458.3 874.6L1459.5 874.6L1460.6 874.6L1461.7 874.6L1462.8 874.6L1464.0 874.6L1465.1 874.6L1466.2 874.6L1467.3 874.6L1468.4 874.6L1469.6 874.6L1470.7 874.6L1471.8 874.6L1472.9 874.6L1474.1 874.6L1475.2 874.6L1476.3 874.6L1477.4 874.6L1478.6 874.6L1479.7 874.6L1480.8 874.6L1481.9 874.6L1483.0 874.6L1484.2 874.6L1485.3 874.6L1486.4 874.6L1487.5 874.6L1488.7 874.6L1489.8 874.6L1490.9 874.6L1492.0 874.6L1493.2 874.6L1494.3 874.6L1495.4 874.6L1496.5 874.6L1497.6 874.6L1498.8 874.6L1499.9 874.6L1501.0 874.6L1502.1 874.6L1503.3 874.6L1504.4 874.6L1505.5 874.6L1506.6 874.6L1507.7 874.6L1508.9 874.6L1510.0 874.6L1511.1 874.6L1512.2 874.6L1513.4 874.6L1514.5 874.6L1515.6 874.6L1516.7 874.6L1517.9 874.6L1519.0 874.6L1520.1 874.6L1521.2 874.6L1522.3 874.6L1523.5 874.6L1524.6 874.6L1525.7 874.6L1526.8 874.6L1528.0 874.6L1529.1 874.6L1530.2 874.6L1531.3 874.6L1532.4 874.6L1533.6 874.6L1534.7 874.6L1535.8 874.6L1536.9 874.6L1538.1 874.6L1539.2 874.6L1540.3 874.6L1541.4 874.6L1542.6 874.6L1543.7 874.6L1544.8 874.6L1545.9 874.6L1547.0 874.6L1548.2 874.6L1549.3 874.6L1550.4 874.6L1551.5 874.6L1552.7 874.6L1553.8 874.6L1554.9 874.6L1556.0 874.6L1557.2 874.6L1558.3 874.6L1559.4 874.6L1560.5 874.6L1561.6 874.6L1562.8 874.6L1563.9 874.6L1565.0 874.6L1566.1 874.6L1567.3 874.6L1568.4 874.6L1569.5 874.6L1570.6 874.6L1571.7 874.6L1572.9 874.6L1574.0 874.6L1575.1 874.6L1576.2 874.6L1577.4 874.6L1578.5 874.6L1579.6 874.6L1580.7 874.6L1581.9 874.6L1583.0 874.6L1584.1 874.6L1585.2 874.6L1586.3 874.6L1587.5 874.6L1588.6 874.6L1589.7 874.6L1590.8 874.6L1592.0 874.6L1593.1 874.6L1594.2 874.6L1595.3 874.6L1596.4 874.6L1597.6 874.6L1598.7 874.6L1599.8 874.6L1600.9 874.6L1602.1 874.6L1603.2 874.6L1604.3 874.6L1605.4 874.6L1606.6 874.6L1607.7 874.6L1608.8 874.6L1609.9 874.6L1611.0 874.6L1612.2 874.6L1613.3 874.6L1614.4 874.6L1615.5 874.6L1616.7 874.6L1617.8 874.6L1618.9 874.6L1620.0 874.6L1621.2 874.6L1622.3 874.6L1623.4 874.6L1624.5 874.6L1625.6 874.6L1626.8 874.6L1627.9 874.6L1629.0 874.6L1630.1 874.6L1631.3 874.6L1632.4 874.6L1633.5 874.6L1634.6 874.6L1635.7 874.6L1636.9 874.6L1638.0 874.6L1639.1 874.6L1640.2 874.6L1641.4 874.6L1642.5 874.6L1643.6 874.6L1644.7 874.6L1645.9 874.6L1647.0 874.6L1648.1 874.6L1649.2 874.6L1650.3 874.6L1651.5 874.6L1652.6 874.6L1653.7 874.6L1654.8 874.6L1656.0 874.6L1657.1 874.6L1658.2 874.6L1659.3 874.6L1660.4 874.6L1661.6 874.6L1662.7 874.6L1663.8 874.6L1664.9 874.6L1666.1 874.6L1667.2 874.6L1668.3 874.6L1669.4 874.6L1670.6 874.6L1671.7 874.6L1672.8 874.6" stroke="#6cc9cf" stroke-width="2.0" fill="none" stroke-dasharray="1.6 1.6"/>
<path d="M1309.9 874.6H1672.8" stroke="#6fc4c6" stroke-width="1.8" fill="none"/>
<path d="M1224.8 874.6L1225.9 874.6L1227.0 874.6L1228.2 874.6L1229.3 874.6L1230.4 874.6L1231.5 874.6L1232.7 874.6L1233.8 874.6L1234.9 874.6L1236.0 874.6L1237.2 874.6L1238.3 874.6L1239.4 874.6L1240.5 874.6L1241.6 874.6L1242.8 874.6L1243.9 874.6L1245.0 874.6L1246.1 874.6L1247.3 874.6L1248.4 874.6L1249.5 874.6L1250.6 874.6L1251.7 874.6L1252.9 874.6L1254.0 874.6L1255.1 874.6L1256.2 874.6L1257.4 874.6L1258.5 874.6L1259.6 874.6L1260.7 874.6L1261.9 874.6L1263.0 874.6L1264.1 874.6L1265.2 874.6L1266.3 874.6L1267.5 874.6L1268.6 874.6L1269.7 874.6L1270.8 874.6L1272.0 874.6L1273.1 874.6L1274.2 874.6L1275.3 874.6L1276.4 874.6L1277.6 874.6L1278.7 874.6L1279.8 874.6L1280.9 874.6L1282.1 874.6L1283.2 874.6L1284.3 874.6L1285.4 874.6L1286.6 874.6L1287.7 874.6L1288.8 874.6L1289.9 874.6L1291.0 874.6L1292.2 874.6L1293.3 874.6L1294.4 874.6L1295.5 874.6L1296.7 874.6L1297.8 874.6L1298.9 874.6L1300.0 874.6L1301.2 874.6L1302.3 874.6L1303.4 874.6L1304.5 874.6L1305.6 874.6L1306.8 874.6L1307.9 874.6L1309.0 874.6L1310.1 874.6L1311.3 874.6L1312.4 874.6L1313.5 874.6L1314.6 874.6L1315.7 874.6L1316.9 874.6L1318.0 874.6L1319.1 874.6L1320.2 874.6L1321.4 874.6L1322.5 874.6L1323.6 874.4L1324.7 874.2L1325.9 873.9L1327.0 873.5L1328.1 873.2L1329.2 872.8L1330.3 872.4L1331.5 872.0L1332.6 871.7L1333.7 871.4L1334.8 871.0L1336.0 870.7L1337.1 870.4L1338.2 870.0L1339.3 869.7L1340.4 869.3L1341.6 869.0L1342.7 868.6L1343.8 868.3L1344.9 867.9L1346.1 867.6L1347.2 867.2L1348.3 866.9L1349.4 866.6L1350.6 866.2L1351.7 865.9L1352.8 865.6L1353.9 865.2L1355.0 864.9L1356.2 864.6L1357.3 864.3L1358.4 864.0L1359.5 863.8L1360.7 863.5L1361.8 863.2L1362.9 862.9L1364.0 862.7L1365.2 862.4L1366.3 862.1L1367.4 861.9L1368.5 861.6L1369.6 861.4L1370.8 861.1L1371.9 860.9L1373.0 860.6L1374.1 860.4L1375.3 860.1L1376.4 859.9L1377.5 859.6L1378.6 859.4L1379.7 859.1L1380.9 858.9L1382.0 858.7L1383.1 858.4L1384.2 858.2L1385.4 858.0L1386.5 857.8L1387.6 857.6L1388.7 857.3L1389.9 857.1L1391.0 856.9L1392.1 856.7L1393.2 856.5L1394.3 856.3L1395.5 856.1L1396.6 855.9L1397.7 855.7L1398.8 855.6L1400.0 855.4L1401.1 855.2L1402.2 855.0L1403.3 854.9L1404.4 854.7L1405.6 854.5L1406.7 854.4L1407.8 854.2L1408.9 854.1L1410.1 853.9L1411.2 853.8L1412.3 853.6L1413.4 853.5L1414.6 853.3L1415.7 853.2L1416.8 853.0L1417.9 852.9L1419.0 852.7L1420.2 852.6L1421.3 852.5L1422.4 852.3L1423.5 852.2L1424.7 852.1L1425.8 851.9L1426.9 851.8L1428.0 851.7L1429.2 851.6L1430.3 851.4L1431.4 851.3L1432.5 851.2L1433.6 851.1L1434.8 851.0L1435.9 850.8L1437.0 850.7L1438.1 850.6L1439.3 850.5L1440.4 850.4L1441.5 850.3L1442.6 850.2L1443.7 850.1L1444.9 850.0L1446.0 849.9L1447.1 849.8L1448.2 849.8L1449.4 849.7L1450.5 849.6L1451.6 849.5L1452.7 849.4L1453.9 849.3L1455.0 849.3L1456.1 849.2L1457.2 849.1L1458.3 849.0L1459.5 849.0L1460.6 848.9L1461.7 848.8L1462.8 848.7L1464.0 848.7L1465.1 848.6L1466.2 848.5L1467.3 848.5L1468.4 848.4L1469.6 848.3L1470.7 848.3L1471.8 848.2L1472.9 848.1L1474.1 848.1L1475.2 848.0L1476.3 848.0L1477.4 847.9L1478.6 847.8L1479.7 847.8L1480.8 847.7L1481.9 847.7L1483.0 847.6L1484.2 847.6L1485.3 847.5L1486.4 847.4L1487.5 847.4L1488.7 847.3L1489.8 847.3L1490.9 847.2L1492.0 847.2L1493.2 847.1L1494.3 847.1L1495.4 847.0L1496.5 847.0L1497.6 846.9L1498.8 846.9L1499.9 846.9L1501.0 846.8L1502.1 846.8L1503.3 846.7L1504.4 846.7L1505.5 846.6L1506.6 846.6L1507.7 846.5L1508.9 846.5L1510.0 846.4L1511.1 846.4L1512.2 846.3L1513.4 846.3L1514.5 846.3L1515.6 846.2L1516.7 846.2L1517.9 846.1L1519.0 846.1L1520.1 846.1L1521.2 846.0L1522.3 846.0L1523.5 845.9L1524.6 845.9L1525.7 845.9L1526.8 845.8L1528.0 845.8L1529.1 845.8L1530.2 845.7L1531.3 845.7L1532.4 845.7L1533.6 845.7L1534.7 845.6L1535.8 845.6L1536.9 845.6L1538.1 845.6L1539.2 845.6L1540.3 845.5L1541.4 845.5L1542.6 845.5L1543.7 845.5L1544.8 845.5L1545.9 845.4L1547.0 845.4L1548.2 845.4L1549.3 845.4L1550.4 845.4L1551.5 845.3L1552.7 845.3L1553.8 845.3L1554.9 845.3L1556.0 845.3L1557.2 845.3L1558.3 845.2L1559.4 845.2L1560.5 845.2L1561.6 845.2L1562.8 845.2L1563.9 845.2L1565.0 845.2L1566.1 845.1L1567.3 845.1L1568.4 845.1L1569.5 845.1L1570.6 845.1L1571.7 845.1L1572.9 845.1L1574.0 845.1L1575.1 845.1L1576.2 845.1L1577.4 845.1L1578.5 845.1L1579.6 845.1L1580.7 845.1L1581.9 845.1L1583.0 845.0L1584.1 845.0L1585.2 845.0L1586.3 845.1L1587.5 845.1L1588.6 845.1L1589.7 845.1L1590.8 845.1L1592.0 845.1L1593.1 845.1L1594.2 845.1L1595.3 845.1L1596.4 845.1L1597.6 845.1L1598.7 845.1L1599.8 845.1L1600.9 845.1L1602.1 845.1L1603.2 845.1L1604.3 845.1L1605.4 845.1L1606.6 845.1L1607.7 845.1L1608.8 845.1L1609.9 845.1L1611.0 845.1L1612.2 845.1L1613.3 845.1L1614.4 845.1L1615.5 845.1L1616.7 845.1L1617.8 845.1L1618.9 845.1L1620.0 845.1L1621.2 845.1L1622.3 845.2L1623.4 845.2L1624.5 845.2L1625.6 845.2L1626.8 845.2L1627.9 845.2L1629.0 845.2L1630.1 845.2L1631.3 845.2L1632.4 845.2L1633.5 845.2L1634.6 845.2L1635.7 845.2L1636.9 845.2L1638.0 845.3L1639.1 845.3L1640.2 845.3L1641.4 845.3L1642.5 845.3L1643.6 845.3L1644.7 845.3L1645.9 845.4L1647.0 845.4L1648.1 845.4L1649.2 845.4L1650.3 845.4L1651.5 845.4L1652.6 845.5L1653.7 845.5L1654.8 845.5L1656.0 845.5L1657.1 845.5L1658.2 845.5L1659.3 845.6L1660.4 845.6L1661.6 845.6L1662.7 845.6L1663.8 845.7L1664.9 845.7L1666.1 845.7L1667.2 845.7L1668.3 845.7L1669.4 845.8L1670.6 845.8L1671.7 845.8L1672.8 845.8" stroke="#9a52b6" stroke-width="2.0" fill="none"/>
<path d="M1327.8 874.6H1672.8" stroke="#6fc4c6" stroke-width="1.8" fill="none"/>
<path d="M1224.8 874.6L1226.7 861.1L1228.5 848.3L1230.4 836.2L1232.3 824.7L1234.2 814.0L1236.0 803.7L1237.9 793.8L1239.8 784.4L1241.7 775.6L1243.5 767.4L1245.4 759.8L1247.3 752.7L1249.2 746.2L1251.0 740.3L1252.9 734.9L1254.8 729.5L1256.7 723.9L1258.5 718.1L1260.4 712.3L1262.3 706.5L1264.2 700.8L1266.0 695.2L1267.9 689.9L1269.8 684.9L1271.7 680.0L1273.5 675.3L1275.4 670.7L1277.3 666.2L1279.2 661.8L1281.0 657.5L1282.9 653.4L1284.8 649.4L1286.7 645.6L1288.5 641.9L1290.4 638.3L1292.3 634.7L1294.2 631.3L1296.0 628.0L1297.9 624.8L1299.8 621.7L1301.7 618.9L1303.5 616.3L1305.4 613.8L1307.3 611.5L1309.2 609.2L1311.0 607.0L1312.9 604.8L1314.8 602.8L1316.6 600.8L1318.5 598.8L1320.4 597.0L1322.3 595.2L1324.1 593.5L1326.0 591.9L1327.9 590.3L1329.8 588.8L1331.6 587.4L1333.5 586.0L1335.4 584.6L1337.3 583.3L1339.1 582.0L1341.0 580.7L1342.9 579.5L1344.8 578.3L1346.6 577.1L1348.5 575.9L1350.4 574.8L1352.3 573.8L1354.1 572.7L1356.0 571.8L1357.9 570.8L1359.8 570.0L1361.6 569.1L1363.5 568.4L1365.4 567.7L1367.3 567.1L1369.1 566.5L1371.0 565.9L1372.9 565.4L1374.8 564.9L1376.6 564.4L1378.5 563.9L1380.4 563.4L1382.3 562.9L1384.1 562.5L1386.0 562.1L1387.9 561.7L1389.8 561.3L1391.6 560.9L1393.5 560.6L1395.4 560.3L1397.3 560.1L1399.1 559.8L1401.0 559.6L1402.9 559.5L1404.7 559.3L1406.6 559.2L1408.5 559.1L1410.4 559.0L1412.2 558.9L1414.1 558.8L1416.0 558.7L1417.9 558.7L1419.7 558.6L1421.6 558.6L1423.5 558.6L1425.4 558.7L1427.2 558.7L1429.1 558.8L1431.0 558.9L1432.9 559.0L1434.7 559.1L1436.6 559.3L1438.5 559.4L1440.4 559.6L1442.2 559.7L1444.1 559.9L1446.0 560.1L1447.9 560.2L1449.7 560.4L1451.6 560.6L1453.5 560.8L1455.4 561.0L1457.2 561.2L1459.1 561.5L1461.0 561.7L1462.9 562.0L1464.7 562.3L1466.6 562.6L1468.5 562.9L1470.4 563.2L1472.2 563.5L1474.1 563.8L1476.0 564.2L1477.9 564.5L1479.7 564.8L1481.6 565.2L1483.5 565.5L1485.4 565.9L1487.2 566.2L1489.1 566.6L1491.0 566.9L1492.9 567.3L1494.7 567.6L1496.6 568.0L1498.5 568.4L1500.3 568.7L1502.2 569.1L1504.1 569.5L1506.0 569.8L1507.8 570.2L1509.7 570.6L1511.6 571.0L1513.5 571.4L1515.3 571.8L1517.2 572.2L1519.1 572.6L1521.0 573.0L1522.8 573.5L1524.7 573.9L1526.6 574.3L1528.5 574.7L1530.3 575.2L1532.2 575.6L1534.1 576.0L1536.0 576.5L1537.8 576.9L1539.7 577.4L1541.6 577.8L1543.5 578.3L1545.3 578.7L1547.2 579.2L1549.1 579.6L1551.0 580.1L1552.8 580.6L1554.7 581.0L1556.6 581.5L1558.5 582.0L1560.3 582.4L1562.2 582.9L1564.1 583.4L1566.0 583.8L1567.8 584.3L1569.7 584.8L1571.6 585.2L1573.5 585.7L1575.3 586.2L1577.2 586.7L1579.1 587.1L1581.0 587.6L1582.8 588.1L1584.7 588.5L1586.6 589.0L1588.4 589.5L1590.3 590.0L1592.2 590.5L1594.1 590.9L1595.9 591.4L1597.8 591.9L1599.7 592.4L1601.6 592.9L1603.4 593.4L1605.3 593.9L1607.2 594.4L1609.1 594.9L1610.9 595.4L1612.8 595.9L1614.7 596.4L1616.6 596.9L1618.4 597.4L1620.3 597.9L1622.2 598.4L1624.1 598.9L1625.9 599.4L1627.8 599.9L1629.7 600.4L1631.6 601.0L1633.4 601.5L1635.3 602.0L1637.2 602.5L1639.1 603.0L1640.9 603.6L1642.8 604.1L1644.7 604.6L1646.6 605.2L1648.4 605.7L1650.3 606.2L1652.2 606.8L1654.1 607.3L1655.9 607.9L1657.8 608.4L1659.7 608.9L1661.6 609.5L1663.4 610.0L1665.3 610.6L1667.2 611.1L1669.1 611.7L1670.9 612.2L1672.8 612.8" stroke="#e3262e" stroke-width="2.3" fill="none" stroke-dasharray="8.4 6.6"/>
<rect x="1544.2" y="732.3" width="118.1" height="104.1" fill="#fff" stroke="#6e6e6e" stroke-width="1.1"/>
<path d="M1548.5 751.0H1590.5" stroke="#e3262e" stroke-width="2.3" stroke-dasharray="6.4 4.3" fill="none"/>
<path d="M1548.5 784.7H1590.5" stroke="#9a4fb8" stroke-width="2.2" fill="none"/>
<path d="M1548.5 818.4H1590.5" stroke="#6cc9cf" stroke-width="2.2" stroke-dasharray="1.6 1.6" fill="none"/>
<text x="1595.4" y="757.6" font-family='"Liberation Serif", "DejaVu Math TeX Gyre", "DejaVu Serif", serif' font-size="26px" fill="#111"><tspan font-style="italic">E</tspan><tspan font-style="italic" font-size="18.5px" dy="4.6">am</tspan></text>
<text x="1593.4" y="791.3" font-family='"Liberation Serif", "DejaVu Math TeX Gyre", "DejaVu Serif", serif' font-size="26px" fill="#111"><tspan font-style="normal">𝒢</tspan><tspan font-style="italic" font-size="18.5px" dy="4.6">m→a</tspan></text>
<text x="1593.4" y="825.0" font-family='"Liberation Serif", "DejaVu Math TeX Gyre", "DejaVu Serif", serif' font-size="26px" fill="#111"><tspan font-style="normal">𝒢</tspan><tspan font-style="italic" font-size="18.5px" dy="4.6">a→m</tspan></text>
<text x="1408.8" y="940.4" textLength="78.5" lengthAdjust="spacingAndGlyphs" font-family='"Liberation Serif", "DejaVu Serif", serif' font-size="27px" fill="#2a2a2a"><tspan font-style="italic">κ</tspan><tspan font-style="italic" font-size="18.5px" dy="4.4">a</tspan><tspan dy="-4.4">/</tspan><tspan font-style="italic">κ</tspan><tspan font-style="italic" font-size="18.5px" dy="4.4">m</tspan></text>
<text x="1150.8" y="557.7" font-family='"Liberation Serif", "DejaVu Serif", serif' font-size="34.6px" fill="#111">(f)</text>
</g>
</g>
</svg>
</body>
</html>
